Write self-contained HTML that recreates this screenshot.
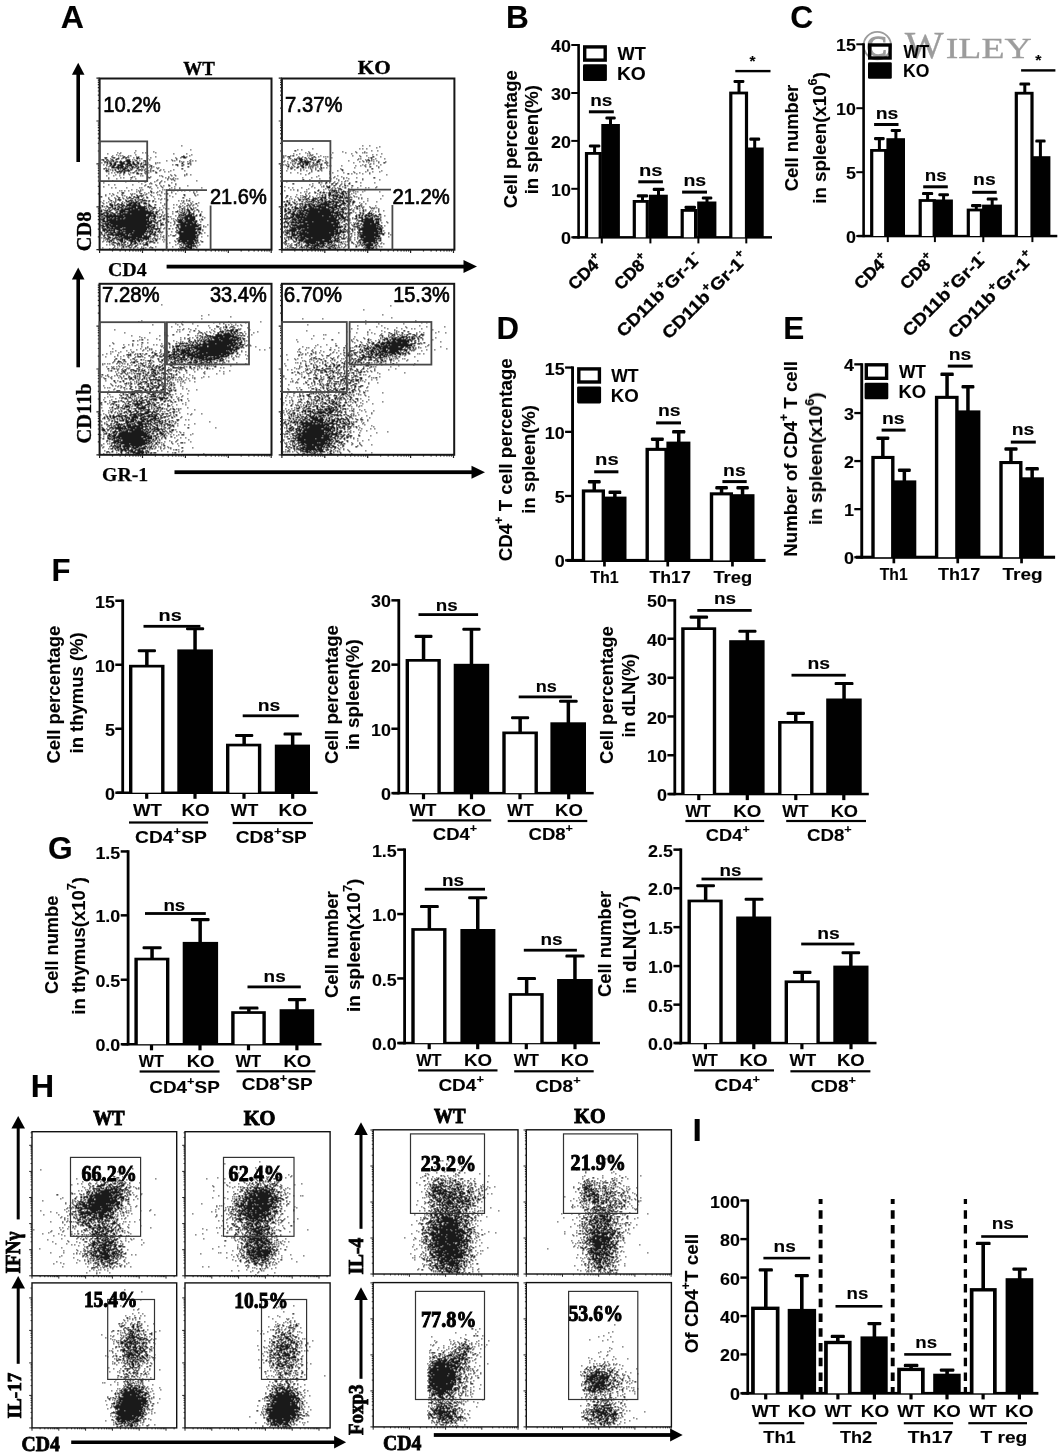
<!DOCTYPE html><html><head><meta charset="utf-8"><title>Figure</title><style>html,body{margin:0;padding:0;background:#fff}svg{display:block}text{font-family:"Liberation Sans",sans-serif}.sb{font-weight:bold;stroke:#000;stroke-width:.12px}.sn{font-weight:normal;stroke:#000;stroke-width:.7px}.rb{font-family:"Liberation Serif",serif;font-weight:bold;stroke:#000;stroke-width:.8px}.rn{font-family:"Liberation Serif",serif;font-weight:normal}.d{fill:none;stroke-width:1.1}</style></head><body><svg width="1064" height="1456" viewBox="0 0 1064 1456"><defs></defs><rect width="1064" height="1456" fill="#fff"/>
<g opacity="0.999">
<text class="sb" x="60.8" y="28" font-size="30.5" textLength="23.2" lengthAdjust="spacingAndGlyphs">A</text>
<text class="sb" x="506.1" y="27.6" font-size="30.5" textLength="22.8" lengthAdjust="spacingAndGlyphs">B</text>
<text class="sb" x="790.2" y="27.8" font-size="30.5" textLength="23" lengthAdjust="spacingAndGlyphs">C</text>
<text class="sb" x="496.6" y="338.9" font-size="30.5" textLength="22.5" lengthAdjust="spacingAndGlyphs">D</text>
<text class="sb" x="783.3" y="338.9" font-size="30.5" textLength="21" lengthAdjust="spacingAndGlyphs">E</text>
<text class="sb" x="51.5" y="580.8" font-size="30.5" textLength="19" lengthAdjust="spacingAndGlyphs">F</text>
<text class="sb" x="47.9" y="858.9" font-size="30.5" textLength="24.7" lengthAdjust="spacingAndGlyphs">G</text>
<text class="sb" x="30.8" y="1097" font-size="30.5" textLength="23.4" lengthAdjust="spacingAndGlyphs">H</text>
<text class="sb" x="692.4" y="1141.3" font-size="30.5" textLength="9.4" lengthAdjust="spacingAndGlyphs">I</text>
<rect x="577.3" y="44" width="2.6" height="194.6" fill="#000"/>
<rect x="572.6" y="236.1" width="199.4" height="2.5" fill="#000"/>
<rect x="571.3" y="44" width="7.3" height="2" fill="#000"/>
<text class="sb" x="551" y="52" font-size="17.4" textLength="19.9" lengthAdjust="spacingAndGlyphs">40</text>
<rect x="571.3" y="92" width="7.3" height="2" fill="#000"/>
<text class="sb" x="551" y="100" font-size="17.4" textLength="19.9" lengthAdjust="spacingAndGlyphs">30</text>
<rect x="571.3" y="139.9" width="7.3" height="2" fill="#000"/>
<text class="sb" x="551" y="147.9" font-size="17.4" textLength="19.9" lengthAdjust="spacingAndGlyphs">20</text>
<rect x="571.3" y="187.8" width="7.3" height="2" fill="#000"/>
<text class="sb" x="551" y="195.8" font-size="17.4" textLength="19.9" lengthAdjust="spacingAndGlyphs">10</text>
<rect x="571.3" y="236.3" width="7.3" height="2" fill="#000"/>
<text class="sb" x="560.9" y="244.3" font-size="17.4" textLength="10" lengthAdjust="spacingAndGlyphs">0</text>
<rect x="583" y="45.2" width="23.9" height="16.6" fill="#000"/>
<rect x="586.4" y="48.6" width="17.1" height="9.8" fill="#fff"/>
<rect x="583" y="64.3" width="23.9" height="16.8" rx="1.3"/>
<text class="sb" x="617.5" y="60.3" font-size="17.9" textLength="28.3" lengthAdjust="spacingAndGlyphs">WT</text>
<text class="sb" x="616.9" y="79.6" font-size="17.9" textLength="28.9" lengthAdjust="spacingAndGlyphs">KO</text>
<rect x="600.8" y="237.3" width="2" height="6.1" fill="#000"/>
<rect x="593.1" y="146" width="3" height="7" fill="#000"/>
<rect x="588.9" y="144.4" width="11.4" height="3.1" rx="1.2"/>
<rect x="584.9" y="152" width="16.9" height="85.3" fill="#000"/>
<rect x="588.1" y="154.8" width="10.5" height="82.5" fill="#fff"/>
<rect x="609" y="117.9" width="3" height="7.1" fill="#000"/>
<rect x="605.4" y="116.4" width="10.3" height="3.1" rx="1.2"/>
<rect x="601.3" y="124" width="18.6" height="113.3" fill="#000"/>
<text class="sb" x="590.3" y="105.8" font-size="17" textLength="22.1" lengthAdjust="spacingAndGlyphs">ns</text>
<rect x="588.9" y="110.3" width="24.9" height="3" fill="#000"/>
<rect x="649.4" y="237.3" width="2" height="6.1" fill="#000"/>
<rect x="641" y="195.9" width="3" height="5.1" fill="#000"/>
<rect x="636.8" y="194.3" width="11.3" height="3.1" rx="1.2"/>
<rect x="632.7" y="200" width="16.2" height="37.3" fill="#000"/>
<rect x="635.9" y="202.8" width="9.8" height="34.5" fill="#fff"/>
<rect x="657" y="189.4" width="3" height="6.3" fill="#000"/>
<rect x="652.7" y="187.8" width="11.7" height="3.1" rx="1.2"/>
<rect x="648.9" y="194.7" width="18.9" height="42.6" fill="#000"/>
<text class="sb" x="639" y="175.8" font-size="17" textLength="23.5" lengthAdjust="spacingAndGlyphs">ns</text>
<rect x="638.3" y="180.3" width="24.6" height="3" fill="#000"/>
<rect x="697.4" y="237.3" width="2" height="6.1" fill="#000"/>
<rect x="688.8" y="207.4" width="3" height="2.6" fill="#000"/>
<rect x="684.5" y="205.8" width="11.5" height="3.1" rx="1.2"/>
<rect x="680.6" y="209" width="16.6" height="28.3" fill="#000"/>
<rect x="683.8" y="211.8" width="10.2" height="25.5" fill="#fff"/>
<rect x="705.5" y="198" width="3" height="4.5" fill="#000"/>
<rect x="701.8" y="196.4" width="10.5" height="3.1" rx="1.2"/>
<rect x="697.2" y="201.5" width="19.2" height="35.8" fill="#000"/>
<text class="sb" x="683.4" y="185.6" font-size="17" textLength="22.8" lengthAdjust="spacingAndGlyphs">ns</text>
<rect x="682.1" y="190.6" width="24.9" height="3" fill="#000"/>
<rect x="745.3" y="237.3" width="2" height="6.1" fill="#000"/>
<rect x="737.5" y="81.4" width="3" height="11.2" fill="#000"/>
<rect x="733.5" y="79.9" width="10.9" height="3.1" rx="1.2"/>
<rect x="729.2" y="91.6" width="18.9" height="145.7" fill="#000"/>
<rect x="732.4" y="94.4" width="12.5" height="142.9" fill="#fff"/>
<rect x="753.2" y="139.2" width="3" height="9.3" fill="#000"/>
<rect x="749.3" y="137.6" width="10.9" height="3.1" rx="1.2"/>
<rect x="745.6" y="147.5" width="18.1" height="89.8" fill="#000"/>
<text class="sb" x="749.6" y="66" font-size="15" textLength="6" lengthAdjust="spacingAndGlyphs">*</text>
<rect x="735.3" y="69.9" width="35.2" height="2.4" fill="#000"/>
<g transform="translate(517,207.5) rotate(-90)"><text class="sb" x="-0.7" y="0" font-size="18.3" textLength="138" lengthAdjust="spacingAndGlyphs">Cell percentage</text></g>
<g transform="translate(538.3,193.1) rotate(-90)"><text class="sb" x="-1.2" y="0" font-size="18.3" textLength="109.3" lengthAdjust="spacingAndGlyphs">in spleen(%)</text></g>
<g transform="translate(575.5,290.5) rotate(-45)"><text class="sb" x="-0.7" y="0" font-size="17" textLength="34.8" lengthAdjust="spacingAndGlyphs" style="stroke-width:0.35px;">CD4</text><text class="sb" x="34.1" y="-7.8" font-size="11.6" textLength="6.9" lengthAdjust="spacingAndGlyphs" style="stroke-width:0.35px;">+</text></g>
<g transform="translate(621.5,290.5) rotate(-45)"><text class="sb" x="-0.7" y="0" font-size="17" textLength="34.8" lengthAdjust="spacingAndGlyphs" style="stroke-width:0.35px;">CD8</text><text class="sb" x="34.1" y="-7.8" font-size="11.6" textLength="6.9" lengthAdjust="spacingAndGlyphs" style="stroke-width:0.35px;">+</text></g>
<g transform="translate(624,337.5) rotate(-45)"><text class="sb" x="-0.8" y="0" font-size="17" textLength="59.8" lengthAdjust="spacingAndGlyphs" style="stroke-width:0.35px;">CD11b</text><text class="sb" x="59" y="-7.8" font-size="11.6" textLength="7.6" lengthAdjust="spacingAndGlyphs" style="stroke-width:0.35px;">+</text><text class="sb" x="66.6" y="0" font-size="17" textLength="39.5" lengthAdjust="spacingAndGlyphs" style="stroke-width:0.35px;">Gr-1</text><text class="sb" x="106.1" y="-7.8" font-size="11.6" textLength="4.4" lengthAdjust="spacingAndGlyphs" style="stroke-width:0.35px;">-</text></g>
<g transform="translate(669.5,339.5) rotate(-45)"><text class="sb" x="-0.8" y="0" font-size="17" textLength="59.6" lengthAdjust="spacingAndGlyphs" style="stroke-width:0.35px;">CD11b</text><text class="sb" x="58.9" y="-7.8" font-size="11.6" textLength="7.6" lengthAdjust="spacingAndGlyphs" style="stroke-width:0.35px;">+</text><text class="sb" x="66.5" y="0" font-size="17" textLength="39.4" lengthAdjust="spacingAndGlyphs" style="stroke-width:0.35px;">Gr-1</text><text class="sb" x="105.9" y="-7.8" font-size="11.6" textLength="7.6" lengthAdjust="spacingAndGlyphs" style="stroke-width:0.35px;">+</text></g>
<rect x="862.3" y="43.3" width="2.6" height="193.9" fill="#000"/>
<rect x="857.6" y="234.8" width="199.7" height="2.5" fill="#000"/>
<rect x="856.3" y="43.3" width="7.3" height="2" fill="#000"/>
<text class="sb" x="836" y="51.3" font-size="17.4" textLength="19.9" lengthAdjust="spacingAndGlyphs">15</text>
<rect x="856.3" y="107.2" width="7.3" height="2" fill="#000"/>
<text class="sb" x="836" y="115.2" font-size="17.4" textLength="19.9" lengthAdjust="spacingAndGlyphs">10</text>
<rect x="856.3" y="171.2" width="7.3" height="2" fill="#000"/>
<text class="sb" x="845.9" y="179.2" font-size="17.4" textLength="10" lengthAdjust="spacingAndGlyphs">5</text>
<rect x="856.3" y="235" width="7.3" height="2" fill="#000"/>
<text class="sb" x="845.9" y="243" font-size="17.4" textLength="10" lengthAdjust="spacingAndGlyphs">0</text>
<rect x="868" y="43.3" width="23.8" height="16.4" fill="#000"/>
<rect x="871.4" y="46.7" width="17" height="9.6" fill="#fff"/>
<rect x="868" y="62.3" width="23.8" height="16.5" rx="1.3"/>
<text class="sb" x="903.4" y="58.1" font-size="17.9" textLength="25.9" lengthAdjust="spacingAndGlyphs">WT</text>
<text class="sb" x="903" y="77.3" font-size="17.9" textLength="26.3" lengthAdjust="spacingAndGlyphs">KO</text>
<rect x="886.8" y="236" width="2" height="6.1" fill="#000"/>
<rect x="877.9" y="138.7" width="3" height="11.3" fill="#000"/>
<rect x="874" y="137.1" width="10.7" height="3.1" rx="1.2"/>
<rect x="870.1" y="149" width="17.2" height="87" fill="#000"/>
<rect x="873.3" y="151.8" width="10.8" height="84.2" fill="#fff"/>
<rect x="894.4" y="130.5" width="3" height="8.7" fill="#000"/>
<rect x="890.7" y="128.9" width="10.3" height="3.1" rx="1.2"/>
<rect x="886.4" y="138.2" width="18.6" height="97.8" fill="#000"/>
<text class="sb" x="875.7" y="118.5" font-size="17" textLength="22.6" lengthAdjust="spacingAndGlyphs">ns</text>
<rect x="874.1" y="123" width="24.4" height="3" fill="#000"/>
<rect x="933.9" y="236" width="2" height="6.1" fill="#000"/>
<rect x="926.1" y="193.6" width="3" height="6.5" fill="#000"/>
<rect x="922" y="192" width="11.2" height="3.1" rx="1.2"/>
<rect x="918.6" y="199.1" width="17.2" height="36.9" fill="#000"/>
<rect x="921.8" y="201.9" width="10.8" height="34.1" fill="#fff"/>
<rect x="942.1" y="194.8" width="3" height="5.7" fill="#000"/>
<rect x="938.3" y="193.2" width="10.7" height="3.1" rx="1.2"/>
<rect x="934.9" y="199.5" width="18" height="36.5" fill="#000"/>
<text class="sb" x="924.8" y="180.6" font-size="17" textLength="21.9" lengthAdjust="spacingAndGlyphs">ns</text>
<rect x="923.2" y="185.3" width="24.6" height="3" fill="#000"/>
<rect x="982.3" y="236" width="2" height="6.1" fill="#000"/>
<rect x="974.8" y="205.7" width="3" height="3.9" fill="#000"/>
<rect x="971" y="204.1" width="10.5" height="3.1" rx="1.2"/>
<rect x="966.7" y="208.6" width="16.3" height="27.4" fill="#000"/>
<rect x="969.9" y="211.4" width="9.9" height="24.6" fill="#fff"/>
<rect x="990.7" y="199.1" width="3" height="6.5" fill="#000"/>
<rect x="986.7" y="197.5" width="10.9" height="3.1" rx="1.2"/>
<rect x="982.1" y="204.6" width="19.8" height="31.4" fill="#000"/>
<text class="sb" x="973.1" y="185.4" font-size="17" textLength="22.6" lengthAdjust="spacingAndGlyphs">ns</text>
<rect x="972.2" y="190.8" width="24.5" height="3" fill="#000"/>
<rect x="1031.4" y="236" width="2" height="6.1" fill="#000"/>
<rect x="1023.3" y="84.1" width="3" height="8.7" fill="#000"/>
<rect x="1019.4" y="82.5" width="10.8" height="3.1" rx="1.2"/>
<rect x="1014.7" y="91.8" width="18.9" height="144.2" fill="#000"/>
<rect x="1017.9" y="94.6" width="12.5" height="141.4" fill="#fff"/>
<rect x="1038.9" y="141.1" width="3" height="16.1" fill="#000"/>
<rect x="1035.3" y="139.5" width="10.3" height="3.1" rx="1.2"/>
<rect x="1032.4" y="156.2" width="18" height="79.8" fill="#000"/>
<text class="sb" x="1035.3" y="65" font-size="15" textLength="6.2" lengthAdjust="spacingAndGlyphs">*</text>
<rect x="1021.1" y="69.2" width="34.3" height="2.4" fill="#000"/>
<g transform="translate(798.1,190.6) rotate(-90)"><text class="sb" x="-0.7" y="0" font-size="18.3" textLength="106.6" lengthAdjust="spacingAndGlyphs">Cell number</text></g>
<g transform="translate(825.5,202.6) rotate(-90)"><text class="sb" x="-1.2" y="0" font-size="18.3" textLength="118.4" lengthAdjust="spacingAndGlyphs">in spleen(x10</text><text class="sb" x="117.2" y="-8.4" font-size="12.4" textLength="7.1" lengthAdjust="spacingAndGlyphs">6</text><text class="sb" x="124.3" y="0" font-size="18.3" textLength="6.2" lengthAdjust="spacingAndGlyphs">)</text></g>
<g transform="translate(861.5,290) rotate(-45)"><text class="sb" x="-0.7" y="0" font-size="17" textLength="34.8" lengthAdjust="spacingAndGlyphs" style="stroke-width:0.35px;">CD4</text><text class="sb" x="34.1" y="-7.8" font-size="11.6" textLength="6.9" lengthAdjust="spacingAndGlyphs" style="stroke-width:0.35px;">+</text></g>
<g transform="translate(907.5,290) rotate(-45)"><text class="sb" x="-0.7" y="0" font-size="17" textLength="34.8" lengthAdjust="spacingAndGlyphs" style="stroke-width:0.35px;">CD8</text><text class="sb" x="34.1" y="-7.8" font-size="11.6" textLength="6.9" lengthAdjust="spacingAndGlyphs" style="stroke-width:0.35px;">+</text></g>
<g transform="translate(910,337) rotate(-45)"><text class="sb" x="-0.8" y="0" font-size="17" textLength="59.8" lengthAdjust="spacingAndGlyphs" style="stroke-width:0.35px;">CD11b</text><text class="sb" x="59" y="-7.8" font-size="11.6" textLength="7.6" lengthAdjust="spacingAndGlyphs" style="stroke-width:0.35px;">+</text><text class="sb" x="66.6" y="0" font-size="17" textLength="39.5" lengthAdjust="spacingAndGlyphs" style="stroke-width:0.35px;">Gr-1</text><text class="sb" x="106.1" y="-7.8" font-size="11.6" textLength="4.4" lengthAdjust="spacingAndGlyphs" style="stroke-width:0.35px;">-</text></g>
<g transform="translate(955.5,339) rotate(-45)"><text class="sb" x="-0.8" y="0" font-size="17" textLength="59.6" lengthAdjust="spacingAndGlyphs" style="stroke-width:0.35px;">CD11b</text><text class="sb" x="58.9" y="-7.8" font-size="11.6" textLength="7.6" lengthAdjust="spacingAndGlyphs" style="stroke-width:0.35px;">+</text><text class="sb" x="66.5" y="0" font-size="17" textLength="39.4" lengthAdjust="spacingAndGlyphs" style="stroke-width:0.35px;">Gr-1</text><text class="sb" x="105.9" y="-7.8" font-size="11.6" textLength="7.6" lengthAdjust="spacingAndGlyphs" style="stroke-width:0.35px;">+</text></g>
<rect x="571.1" y="366.4" width="2.9" height="195.6" fill="#000"/>
<rect x="566.6" y="558.9" width="199" height="3.1" fill="#000"/>
<rect x="565.1" y="366.4" width="7.5" height="2.3" fill="#000"/>
<text class="sb" x="544.8" y="374.5" font-size="17.4" textLength="19.9" lengthAdjust="spacingAndGlyphs">15</text>
<rect x="565.1" y="430.7" width="7.5" height="2.3" fill="#000"/>
<text class="sb" x="544.8" y="438.8" font-size="17.4" textLength="19.9" lengthAdjust="spacingAndGlyphs">10</text>
<rect x="565.1" y="494.8" width="7.5" height="2.3" fill="#000"/>
<text class="sb" x="554.8" y="502.9" font-size="17.4" textLength="10" lengthAdjust="spacingAndGlyphs">5</text>
<rect x="565.1" y="559.2" width="7.5" height="2.3" fill="#000"/>
<text class="sb" x="554.8" y="567.4" font-size="17.4" textLength="10" lengthAdjust="spacingAndGlyphs">0</text>
<rect x="577.1" y="367.2" width="24" height="16.5" fill="#000"/>
<rect x="580.5" y="370.6" width="17.2" height="9.7" fill="#fff"/>
<rect x="577.1" y="386.5" width="24" height="16.9" rx="1.3"/>
<text class="sb" x="611.2" y="382.3" font-size="17.9" textLength="27.4" lengthAdjust="spacingAndGlyphs">WT</text>
<text class="sb" x="610.7" y="401.5" font-size="17.9" textLength="28" lengthAdjust="spacingAndGlyphs">KO</text>
<rect x="603.1" y="560.4" width="2.7" height="6.1" fill="#000"/>
<rect x="592.5" y="481.6" width="3.5" height="8.8" fill="#000"/>
<rect x="587.9" y="479.9" width="12.8" height="3.5" rx="1.2"/>
<rect x="581.8" y="489.4" width="23.2" height="71" fill="#000"/>
<rect x="585.2" y="492.5" width="16.4" height="67.9" fill="#fff"/>
<rect x="613.1" y="492.4" width="3.5" height="5.2" fill="#000"/>
<rect x="608.5" y="490.6" width="12.8" height="3.5" rx="1.2"/>
<rect x="603.3" y="496.6" width="23.2" height="63.8" fill="#000"/>
<text class="sb" x="595.1" y="465.3" font-size="17" textLength="23.6" lengthAdjust="spacingAndGlyphs">ns</text>
<rect x="594.2" y="470.3" width="24.2" height="3" fill="#000"/>
<rect x="666.4" y="560.4" width="2.7" height="6.1" fill="#000"/>
<rect x="655.6" y="439.2" width="3.5" height="9.6" fill="#000"/>
<rect x="650.9" y="437.4" width="12.9" height="3.5" rx="1.2"/>
<rect x="645.5" y="447.8" width="22.3" height="112.6" fill="#000"/>
<rect x="648.9" y="450.9" width="15.5" height="109.5" fill="#fff"/>
<rect x="677" y="431.8" width="3.5" height="10.8" fill="#000"/>
<rect x="672.1" y="430.1" width="13.2" height="3.5" rx="1.2"/>
<rect x="666.4" y="441.6" width="24" height="118.8" fill="#000"/>
<text class="sb" x="657.9" y="416.4" font-size="17" textLength="22.6" lengthAdjust="spacingAndGlyphs">ns</text>
<rect x="656.1" y="421.4" width="24.9" height="3" fill="#000"/>
<rect x="731.1" y="560.4" width="2.7" height="6.1" fill="#000"/>
<rect x="719.8" y="487.6" width="3.5" height="5.7" fill="#000"/>
<rect x="715.3" y="485.9" width="12.6" height="3.5" rx="1.2"/>
<rect x="709.8" y="492.3" width="23.2" height="68.1" fill="#000"/>
<rect x="713.2" y="495.4" width="16.4" height="65" fill="#fff"/>
<rect x="740.8" y="487.6" width="3.5" height="7.6" fill="#000"/>
<rect x="736.4" y="485.9" width="12.4" height="3.5" rx="1.2"/>
<rect x="731.6" y="494.2" width="22.9" height="66.2" fill="#000"/>
<text class="sb" x="723.1" y="475.6" font-size="17" textLength="22.6" lengthAdjust="spacingAndGlyphs">ns</text>
<rect x="722.4" y="480.1" width="24.3" height="3" fill="#000"/>
<text class="sb" x="590.2" y="582.9" font-size="17" textLength="28.6" lengthAdjust="spacingAndGlyphs">Th1</text>
<text class="sb" x="649.5" y="582.9" font-size="17" textLength="41.3" lengthAdjust="spacingAndGlyphs">Th17</text>
<text class="sb" x="713.4" y="582.9" font-size="17" textLength="38.8" lengthAdjust="spacingAndGlyphs">Treg</text>
<g transform="translate(511.5,560.6) rotate(-90)"><text class="sb" x="-0.7" y="0" font-size="18.3" textLength="37.5" lengthAdjust="spacingAndGlyphs">CD4</text><text class="sb" x="36.7" y="-8.4" font-size="12.4" textLength="7.4" lengthAdjust="spacingAndGlyphs">+</text><text class="sb" x="44.1" y="0" font-size="18.3" textLength="158.2" lengthAdjust="spacingAndGlyphs"> T cell percentage</text></g>
<g transform="translate(535,512.5) rotate(-90)"><text class="sb" x="-1.2" y="0" font-size="18.3" textLength="108.5" lengthAdjust="spacingAndGlyphs">in spleen(%)</text></g>
<rect x="860.3" y="363.2" width="2.9" height="195.5" fill="#000"/>
<rect x="855.8" y="555.7" width="199.3" height="3.1" fill="#000"/>
<rect x="854.3" y="363.2" width="7.5" height="2.3" fill="#000"/>
<text class="sb" x="844" y="371.4" font-size="17.4" textLength="10" lengthAdjust="spacingAndGlyphs">4</text>
<rect x="854.3" y="411.9" width="7.5" height="2.3" fill="#000"/>
<text class="sb" x="844" y="420" font-size="17.4" textLength="10" lengthAdjust="spacingAndGlyphs">3</text>
<rect x="854.3" y="459.9" width="7.5" height="2.3" fill="#000"/>
<text class="sb" x="844" y="468" font-size="17.4" textLength="10" lengthAdjust="spacingAndGlyphs">2</text>
<rect x="854.3" y="508" width="7.5" height="2.3" fill="#000"/>
<text class="sb" x="844" y="516.1" font-size="17.4" textLength="10" lengthAdjust="spacingAndGlyphs">1</text>
<rect x="854.3" y="556.1" width="7.5" height="2.3" fill="#000"/>
<text class="sb" x="844" y="564.2" font-size="17.4" textLength="10" lengthAdjust="spacingAndGlyphs">0</text>
<rect x="864.6" y="363.1" width="23.7" height="16.9" fill="#000"/>
<rect x="868" y="366.5" width="16.9" height="10.1" fill="#fff"/>
<rect x="864.6" y="382.8" width="23.7" height="16.5" rx="1.3"/>
<text class="sb" x="898.9" y="377.8" font-size="17.9" textLength="27.1" lengthAdjust="spacingAndGlyphs">WT</text>
<text class="sb" x="898.4" y="397.9" font-size="17.9" textLength="27.6" lengthAdjust="spacingAndGlyphs">KO</text>
<rect x="892.5" y="557.2" width="2.7" height="6.1" fill="#000"/>
<rect x="881.1" y="438.2" width="3.5" height="18.7" fill="#000"/>
<rect x="876.4" y="436.4" width="12.9" height="3.5" rx="1.2"/>
<rect x="871.3" y="455.9" width="23.2" height="101.3" fill="#000"/>
<rect x="874.7" y="459" width="16.4" height="98.2" fill="#fff"/>
<rect x="902.6" y="470.1" width="3.5" height="11.3" fill="#000"/>
<rect x="897.9" y="468.4" width="12.9" height="3.5" rx="1.2"/>
<rect x="892.7" y="480.4" width="23.6" height="76.8" fill="#000"/>
<text class="sb" x="882" y="424.1" font-size="17" textLength="22.6" lengthAdjust="spacingAndGlyphs">ns</text>
<rect x="881.6" y="428.6" width="24" height="3" fill="#000"/>
<rect x="956.4" y="557.2" width="2.7" height="6.1" fill="#000"/>
<rect x="945.3" y="374.3" width="3.5" height="22.5" fill="#000"/>
<rect x="940.4" y="372.6" width="13.4" height="3.5" rx="1.2"/>
<rect x="934.9" y="395.8" width="23.7" height="161.4" fill="#000"/>
<rect x="938.3" y="398.9" width="16.9" height="158.3" fill="#fff"/>
<rect x="966.2" y="386.7" width="3.5" height="24.7" fill="#000"/>
<rect x="961.5" y="384.9" width="12.9" height="3.5" rx="1.2"/>
<rect x="956.4" y="410.4" width="24" height="146.8" fill="#000"/>
<text class="sb" x="948.7" y="359.7" font-size="17" textLength="22.6" lengthAdjust="spacingAndGlyphs">ns</text>
<rect x="947.8" y="364.6" width="24.9" height="3" fill="#000"/>
<rect x="1020.2" y="557.2" width="2.7" height="6.1" fill="#000"/>
<rect x="1009.2" y="449" width="3.5" height="13" fill="#000"/>
<rect x="1004.4" y="447.2" width="13.2" height="3.5" rx="1.2"/>
<rect x="999.3" y="461" width="23.2" height="96.2" fill="#000"/>
<rect x="1002.7" y="464.1" width="16.4" height="93.1" fill="#fff"/>
<rect x="1030.4" y="468.8" width="3.5" height="9.5" fill="#000"/>
<rect x="1025.5" y="467.1" width="13.3" height="3.5" rx="1.2"/>
<rect x="1020.7" y="477.3" width="23.2" height="79.9" fill="#000"/>
<text class="sb" x="1011.7" y="435.3" font-size="17" textLength="22.6" lengthAdjust="spacingAndGlyphs">ns</text>
<rect x="1010.8" y="440.6" width="25" height="3" fill="#000"/>
<text class="sb" x="879.7" y="580.3" font-size="17" textLength="28" lengthAdjust="spacingAndGlyphs">Th1</text>
<text class="sb" x="938.1" y="580.3" font-size="17" textLength="42.1" lengthAdjust="spacingAndGlyphs">Th17</text>
<text class="sb" x="1002.5" y="580.3" font-size="17" textLength="40.1" lengthAdjust="spacingAndGlyphs">Treg</text>
<g transform="translate(796.7,555.5) rotate(-90)"><text class="sb" x="-1.2" y="0" font-size="18.3" textLength="135.5" lengthAdjust="spacingAndGlyphs">Number of CD4</text><text class="sb" x="134.3" y="-8.4" font-size="12.4" textLength="7.4" lengthAdjust="spacingAndGlyphs">+</text><text class="sb" x="141.7" y="0" font-size="18.3" textLength="52.8" lengthAdjust="spacingAndGlyphs"> T cell</text></g>
<g transform="translate(822,523.7) rotate(-90)"><text class="sb" x="-1.2" y="0" font-size="18.3" textLength="119.2" lengthAdjust="spacingAndGlyphs">in spleen(x10</text><text class="sb" x="118" y="-8.4" font-size="12.4" textLength="7.1" lengthAdjust="spacingAndGlyphs">6</text><text class="sb" x="125.1" y="0" font-size="18.3" textLength="6.3" lengthAdjust="spacingAndGlyphs">)</text></g>
<rect x="121.3" y="599.5" width="2.8" height="194.4" fill="#000"/>
<rect x="116.7" y="791.5" width="201" height="2.5" fill="#000"/>
<rect x="115.3" y="599.5" width="7.4" height="2.5" fill="#000"/>
<text class="sb" x="95" y="607.8" font-size="17.4" textLength="19.9" lengthAdjust="spacingAndGlyphs">15</text>
<rect x="115.3" y="663.5" width="7.4" height="2.5" fill="#000"/>
<text class="sb" x="95" y="671.8" font-size="17.4" textLength="19.9" lengthAdjust="spacingAndGlyphs">10</text>
<rect x="115.3" y="727.5" width="7.4" height="2.5" fill="#000"/>
<text class="sb" x="104.9" y="735.8" font-size="17.4" textLength="10" lengthAdjust="spacingAndGlyphs">5</text>
<rect x="115.3" y="791.5" width="7.4" height="2.5" fill="#000"/>
<text class="sb" x="104.9" y="799.7" font-size="17.4" textLength="10" lengthAdjust="spacingAndGlyphs">0</text>
<rect x="145.1" y="792.7" width="3.2" height="6.1" fill="#000"/>
<rect x="193.4" y="792.7" width="3.2" height="6.1" fill="#000"/>
<rect x="242.4" y="792.7" width="3.2" height="6.1" fill="#000"/>
<rect x="291.1" y="792.7" width="3.2" height="6.1" fill="#000"/>
<rect x="145.1" y="650.8" width="3.5" height="15" fill="#000"/>
<rect x="137.7" y="649.2" width="18.3" height="3.1" rx="1.2"/>
<rect x="129" y="664.8" width="35.5" height="127.9" fill="#000"/>
<rect x="132.4" y="667.5" width="28.7" height="125.2" fill="#fff"/>
<rect x="193.3" y="628.8" width="3.5" height="21.6" fill="#000"/>
<rect x="186" y="627.2" width="18.2" height="3.1" rx="1.2"/>
<rect x="177.3" y="649.4" width="35.6" height="143.3" fill="#000"/>
<text class="sb" x="158.5" y="620.6" font-size="17" textLength="23.2" lengthAdjust="spacingAndGlyphs">ns</text>
<rect x="143.5" y="624.9" width="56.9" height="2.8" fill="#000"/>
<text class="sb" x="132.9" y="815.8" font-size="17" textLength="28.9" lengthAdjust="spacingAndGlyphs">WT</text>
<text class="sb" x="181.5" y="815.8" font-size="17" textLength="28.3" lengthAdjust="spacingAndGlyphs">KO</text>
<rect x="129" y="821.4" width="79.1" height="2.2" fill="#000"/>
<text class="sb" x="135" y="842.7" font-size="17" textLength="38.5" lengthAdjust="spacingAndGlyphs">CD4</text><text class="sb" x="173.5" y="834.9" font-size="11.6" textLength="7.6" lengthAdjust="spacingAndGlyphs">+</text><text class="sb" x="181.2" y="842.7" font-size="17" textLength="25.7" lengthAdjust="spacingAndGlyphs">SP</text>
<rect x="242.4" y="735.4" width="3.5" height="9.3" fill="#000"/>
<rect x="235" y="733.9" width="18.3" height="3.1" rx="1.2"/>
<rect x="226" y="743.7" width="35.3" height="49" fill="#000"/>
<rect x="229.4" y="746.4" width="28.5" height="46.3" fill="#fff"/>
<rect x="290.9" y="734" width="3.5" height="11.6" fill="#000"/>
<rect x="283.5" y="732.5" width="18.4" height="3.1" rx="1.2"/>
<rect x="274.8" y="744.6" width="35.2" height="48.1" fill="#000"/>
<text class="sb" x="257.7" y="711" font-size="17" textLength="22.6" lengthAdjust="spacingAndGlyphs">ns</text>
<rect x="242.7" y="714.4" width="56.1" height="2.8" fill="#000"/>
<text class="sb" x="230.8" y="815.8" font-size="17" textLength="27.4" lengthAdjust="spacingAndGlyphs">WT</text>
<text class="sb" x="278.4" y="815.8" font-size="17" textLength="28.6" lengthAdjust="spacingAndGlyphs">KO</text>
<rect x="232.7" y="821.9" width="80.2" height="2.2" fill="#000"/>
<text class="sb" x="235.7" y="842.7" font-size="17" textLength="38.1" lengthAdjust="spacingAndGlyphs">CD8</text><text class="sb" x="273.9" y="834.9" font-size="11.6" textLength="7.6" lengthAdjust="spacingAndGlyphs">+</text><text class="sb" x="281.4" y="842.7" font-size="17" textLength="25.4" lengthAdjust="spacingAndGlyphs">SP</text>
<g transform="translate(60.1,762.9) rotate(-90)"><text class="sb" x="-0.7" y="0" font-size="18.3" textLength="137.9" lengthAdjust="spacingAndGlyphs">Cell percentage</text></g>
<g transform="translate(82.9,752.3) rotate(-90)"><text class="sb" x="-1.2" y="0" font-size="18.3" textLength="121.2" lengthAdjust="spacingAndGlyphs">in thymus (%)</text></g>
<rect x="397.4" y="599.1" width="2.8" height="195.2" fill="#000"/>
<rect x="392.8" y="791.9" width="200.9" height="2.5" fill="#000"/>
<rect x="391.4" y="599.1" width="7.4" height="2.5" fill="#000"/>
<text class="sb" x="371.1" y="607.4" font-size="17.4" textLength="19.9" lengthAdjust="spacingAndGlyphs">30</text>
<rect x="391.4" y="663.4" width="7.4" height="2.5" fill="#000"/>
<text class="sb" x="371.1" y="671.6" font-size="17.4" textLength="19.9" lengthAdjust="spacingAndGlyphs">20</text>
<rect x="391.4" y="727.5" width="7.4" height="2.5" fill="#000"/>
<text class="sb" x="371.1" y="735.7" font-size="17.4" textLength="19.9" lengthAdjust="spacingAndGlyphs">10</text>
<rect x="391.4" y="791.9" width="7.4" height="2.5" fill="#000"/>
<text class="sb" x="381" y="800.1" font-size="17.4" textLength="10" lengthAdjust="spacingAndGlyphs">0</text>
<rect x="421.9" y="793.1" width="3.2" height="6.1" fill="#000"/>
<rect x="469.9" y="793.1" width="3.2" height="6.1" fill="#000"/>
<rect x="518.4" y="793.1" width="3.2" height="6.1" fill="#000"/>
<rect x="567.1" y="793.1" width="3.2" height="6.1" fill="#000"/>
<rect x="421.8" y="636.3" width="3.5" height="23.7" fill="#000"/>
<rect x="414.6" y="634.8" width="17.9" height="3.1" rx="1.2"/>
<rect x="405.6" y="659" width="35.2" height="134.1" fill="#000"/>
<rect x="409" y="661.7" width="28.4" height="131.4" fill="#fff"/>
<rect x="469.7" y="629.2" width="3.5" height="35.6" fill="#000"/>
<rect x="462.3" y="627.7" width="18.3" height="3.1" rx="1.2"/>
<rect x="453.7" y="663.8" width="35.5" height="129.3" fill="#000"/>
<text class="sb" x="435.7" y="611.3" font-size="17" textLength="21.9" lengthAdjust="spacingAndGlyphs">ns</text>
<rect x="418.5" y="613.2" width="59.6" height="2.8" fill="#000"/>
<text class="sb" x="409.4" y="815.8" font-size="17" textLength="27" lengthAdjust="spacingAndGlyphs">WT</text>
<text class="sb" x="457.6" y="815.8" font-size="17" textLength="28.2" lengthAdjust="spacingAndGlyphs">KO</text>
<rect x="412.3" y="819.3" width="78.9" height="2.2" fill="#000"/>
<text class="sb" x="432.8" y="840.2" font-size="17" textLength="37.1" lengthAdjust="spacingAndGlyphs">CD4</text><text class="sb" x="469.8" y="832.4" font-size="11.6" textLength="7.4" lengthAdjust="spacingAndGlyphs">+</text>
<rect x="518.4" y="717.7" width="3.5" height="14.8" fill="#000"/>
<rect x="511" y="716.2" width="18.2" height="3.1" rx="1.2"/>
<rect x="502.3" y="731.5" width="35.6" height="61.6" fill="#000"/>
<rect x="505.7" y="734.2" width="28.8" height="58.9" fill="#fff"/>
<rect x="566.6" y="701.2" width="3.5" height="22.1" fill="#000"/>
<rect x="559" y="699.7" width="18.7" height="3.1" rx="1.2"/>
<rect x="550.4" y="722.3" width="35.6" height="70.8" fill="#000"/>
<text class="sb" x="535.7" y="692.1" font-size="17" textLength="21.1" lengthAdjust="spacingAndGlyphs">ns</text>
<rect x="518.7" y="695.5" width="53.2" height="2.8" fill="#000"/>
<text class="sb" x="507.1" y="815.8" font-size="17" textLength="26.5" lengthAdjust="spacingAndGlyphs">WT</text>
<text class="sb" x="555" y="815.8" font-size="17" textLength="27.8" lengthAdjust="spacingAndGlyphs">KO</text>
<rect x="507.7" y="819.9" width="79.6" height="2.2" fill="#000"/>
<text class="sb" x="528.5" y="840.2" font-size="17" textLength="37.2" lengthAdjust="spacingAndGlyphs">CD8</text><text class="sb" x="565.6" y="832.4" font-size="11.6" textLength="7.4" lengthAdjust="spacingAndGlyphs">+</text>
<g transform="translate(337.6,763.3) rotate(-90)"><text class="sb" x="-0.7" y="0" font-size="18.3" textLength="138.9" lengthAdjust="spacingAndGlyphs">Cell percentage</text></g>
<g transform="translate(359.4,748.8) rotate(-90)"><text class="sb" x="-1.2" y="0" font-size="18.3" textLength="110.8" lengthAdjust="spacingAndGlyphs">in spleen(%)</text></g>
<rect x="673.4" y="599.1" width="2.8" height="196.1" fill="#000"/>
<rect x="668.8" y="792.8" width="200" height="2.5" fill="#000"/>
<rect x="667.4" y="599.1" width="7.4" height="2.5" fill="#000"/>
<text class="sb" x="647.1" y="607.4" font-size="17.4" textLength="19.9" lengthAdjust="spacingAndGlyphs">50</text>
<rect x="667.4" y="637.5" width="7.4" height="2.5" fill="#000"/>
<text class="sb" x="647.1" y="645.8" font-size="17.4" textLength="19.9" lengthAdjust="spacingAndGlyphs">40</text>
<rect x="667.4" y="676.5" width="7.4" height="2.5" fill="#000"/>
<text class="sb" x="647.1" y="684.7" font-size="17.4" textLength="19.9" lengthAdjust="spacingAndGlyphs">30</text>
<rect x="667.4" y="715.2" width="7.4" height="2.5" fill="#000"/>
<text class="sb" x="647.1" y="723.5" font-size="17.4" textLength="19.9" lengthAdjust="spacingAndGlyphs">20</text>
<rect x="667.4" y="754" width="7.4" height="2.5" fill="#000"/>
<text class="sb" x="647.1" y="762.2" font-size="17.4" textLength="19.9" lengthAdjust="spacingAndGlyphs">10</text>
<rect x="667.4" y="792.8" width="7.4" height="2.5" fill="#000"/>
<text class="sb" x="657" y="801" font-size="17.4" textLength="10" lengthAdjust="spacingAndGlyphs">0</text>
<rect x="697.2" y="794" width="3.2" height="6.1" fill="#000"/>
<rect x="745.7" y="794" width="3.2" height="6.1" fill="#000"/>
<rect x="794.2" y="794" width="3.2" height="6.1" fill="#000"/>
<rect x="842.2" y="794" width="3.2" height="6.1" fill="#000"/>
<rect x="697.1" y="617.1" width="3.5" height="11.2" fill="#000"/>
<rect x="689.6" y="615.6" width="18.5" height="3.1" rx="1.2"/>
<rect x="681.2" y="627.3" width="35" height="166.7" fill="#000"/>
<rect x="684.6" y="630" width="28.2" height="164" fill="#fff"/>
<rect x="745.6" y="631.2" width="3.5" height="10" fill="#000"/>
<rect x="738.3" y="629.7" width="18.2" height="3.1" rx="1.2"/>
<rect x="729.2" y="640.2" width="35.4" height="153.8" fill="#000"/>
<text class="sb" x="714" y="604.2" font-size="17" textLength="22.1" lengthAdjust="spacingAndGlyphs">ns</text>
<rect x="697.3" y="609" width="54.4" height="2.8" fill="#000"/>
<text class="sb" x="685.4" y="816.5" font-size="17" textLength="25.5" lengthAdjust="spacingAndGlyphs">WT</text>
<text class="sb" x="733.2" y="816.5" font-size="17" textLength="28" lengthAdjust="spacingAndGlyphs">KO</text>
<rect x="685.4" y="819.9" width="78.8" height="2.2" fill="#000"/>
<text class="sb" x="705.8" y="840.8" font-size="17" textLength="36.6" lengthAdjust="spacingAndGlyphs">CD4</text><text class="sb" x="742.4" y="833" font-size="11.6" textLength="7.3" lengthAdjust="spacingAndGlyphs">+</text>
<rect x="794" y="713.3" width="3.5" height="8.7" fill="#000"/>
<rect x="786.5" y="711.8" width="18.5" height="3.1" rx="1.2"/>
<rect x="778.1" y="721" width="35.4" height="73" fill="#000"/>
<rect x="781.5" y="723.7" width="28.6" height="70.3" fill="#fff"/>
<rect x="842.3" y="683.5" width="3.5" height="16" fill="#000"/>
<rect x="834.6" y="682" width="18.9" height="3.1" rx="1.2"/>
<rect x="826.2" y="698.5" width="35.5" height="95.5" fill="#000"/>
<text class="sb" x="807.5" y="669" font-size="17" textLength="22.6" lengthAdjust="spacingAndGlyphs">ns</text>
<rect x="791.5" y="673.8" width="54.3" height="2.8" fill="#000"/>
<text class="sb" x="782.3" y="816.5" font-size="17" textLength="26.1" lengthAdjust="spacingAndGlyphs">WT</text>
<text class="sb" x="830.7" y="816.5" font-size="17" textLength="27.3" lengthAdjust="spacingAndGlyphs">KO</text>
<rect x="786.2" y="819.9" width="79.8" height="2.2" fill="#000"/>
<text class="sb" x="807" y="840.8" font-size="17" textLength="37.3" lengthAdjust="spacingAndGlyphs">CD8</text><text class="sb" x="844.3" y="833" font-size="11.6" textLength="7.4" lengthAdjust="spacingAndGlyphs">+</text>
<g transform="translate(613.1,763.3) rotate(-90)"><text class="sb" x="-0.7" y="0" font-size="18.3" textLength="137.9" lengthAdjust="spacingAndGlyphs">Cell percentage</text></g>
<g transform="translate(635.4,736.3) rotate(-90)"><text class="sb" x="-1.2" y="0" font-size="18.3" textLength="83.7" lengthAdjust="spacingAndGlyphs">in dLN(%)</text></g>
<rect x="126.7" y="850.2" width="2.8" height="195.2" fill="#000"/>
<rect x="122.1" y="1043" width="199.4" height="2.5" fill="#000"/>
<rect x="120.7" y="850.2" width="7.4" height="2.5" fill="#000"/>
<text class="sb" x="95.4" y="858.5" font-size="17.4" textLength="24.9" lengthAdjust="spacingAndGlyphs">1.5</text>
<rect x="120.7" y="914.1" width="7.4" height="2.5" fill="#000"/>
<text class="sb" x="95.4" y="922.4" font-size="17.4" textLength="24.9" lengthAdjust="spacingAndGlyphs">1.0</text>
<rect x="120.7" y="978.5" width="7.4" height="2.5" fill="#000"/>
<text class="sb" x="95.4" y="986.8" font-size="17.4" textLength="24.9" lengthAdjust="spacingAndGlyphs">0.5</text>
<rect x="120.7" y="1043" width="7.4" height="2.5" fill="#000"/>
<text class="sb" x="95.4" y="1051.2" font-size="17.4" textLength="24.9" lengthAdjust="spacingAndGlyphs">0.0</text>
<rect x="149.9" y="1044.2" width="3.2" height="6.1" fill="#000"/>
<rect x="198.4" y="1044.2" width="3.2" height="6.1" fill="#000"/>
<rect x="246.9" y="1044.2" width="3.2" height="6.1" fill="#000"/>
<rect x="295.3" y="1044.2" width="3.2" height="6.1" fill="#000"/>
<rect x="150.3" y="947.7" width="3.5" height="11" fill="#000"/>
<rect x="142.5" y="946.2" width="19.2" height="3.1" rx="1.2"/>
<rect x="134.4" y="957.7" width="35" height="86.5" fill="#000"/>
<rect x="137.8" y="960.4" width="28.2" height="83.8" fill="#fff"/>
<rect x="198.4" y="919.6" width="3.5" height="23.3" fill="#000"/>
<rect x="190.8" y="918.1" width="18.8" height="3.1" rx="1.2"/>
<rect x="182.7" y="941.9" width="35.4" height="102.3" fill="#000"/>
<text class="sb" x="163.4" y="910.6" font-size="17" textLength="21.9" lengthAdjust="spacingAndGlyphs">ns</text>
<rect x="145" y="912.1" width="60.8" height="2.8" fill="#000"/>
<text class="sb" x="138.7" y="1066.9" font-size="17" textLength="25.1" lengthAdjust="spacingAndGlyphs">WT</text>
<text class="sb" x="186.7" y="1066.9" font-size="17" textLength="27.8" lengthAdjust="spacingAndGlyphs">KO</text>
<rect x="139.6" y="1070.4" width="80" height="2.2" fill="#000"/>
<text class="sb" x="149.3" y="1093" font-size="17" textLength="37.7" lengthAdjust="spacingAndGlyphs">CD4</text><text class="sb" x="187.1" y="1085.2" font-size="11.6" textLength="7.5" lengthAdjust="spacingAndGlyphs">+</text><text class="sb" x="194.6" y="1093" font-size="17" textLength="25.2" lengthAdjust="spacingAndGlyphs">SP</text>
<rect x="247.1" y="1008" width="3.5" height="4.2" fill="#000"/>
<rect x="239.2" y="1006.5" width="19.3" height="3.1" rx="1.2"/>
<rect x="231.2" y="1011.2" width="34.6" height="33" fill="#000"/>
<rect x="234.6" y="1013.9" width="27.8" height="30.3" fill="#fff"/>
<rect x="295.3" y="999.6" width="3.5" height="10.6" fill="#000"/>
<rect x="287.9" y="998.1" width="18.3" height="3.1" rx="1.2"/>
<rect x="279.6" y="1009.2" width="34.6" height="35" fill="#000"/>
<text class="sb" x="263.6" y="982.3" font-size="17" textLength="22.1" lengthAdjust="spacingAndGlyphs">ns</text>
<rect x="247.5" y="985.5" width="53.3" height="2.8" fill="#000"/>
<text class="sb" x="235.4" y="1066.9" font-size="17" textLength="25.7" lengthAdjust="spacingAndGlyphs">WT</text>
<text class="sb" x="283.4" y="1066.9" font-size="17" textLength="27.7" lengthAdjust="spacingAndGlyphs">KO</text>
<rect x="236.5" y="1070.2" width="78.9" height="2.2" fill="#000"/>
<text class="sb" x="241.8" y="1090.1" font-size="17" textLength="38" lengthAdjust="spacingAndGlyphs">CD8</text><text class="sb" x="279.8" y="1082.3" font-size="11.6" textLength="7.5" lengthAdjust="spacingAndGlyphs">+</text><text class="sb" x="287.3" y="1090.1" font-size="17" textLength="25.3" lengthAdjust="spacingAndGlyphs">SP</text>
<g transform="translate(58.1,993.3) rotate(-90)"><text class="sb" x="-0.7" y="0" font-size="18.3" textLength="98.4" lengthAdjust="spacingAndGlyphs">Cell numbe</text></g>
<g transform="translate(84.8,1013.5) rotate(-90)"><text class="sb" x="-1.2" y="0" font-size="18.3" textLength="124.5" lengthAdjust="spacingAndGlyphs">in thymus(x10</text><text class="sb" x="123.3" y="-8.4" font-size="12.4" textLength="7" lengthAdjust="spacingAndGlyphs">7</text><text class="sb" x="130.3" y="0" font-size="18.3" textLength="6.2" lengthAdjust="spacingAndGlyphs">)</text></g>
<rect x="403.2" y="848.4" width="2.8" height="196" fill="#000"/>
<rect x="398.6" y="1041.8" width="201.4" height="2.5" fill="#000"/>
<rect x="397.2" y="848.4" width="7.4" height="2.5" fill="#000"/>
<text class="sb" x="371.9" y="856.6" font-size="17.4" textLength="24.9" lengthAdjust="spacingAndGlyphs">1.5</text>
<rect x="397.2" y="912.8" width="7.4" height="2.5" fill="#000"/>
<text class="sb" x="371.9" y="921" font-size="17.4" textLength="24.9" lengthAdjust="spacingAndGlyphs">1.0</text>
<rect x="397.2" y="977.2" width="7.4" height="2.5" fill="#000"/>
<text class="sb" x="371.9" y="985.5" font-size="17.4" textLength="24.9" lengthAdjust="spacingAndGlyphs">0.5</text>
<rect x="397.2" y="1041.8" width="7.4" height="2.5" fill="#000"/>
<text class="sb" x="371.9" y="1050.1" font-size="17.4" textLength="24.9" lengthAdjust="spacingAndGlyphs">0.0</text>
<rect x="427.6" y="1043.1" width="3.2" height="6.1" fill="#000"/>
<rect x="476.1" y="1043.1" width="3.2" height="6.1" fill="#000"/>
<rect x="524.7" y="1043.1" width="3.2" height="6.1" fill="#000"/>
<rect x="573.4" y="1043.1" width="3.2" height="6.1" fill="#000"/>
<rect x="427.6" y="906.5" width="3.5" height="22.6" fill="#000"/>
<rect x="420" y="905" width="18.8" height="3.1" rx="1.2"/>
<rect x="411.3" y="928.1" width="35.2" height="115" fill="#000"/>
<rect x="414.7" y="930.8" width="28.4" height="112.3" fill="#fff"/>
<rect x="476" y="897.7" width="3.5" height="32.3" fill="#000"/>
<rect x="468.1" y="896.2" width="19.2" height="3.1" rx="1.2"/>
<rect x="460.4" y="929" width="35" height="114.1" fill="#000"/>
<text class="sb" x="441.9" y="886.3" font-size="17" textLength="22.1" lengthAdjust="spacingAndGlyphs">ns</text>
<rect x="424.8" y="887.8" width="60.2" height="2.8" fill="#000"/>
<text class="sb" x="416.2" y="1065.6" font-size="17" textLength="25.4" lengthAdjust="spacingAndGlyphs">WT</text>
<text class="sb" x="464" y="1065.6" font-size="17" textLength="28" lengthAdjust="spacingAndGlyphs">KO</text>
<rect x="418.1" y="1069.3" width="79.4" height="2.2" fill="#000"/>
<text class="sb" x="438.4" y="1090.6" font-size="17" textLength="38" lengthAdjust="spacingAndGlyphs">CD4</text><text class="sb" x="476.5" y="1082.8" font-size="11.6" textLength="7.5" lengthAdjust="spacingAndGlyphs">+</text>
<rect x="524.9" y="978.5" width="3.5" height="15.6" fill="#000"/>
<rect x="517.3" y="977" width="18.7" height="3.1" rx="1.2"/>
<rect x="508.7" y="993.1" width="35" height="50" fill="#000"/>
<rect x="512.1" y="995.8" width="28.2" height="47.3" fill="#fff"/>
<rect x="573.2" y="956" width="3.5" height="24" fill="#000"/>
<rect x="565.4" y="954.5" width="19.2" height="3.1" rx="1.2"/>
<rect x="557.1" y="979" width="35.6" height="64.1" fill="#000"/>
<text class="sb" x="540.5" y="945" font-size="17" textLength="22.1" lengthAdjust="spacingAndGlyphs">ns</text>
<rect x="523.8" y="948.8" width="53.1" height="2.8" fill="#000"/>
<text class="sb" x="513.8" y="1065.6" font-size="17" textLength="25.1" lengthAdjust="spacingAndGlyphs">WT</text>
<text class="sb" x="560.7" y="1065.6" font-size="17" textLength="28" lengthAdjust="spacingAndGlyphs">KO</text>
<rect x="514.2" y="1070.2" width="79.5" height="2.2" fill="#000"/>
<text class="sb" x="535.2" y="1091.5" font-size="17" textLength="37.9" lengthAdjust="spacingAndGlyphs">CD8</text><text class="sb" x="573.2" y="1083.7" font-size="11.6" textLength="7.5" lengthAdjust="spacingAndGlyphs">+</text>
<g transform="translate(337.6,997.3) rotate(-90)"><text class="sb" x="-0.7" y="0" font-size="18.3" textLength="106.8" lengthAdjust="spacingAndGlyphs">Cell number</text></g>
<g transform="translate(360.4,1010.8) rotate(-90)"><text class="sb" x="-1.2" y="0" font-size="18.3" textLength="119.9" lengthAdjust="spacingAndGlyphs">in spleen(x10</text><text class="sb" x="118.7" y="-8.4" font-size="12.4" textLength="7.2" lengthAdjust="spacingAndGlyphs">7</text><text class="sb" x="125.8" y="0" font-size="18.3" textLength="6.3" lengthAdjust="spacingAndGlyphs">)</text></g>
<rect x="679.4" y="848.4" width="2.8" height="196" fill="#000"/>
<rect x="674.8" y="1041.8" width="201.7" height="2.5" fill="#000"/>
<rect x="673.4" y="848.4" width="7.4" height="2.5" fill="#000"/>
<text class="sb" x="648.1" y="856.6" font-size="17.4" textLength="24.9" lengthAdjust="spacingAndGlyphs">2.5</text>
<rect x="673.4" y="887" width="7.4" height="2.5" fill="#000"/>
<text class="sb" x="648.1" y="895.3" font-size="17.4" textLength="24.9" lengthAdjust="spacingAndGlyphs">2.0</text>
<rect x="673.4" y="925.9" width="7.4" height="2.5" fill="#000"/>
<text class="sb" x="648.1" y="934.1" font-size="17.4" textLength="24.9" lengthAdjust="spacingAndGlyphs">1.5</text>
<rect x="673.4" y="964.8" width="7.4" height="2.5" fill="#000"/>
<text class="sb" x="648.1" y="973" font-size="17.4" textLength="24.9" lengthAdjust="spacingAndGlyphs">1.0</text>
<rect x="673.4" y="1003.4" width="7.4" height="2.5" fill="#000"/>
<text class="sb" x="648.1" y="1011.6" font-size="17.4" textLength="24.9" lengthAdjust="spacingAndGlyphs">0.5</text>
<rect x="673.4" y="1041.8" width="7.4" height="2.5" fill="#000"/>
<text class="sb" x="648.1" y="1050.1" font-size="17.4" textLength="24.9" lengthAdjust="spacingAndGlyphs">0.0</text>
<rect x="703.8" y="1043.1" width="3.2" height="6.1" fill="#000"/>
<rect x="752.2" y="1043.1" width="3.2" height="6.1" fill="#000"/>
<rect x="800.3" y="1043.1" width="3.2" height="6.1" fill="#000"/>
<rect x="849.4" y="1043.1" width="3.2" height="6.1" fill="#000"/>
<rect x="703.9" y="885.8" width="3.5" height="14.8" fill="#000"/>
<rect x="696.2" y="884.2" width="18.8" height="3.1" rx="1.2"/>
<rect x="687.5" y="899.6" width="35.2" height="143.5" fill="#000"/>
<rect x="690.9" y="902.3" width="28.4" height="140.8" fill="#fff"/>
<rect x="752.3" y="899.2" width="3.5" height="18.3" fill="#000"/>
<rect x="744.6" y="897.7" width="18.9" height="3.1" rx="1.2"/>
<rect x="736.2" y="916.5" width="35" height="126.6" fill="#000"/>
<text class="sb" x="719.6" y="876.2" font-size="17" textLength="21.9" lengthAdjust="spacingAndGlyphs">ns</text>
<rect x="701.5" y="877.6" width="61" height="2.8" fill="#000"/>
<text class="sb" x="692.3" y="1066.2" font-size="17" textLength="25.5" lengthAdjust="spacingAndGlyphs">WT</text>
<text class="sb" x="739.6" y="1066.2" font-size="17" textLength="28.1" lengthAdjust="spacingAndGlyphs">KO</text>
<rect x="694.2" y="1069.3" width="79.8" height="2.2" fill="#000"/>
<text class="sb" x="714.6" y="1091.2" font-size="17" textLength="37.9" lengthAdjust="spacingAndGlyphs">CD4</text><text class="sb" x="752.6" y="1083.4" font-size="11.6" textLength="7.5" lengthAdjust="spacingAndGlyphs">+</text>
<rect x="800.5" y="972.3" width="3.5" height="9.1" fill="#000"/>
<rect x="792.9" y="970.8" width="18.6" height="3.1" rx="1.2"/>
<rect x="784.6" y="980.4" width="35.2" height="62.7" fill="#000"/>
<rect x="788" y="983.1" width="28.4" height="60" fill="#fff"/>
<rect x="849.1" y="952.7" width="3.5" height="13.9" fill="#000"/>
<rect x="841.5" y="951.2" width="18.7" height="3.1" rx="1.2"/>
<rect x="833.3" y="965.6" width="35.2" height="77.5" fill="#000"/>
<text class="sb" x="817.2" y="938.7" font-size="17" textLength="22.5" lengthAdjust="spacingAndGlyphs">ns</text>
<rect x="801.2" y="942.6" width="53.2" height="2.8" fill="#000"/>
<text class="sb" x="789.6" y="1066.2" font-size="17" textLength="26.5" lengthAdjust="spacingAndGlyphs">WT</text>
<text class="sb" x="836.9" y="1066.2" font-size="17" textLength="27.8" lengthAdjust="spacingAndGlyphs">KO</text>
<rect x="790.4" y="1070.2" width="80" height="2.2" fill="#000"/>
<text class="sb" x="810.7" y="1091.5" font-size="17" textLength="37.7" lengthAdjust="spacingAndGlyphs">CD8</text><text class="sb" x="848.4" y="1083.7" font-size="11.6" textLength="7.5" lengthAdjust="spacingAndGlyphs">+</text>
<g transform="translate(611.2,996.3) rotate(-90)"><text class="sb" x="-0.7" y="0" font-size="18.3" textLength="106.1" lengthAdjust="spacingAndGlyphs">Cell number</text></g>
<g transform="translate(636,992.5) rotate(-90)"><text class="sb" x="-1.2" y="0" font-size="18.3" textLength="85" lengthAdjust="spacingAndGlyphs">in dLN(10</text><text class="sb" x="83.8" y="-8.4" font-size="12.4" textLength="7.1" lengthAdjust="spacingAndGlyphs">7</text><text class="sb" x="90.9" y="0" font-size="18.3" textLength="6.2" lengthAdjust="spacingAndGlyphs">)</text></g>
<rect x="746.4" y="1199.3" width="2.7" height="195.4" fill="#000"/>
<rect x="741.7" y="1391.9" width="296.7" height="2.8" fill="#000"/>
<rect x="740.4" y="1199.3" width="7.4" height="2.4" fill="#000"/>
<text class="sb" x="710" y="1207.5" font-size="17.4" textLength="29.9" lengthAdjust="spacingAndGlyphs">100</text>
<rect x="740.4" y="1237.9" width="7.4" height="2.4" fill="#000"/>
<text class="sb" x="720" y="1246.1" font-size="17.4" textLength="19.9" lengthAdjust="spacingAndGlyphs">80</text>
<rect x="740.4" y="1276.4" width="7.4" height="2.4" fill="#000"/>
<text class="sb" x="720" y="1284.6" font-size="17.4" textLength="19.9" lengthAdjust="spacingAndGlyphs">60</text>
<rect x="740.4" y="1314.9" width="7.4" height="2.4" fill="#000"/>
<text class="sb" x="720" y="1323.1" font-size="17.4" textLength="19.9" lengthAdjust="spacingAndGlyphs">40</text>
<rect x="740.4" y="1353.2" width="7.4" height="2.4" fill="#000"/>
<text class="sb" x="720" y="1361.4" font-size="17.4" textLength="19.9" lengthAdjust="spacingAndGlyphs">20</text>
<rect x="740.4" y="1392.1" width="7.4" height="2.4" fill="#000"/>
<text class="sb" x="730" y="1400.3" font-size="17.4" textLength="10" lengthAdjust="spacingAndGlyphs">0</text>
<rect x="764.1" y="1393.3" width="3.2" height="6.1" fill="#000"/>
<rect x="800.3" y="1393.3" width="3.2" height="6.1" fill="#000"/>
<rect x="836.3" y="1393.3" width="3.2" height="6.1" fill="#000"/>
<rect x="872.8" y="1393.3" width="3.2" height="6.1" fill="#000"/>
<rect x="909.4" y="1393.3" width="3.2" height="6.1" fill="#000"/>
<rect x="945.4" y="1393.3" width="3.2" height="6.1" fill="#000"/>
<rect x="981.5" y="1393.3" width="3.2" height="6.1" fill="#000"/>
<rect x="1017.8" y="1393.3" width="3.2" height="6.1" fill="#000"/>
<rect x="764" y="1270" width="3.6" height="37.6" fill="#000"/>
<rect x="758.7" y="1268.3" width="14.2" height="3.3" rx="1.2"/>
<rect x="751.1" y="1306.6" width="28.4" height="86.7" fill="#000"/>
<rect x="754.8" y="1310" width="21" height="83.3" fill="#fff"/>
<rect x="800" y="1275.7" width="3.6" height="34.2" fill="#000"/>
<rect x="794.7" y="1274" width="14.2" height="3.3" rx="1.2"/>
<rect x="787.7" y="1308.9" width="28.4" height="84.4" fill="#000"/>
<text class="sb" x="773.6" y="1251.7" font-size="17" textLength="22.2" lengthAdjust="spacingAndGlyphs">ns</text>
<rect x="763.4" y="1256.8" width="46.8" height="2.6" fill="#000"/>
<text class="sb" x="751.7" y="1416.6" font-size="17" textLength="28.3" lengthAdjust="spacingAndGlyphs">WT</text>
<text class="sb" x="787.8" y="1416.6" font-size="17" textLength="28.5" lengthAdjust="spacingAndGlyphs">KO</text>
<rect x="758.7" y="1422.1" width="45.5" height="2.2" fill="#000"/>
<text class="sb" x="763.2" y="1443.1" font-size="17" textLength="32.6" lengthAdjust="spacingAndGlyphs">Th1</text>
<rect x="836" y="1336.4" width="3.6" height="5.4" fill="#000"/>
<rect x="830.7" y="1334.8" width="14.2" height="3.3" rx="1.2"/>
<rect x="824.1" y="1340.8" width="27.5" height="52.5" fill="#000"/>
<rect x="827.8" y="1344.2" width="20.1" height="49.1" fill="#fff"/>
<rect x="872.6" y="1323.7" width="3.6" height="13.7" fill="#000"/>
<rect x="867.4" y="1322" width="14" height="3.3" rx="1.2"/>
<rect x="860.5" y="1336.4" width="27.2" height="56.9" fill="#000"/>
<text class="sb" x="846.6" y="1299.4" font-size="17" textLength="21.8" lengthAdjust="spacingAndGlyphs">ns</text>
<rect x="835.5" y="1305" width="46.9" height="2.6" fill="#000"/>
<text class="sb" x="824.5" y="1416.6" font-size="17" textLength="27.2" lengthAdjust="spacingAndGlyphs">WT</text>
<text class="sb" x="860.8" y="1416.6" font-size="17" textLength="28.3" lengthAdjust="spacingAndGlyphs">KO</text>
<rect x="832.6" y="1422.1" width="44.3" height="2.2" fill="#000"/>
<text class="sb" x="840" y="1443.1" font-size="17" textLength="32.2" lengthAdjust="spacingAndGlyphs">Th2</text>
<rect x="909.3" y="1365.4" width="3.6" height="3.3" fill="#000"/>
<rect x="903.8" y="1363.8" width="14.6" height="3.3" rx="1.2"/>
<rect x="897.2" y="1367.7" width="27.5" height="25.6" fill="#000"/>
<rect x="900.9" y="1371.1" width="20.1" height="22.2" fill="#fff"/>
<rect x="945.3" y="1370.1" width="3.6" height="4.6" fill="#000"/>
<rect x="939.8" y="1368.4" width="14.6" height="3.3" rx="1.2"/>
<rect x="933.2" y="1373.7" width="27.5" height="19.6" fill="#000"/>
<text class="sb" x="915.3" y="1347.8" font-size="17" textLength="21.8" lengthAdjust="spacingAndGlyphs">ns</text>
<rect x="904.2" y="1353.1" width="47" height="2.6" fill="#000"/>
<text class="sb" x="897.2" y="1416.6" font-size="17" textLength="27.6" lengthAdjust="spacingAndGlyphs">WT</text>
<text class="sb" x="932.9" y="1416.6" font-size="17" textLength="28" lengthAdjust="spacingAndGlyphs">KO</text>
<rect x="903.8" y="1422.1" width="49.3" height="2.2" fill="#000"/>
<text class="sb" x="907.8" y="1443.1" font-size="17" textLength="45.1" lengthAdjust="spacingAndGlyphs">Th17</text>
<rect x="981.4" y="1243.5" width="3.6" height="45.6" fill="#000"/>
<rect x="975.8" y="1241.8" width="14.8" height="3.3" rx="1.2"/>
<rect x="969.8" y="1288.1" width="26.9" height="105.2" fill="#000"/>
<rect x="973.5" y="1291.5" width="19.5" height="101.8" fill="#fff"/>
<rect x="1017.9" y="1269.1" width="3.6" height="10.1" fill="#000"/>
<rect x="1012.4" y="1267.4" width="14.6" height="3.3" rx="1.2"/>
<rect x="1005.6" y="1278.2" width="27.7" height="115.1" fill="#000"/>
<text class="sb" x="991.7" y="1229.3" font-size="17" textLength="22.2" lengthAdjust="spacingAndGlyphs">ns</text>
<rect x="981.2" y="1235.2" width="46.8" height="2.6" fill="#000"/>
<text class="sb" x="969.2" y="1416.6" font-size="17" textLength="27.6" lengthAdjust="spacingAndGlyphs">WT</text>
<text class="sb" x="1005" y="1416.6" font-size="17" textLength="28.5" lengthAdjust="spacingAndGlyphs">KO</text>
<rect x="968.3" y="1422.1" width="58.7" height="2.2" fill="#000"/>
<text class="sb" x="980.4" y="1443.1" font-size="17" textLength="46.9" lengthAdjust="spacingAndGlyphs">T reg</text>
<line x1="820.6" y1="1199" x2="820.6" y2="1392" stroke="#000" stroke-width="3.9" stroke-dasharray="8.6 6.14" stroke-dashoffset="3.5"/>
<line x1="892.7" y1="1199" x2="892.7" y2="1392" stroke="#000" stroke-width="3.9" stroke-dasharray="8.6 6.14" stroke-dashoffset="3.5"/>
<line x1="965.4" y1="1199" x2="965.4" y2="1392" stroke="#000" stroke-width="3.3" stroke-dasharray="8.6 6.14" stroke-dashoffset="3.5"/>
<g transform="translate(698,1352.5) rotate(-90)"><text class="sb" x="-0.8" y="0" font-size="18.3" textLength="63.9" lengthAdjust="spacingAndGlyphs">Of CD4</text><text class="sb" x="63.1" y="-8.4" font-size="12.4" textLength="7.5" lengthAdjust="spacingAndGlyphs">+</text><text class="sb" x="70.6" y="0" font-size="18.3" textLength="48.2" lengthAdjust="spacingAndGlyphs">T cell</text></g>
<path class="d" transform="translate(.35,.85)" stroke="#1a1a1a" d="M181 145h1M190 149h1M135 150h1M153 151h1M117 152h1m2 0h1m13 0h1m7 0h1m2 0h1m9 0h1M107 153h1m11 0h1m53 0h1m12 0h1M116 154h1m18 0h1m55 0h1M112 155h1m5 0h1m1 0h1m1 0h1m5 0h1m1 0h1m16 0h1m35 0h1m5 0h1M111 156h1m11 0h2m2 0h1m8 0h1m1 0h1m16 0h1m25 0h4m1 0h1M104 157h3m5 0h3m3 0h1m3 0h2m1 0h2m1 0h1m4 0h1m2 0h3m11 0h1m24 0h1m4 0h1m2 0h3M105 158h1m4 0h1m5 0h3m2 0h1m3 0h1m10 0h2m1 0h1m1 0h1m5 0h1m28 0h1M101 159h3m2 0h2m3 0h2m2 0h2m9 0h4m2 0h1m1 0h1m14 0h1m21 0h1m4 0h1m13 0h1M103 160h1m2 0h1m1 0h1m1 0h1m1 0h2m6 0h1m4 0h5m5 0h2m2 0h1m3 0h3m20 0h1m5 0h1m1 0h1m4 0h1m9 0h1m2 0h1m2 0h1M104 161h2m1 0h1m1 0h1m1 0h1m1 0h1m1 0h3m1 0h3m1 0h2m1 0h5m1 0h2m3 0h1m7 0h1m33 0h1m1 0h1m1 0h1m3 0h1m2 0h1M101 162h1m2 0h1m1 0h2m1 0h2m3 0h2m3 0h5m3 0h3m2 0h2m2 0h3m2 0h1m1 0h1m1 0h1m1 0h1m7 0h1m1 0h1m1 0h1m22 0h1m6 0h1M107 163h1m1 0h3m1 0h3m4 0h5m1 0h5m1 0h3m2 0h2m1 0h2m3 0h1m1 0h1m7 0h1m25 0h2m4 0h2m1 0h1M103 164h1m2 0h1m3 0h2m1 0h3m1 0h6m2 0h3m1 0h3m1 0h4m3 0h1m2 0h5m1 0h1m22 0h1m2 0h3m5 0h1m6 0h1M106 165h1m2 0h2m1 0h3m2 0h6m2 0h1m1 0h5m3 0h1m1 0h1m2 0h1m1 0h1m7 0h2m25 0h1m3 0h2M108 166h1m2 0h3m2 0h3m1 0h4m1 0h3m3 0h3m1 0h2m1 0h1m1 0h4m5 0h1m1 0h1m1 0h1m33 0h2M105 167h1m5 0h12m1 0h2m1 0h1m1 0h1m1 0h2m1 0h1m2 0h2m4 0h1m3 0h1m3 0h1m4 0h1m1 0h1M103 168h2m1 0h1m1 0h1m8 0h2m1 0h1m1 0h5m3 0h1m1 0h1m3 0h2m3 0h1m3 0h1m4 0h1m6 0h1m23 0h2M106 169h1m1 0h1m1 0h1m1 0h1m1 0h2m2 0h1m1 0h1m1 0h3m2 0h2m1 0h2m6 0h3m1 0h1m1 0h1m5 0h1m9 0h1m2 0h1m9 0h1M105 170h3m4 0h1m2 0h1m3 0h1m1 0h2m1 0h6m5 0h2m1 0h1m2 0h1m2 0h1m3 0h1m1 0h1m1 0h2m5 0h1m10 0h1m13 0h1M106 171h1m1 0h1m7 0h6m1 0h2m3 0h1m5 0h1m10 0h2m3 0h1m4 0h1m8 0h1m3 0h1M111 172h1m2 0h1m2 0h1m2 0h1m2 0h2m5 0h1m1 0h2m2 0h2m6 0h1m3 0h1m6 0h2M108 173h1m10 0h1m3 0h1m4 0h1m7 0h3m1 0h2m3 0h1m40 0h1M115 174h1m7 0h1m5 0h1m40 0h1m3 0h1m9 0h1m1 0h1m3 0h1M106 175h1m6 0h1m5 0h1m20 0h1m1 0h1m16 0h1m1 0h1m9 0h1m3 0h1m8 0h1M132 176h1m1 0h1m12 0h1m2 0h1m11 0h1m5 0h1M108 177h1m11 0h1m2 0h1m6 0h2m16 0h2m15 0h1m2 0h1m4 0h1M108 178h1m7 0h1m18 0h1m31 0h1m2 0h1m1 0h1m2 0h1m1 0h1M130 179h1m26 0h1m9 0h1m3 0h1m1 0h1M112 180h1m19 0h1m13 0h1m9 0h1m4 0h1m12 0h1m21 0h1M125 181h1m12 0h1m5 0h2m8 0h1m5 0h1m3 0h1M103 182h1m46 0h1m8 0h1m11 0h1M141 183h1m7 0h1m1 0h1m7 0h1m15 0h1M108 184h1m5 0h1m17 0h1m12 0h1m9 0h1m12 0h1m6 0h1M144 185h1m11 0h1m3 0h1m2 0h1m4 0h2m17 0h1M103 186h1m43 0h2m1 0h1m10 0h1m12 0h1M111 187h1m3 0h1m10 0h1m12 0h1m1 0h1m7 0h1m7 0h1m4 0h1m8 0h1m7 0h1m21 0h1M151 188h1m17 0h1m4 0h1m4 0h1M131 189h1m4 0h1m3 0h1m1 0h1m19 0h1m1 0h1m1 0h1m1 0h1M119 190h1m1 0h1m2 0h1m3 0h1m9 0h1m1 0h1m9 0h1m8 0h1m13 0h1m3 0h1m3 0h1m2 0h1m4 0h1M136 191h1m2 0h1m10 0h2m5 0h1m3 0h1m9 0h1m21 0h1m2 0h1M117 192h1m3 0h3m15 0h1m4 0h1m3 0h1m2 0h1m1 0h1m2 0h1m4 0h1m9 0h1m21 0h1M109 193h1m2 0h1m9 0h1m7 0h1m1 0h1m1 0h1m5 0h2m4 0h1m17 0h1m1 0h2m7 0h1m18 0h1M105 194h1m7 0h1m7 0h1m9 0h1m4 0h1m6 0h1m1 0h1m4 0h1m6 0h1m1 0h1m23 0h2m9 0h1m2 0h1M105 195h1m5 0h1m4 0h1m5 0h1m1 0h1m6 0h1m4 0h2m1 0h4m8 0h1m8 0h1m8 0h1m14 0h1m10 0h1M100 196h2m15 0h1m8 0h1m2 0h1m3 0h2m2 0h2m2 0h1m4 0h1m6 0h1m18 0h1M108 197h1m5 0h1m3 0h2m2 0h1m3 0h1m1 0h3m2 0h1m1 0h4m4 0h1m2 0h2m34 0h2M108 198h1m6 0h1m2 0h1m4 0h1m3 0h1m3 0h2m5 0h1m3 0h1m11 0h1m3 0h1m2 0h1m2 0h1m24 0h1M109 199h1m5 0h1m1 0h4m4 0h1m4 0h1m3 0h2m1 0h1m1 0h4m1 0h1m15 0h1m5 0h2m18 0h1M103 200h1m6 0h2m3 0h1m3 0h1m5 0h2m1 0h5m2 0h1m2 0h1m3 0h5m1 0h2m2 0h2m12 0h1m11 0h1m2 0h1m1 0h1m2 0h1m1 0h2M100 201h1m7 0h1m4 0h1m1 0h1m6 0h1m3 0h3m2 0h1m1 0h1m1 0h3m2 0h2m6 0h1m3 0h1m2 0h1m27 0h1m8 0h1M102 202h1m3 0h1m4 0h1m2 0h1m6 0h1m2 0h1m4 0h8m1 0h2m1 0h1m1 0h3m14 0h1m21 0h1m7 0h1m7 0h1M103 203h1m5 0h2m3 0h1m2 0h2m2 0h2m3 0h1m1 0h4m1 0h3m1 0h3m3 0h4m1 0h1m15 0h1m15 0h1m3 0h1m2 0h1m3 0h1m3 0h2M109 204h4m1 0h1m1 0h2m1 0h3m1 0h1m2 0h5m1 0h5m1 0h2m8 0h2m4 0h2m8 0h1m8 0h1m2 0h1m11 0h1m1 0h1m2 0h1M101 205h2m3 0h1m3 0h3m1 0h2m2 0h1m2 0h4m1 0h15m3 0h1m1 0h1m1 0h3m11 0h1m16 0h1m2 0h1m3 0h2m1 0h1m2 0h1m4 0h1M102 206h1m1 0h1m1 0h2m3 0h2m4 0h3m1 0h2m2 0h2m2 0h1m1 0h5m1 0h9m2 0h1m1 0h2m2 0h1m23 0h1m1 0h1m3 0h1m4 0h1M100 207h1m7 0h3m1 0h1m1 0h2m1 0h1m1 0h3m1 0h1m1 0h1m1 0h9m1 0h8m1 0h1m1 0h1m3 0h4m3 0h1m3 0h1m9 0h1m5 0h1m3 0h1m3 0h1m2 0h1m2 0h1m1 0h1M105 208h1m2 0h1m3 0h4m1 0h2m2 0h2m1 0h9m1 0h13m2 0h1m1 0h1m1 0h1m11 0h2m1 0h1m12 0h2m1 0h1m2 0h1m2 0h2m1 0h1M101 209h1m1 0h1m3 0h1m1 0h1m1 0h1m2 0h1m1 0h3m1 0h10m1 0h7m1 0h6m2 0h1m1 0h1m2 0h1m3 0h1m2 0h1m1 0h1m17 0h1m2 0h1m1 0h1m1 0h3m2 0h2m3 0h2M100 210h2m2 0h4m1 0h2m4 0h1m3 0h6m3 0h20m2 0h2m6 0h1m18 0h1m3 0h1m2 0h1m2 0h3m4 0h1m3 0h1M100 211h2m4 0h1m1 0h2m6 0h2m1 0h32m1 0h2m1 0h3m4 0h1m9 0h1m2 0h3m1 0h1m2 0h1m1 0h1m1 0h1m1 0h2m3 0h1m4 0h1m2 0h1M103 212h5m2 0h3m2 0h2m2 0h4m1 0h1m2 0h26m2 0h2m5 0h1m17 0h2m1 0h2m1 0h1m1 0h3m2 0h1M100 213h4m2 0h3m1 0h1m1 0h3m2 0h4m1 0h8m1 0h23m1 0h2m2 0h1m7 0h1m4 0h1m5 0h1m3 0h2m1 0h1m2 0h2m1 0h3m6 0h1M100 214h3m1 0h1m1 0h2m1 0h3m1 0h3m1 0h1m1 0h27m2 0h3m2 0h2m2 0h1m3 0h1m2 0h1m14 0h3m1 0h3m1 0h5m1 0h1m2 0h1m2 0h2M100 215h1m2 0h20m1 0h22m1 0h9m5 0h1m1 0h1m2 0h1m8 0h1m2 0h2m1 0h3m1 0h7m1 0h1m1 0h2m2 0h2M101 216h2m2 0h45m1 0h1m1 0h3m1 0h1m1 0h2m2 0h1m3 0h2m1 0h1m7 0h1m1 0h1m3 0h11m7 0h1M101 217h1m1 0h2m1 0h4m1 0h2m1 0h2m1 0h7m1 0h24m2 0h1m1 0h2m2 0h1m1 0h1m17 0h1m1 0h1m1 0h7m1 0h6m9 0h1M100 218h1m1 0h3m1 0h2m1 0h3m1 0h7m1 0h2m1 0h25m1 0h1m1 0h3m7 0h3m6 0h1m1 0h1m3 0h1m2 0h1m1 0h1m1 0h4m1 0h6m6 0h1M100 219h4m2 0h10m1 0h29m1 0h2m1 0h1m3 0h2m4 0h1m2 0h1m3 0h1m7 0h1m1 0h6m1 0h11m4 0h1m1 0h2M102 220h3m1 0h43m1 0h4m1 0h1m2 0h3m5 0h1m6 0h1m2 0h1m1 0h4m1 0h1m1 0h9m1 0h2M100 221h1m1 0h6m1 0h43m1 0h2m2 0h1m9 0h2m5 0h1m2 0h6m1 0h8m1 0h4m3 0h1M101 222h1m3 0h1m1 0h40m1 0h4m2 0h4m2 0h1m1 0h1m2 0h1m4 0h1m3 0h1m3 0h8m1 0h6m1 0h2M102 223h7m1 0h41m5 0h1m3 0h2m12 0h1m5 0h16m1 0h1M100 224h1m1 0h1m2 0h6m1 0h37m2 0h4m2 0h1m2 0h4m2 0h1m6 0h1m2 0h14m1 0h6m1 0h3m6 0h1M100 225h4m1 0h3m1 0h7m1 0h29m1 0h5m1 0h2m1 0h1m3 0h1m5 0h1m3 0h1m5 0h2m2 0h5m1 0h13m4 0h1M102 226h3m1 0h3m1 0h41m1 0h3m2 0h1m19 0h2m1 0h18m2 0h1m2 0h1m1 0h1M101 227h2m3 0h4m1 0h2m1 0h8m1 0h1m1 0h24m1 0h4m3 0h1m2 0h1m3 0h1m10 0h2m1 0h1m1 0h15m3 0h3M102 228h4m1 0h1m1 0h11m2 0h25m1 0h2m1 0h1m1 0h7m3 0h1m4 0h2m2 0h1m5 0h23M102 229h5m1 0h2m1 0h1m1 0h2m1 0h31m1 0h1m1 0h3m2 0h2m2 0h1m16 0h1m2 0h17m1 0h4m1 0h1M102 230h3m1 0h9m3 0h4m1 0h1m1 0h8m1 0h12m1 0h1m1 0h2m1 0h1m5 0h2m16 0h2m1 0h16m2 0h1m4 0h1M100 231h1m3 0h1m1 0h2m2 0h1m2 0h2m1 0h4m1 0h32m1 0h2m1 0h2m1 0h1m1 0h1m3 0h1m4 0h1m3 0h1m2 0h3m2 0h14m1 0h2M100 232h2m3 0h2m1 0h8m1 0h6m2 0h7m1 0h12m2 0h1m1 0h1m1 0h2m1 0h2m3 0h1m1 0h1m14 0h21m1 0h3m3 0h1M101 233h1m2 0h1m3 0h1m1 0h3m2 0h14m1 0h14m1 0h2m2 0h3m1 0h2m11 0h1m11 0h19m2 0h1m1 0h1M100 234h1m1 0h1m1 0h1m1 0h19m1 0h2m1 0h15m2 0h1m2 0h2m1 0h4m1 0h1m2 0h1m9 0h1m4 0h1m3 0h16m2 0h2M103 235h2m2 0h1m4 0h2m1 0h4m1 0h8m1 0h1m1 0h11m1 0h4m1 0h2m4 0h1m1 0h1m6 0h1m4 0h1m3 0h3m4 0h19m9 0h1M103 236h1m3 0h3m5 0h1m2 0h4m1 0h19m1 0h8m3 0h1m2 0h1m2 0h1m1 0h1m16 0h17m1 0h1m3 0h1M101 237h1m2 0h2m2 0h3m1 0h1m1 0h4m1 0h1m1 0h15m1 0h12m4 0h1m9 0h1m14 0h20M103 238h1m2 0h3m3 0h3m1 0h1m1 0h1m1 0h3m1 0h6m1 0h8m1 0h1m1 0h7m1 0h1m1 0h1m1 0h2m1 0h1m1 0h1m16 0h2m1 0h16m1 0h1M105 239h1m1 0h1m1 0h1m1 0h2m3 0h7m1 0h1m1 0h2m1 0h6m1 0h6m1 0h1m1 0h2m1 0h1m3 0h1m2 0h2m5 0h1m1 0h1m13 0h18m1 0h1M103 240h1m3 0h1m1 0h3m1 0h1m5 0h4m1 0h1m3 0h5m1 0h2m1 0h3m1 0h2m5 0h1m1 0h1m2 0h1m1 0h2m17 0h1m2 0h3m1 0h6m1 0h5m1 0h4m2 0h1M102 241h1m3 0h1m1 0h2m1 0h1m1 0h1m3 0h1m2 0h3m1 0h2m4 0h6m2 0h2m1 0h1m4 0h2m1 0h4m10 0h1m11 0h1m2 0h16m1 0h1m1 0h1m3 0h2M109 242h1m2 0h4m2 0h1m2 0h1m1 0h2m2 0h1m2 0h2m2 0h3m6 0h1m1 0h2m2 0h1m3 0h2m2 0h1m11 0h1m8 0h1m3 0h3m1 0h8m1 0h2m1 0h1M111 243h1m4 0h4m1 0h1m1 0h1m3 0h1m2 0h2m1 0h3m1 0h1m1 0h2m1 0h1m2 0h3m18 0h1m10 0h1m3 0h1m1 0h12m1 0h1M106 244h1m2 0h1m2 0h2m3 0h1m1 0h1m1 0h2m1 0h2m3 0h2m1 0h1m4 0h1m5 0h5m27 0h1m3 0h2m2 0h1m1 0h1m1 0h5m1 0h1m5 0h1M114 245h1m2 0h1m1 0h1m1 0h1m1 0h1m3 0h3m1 0h1m3 0h2m6 0h1m3 0h1m33 0h1m1 0h1m1 0h4m1 0h6m1 0h1M114 246h1m7 0h2m1 0h2m1 0h1m2 0h1m2 0h2m5 0h1m8 0h1m4 0h1m10 0h1m5 0h1m6 0h1m2 0h1m2 0h7m1 0h1m1 0h1M102 247h1m10 0h1m3 0h1m3 0h1m1 0h1m5 0h2m2 0h1m3 0h1m3 0h1m1 0h1m1 0h1m3 0h1m1 0h2m27 0h6m1 0h5m4 0h1M109 248h1m2 0h1m2 0h1m5 0h1m11 0h1m6 0h1m1 0h2m34 0h1m1 0h1m3 0h3m2 0h3m1 0h1"/>
<path class="d" transform="translate(.35,.85)" stroke="#1a1a1a" d="M362 145h1m6 0h1M379 146h1M376 147h1M312 148h1m46 0h1m2 0h1m3 0h1M297 149h1m3 0h1M294 150h2m75 0h1m5 0h1M308 151h1m33 0h1m12 0h1m8 0h1M305 152h1m3 0h1m22 0h1m12 0h1m10 0h1m5 0h1m1 0h1m1 0h1M293 153h1m5 0h1m7 0h1m1 0h1m6 0h1m34 0h1m29 0h1M296 154h1m13 0h1m1 0h1m17 0h1m41 0h1m3 0h1M283 155h1m1 0h1m4 0h1m1 0h2m13 0h1m1 0h1m1 0h1m8 0h1m31 0h1m6 0h1m6 0h1M283 156h1m3 0h3m8 0h1m3 0h1m10 0h2m3 0h1m4 0h1m1 0h1m1 0h1m32 0h1m11 0h2m6 0h1M283 157h1m5 0h1m7 0h1m1 0h1m1 0h1m2 0h2m2 0h1m2 0h2m2 0h1m15 0h1m36 0h1m1 0h2M288 158h1m1 0h1m3 0h1m1 0h1m1 0h4m4 0h1m2 0h2m1 0h1m12 0h1m32 0h1m1 0h1m10 0h1m3 0h1m8 0h1M292 159h1m1 0h3m2 0h4m1 0h1m1 0h1m3 0h3m1 0h2m2 0h3m36 0h1m7 0h1m1 0h2m2 0h1m1 0h1M284 160h1m6 0h1m1 0h1m2 0h1m2 0h3m2 0h2m1 0h1m5 0h1m3 0h2m3 0h1m2 0h1m22 0h1m13 0h1m3 0h1m1 0h2m1 0h1m4 0h1M283 161h1m3 0h1m4 0h1m1 0h1m3 0h1m1 0h11m5 0h4m6 0h1m32 0h1m3 0h1m2 0h1m6 0h1m4 0h1m6 0h1M290 162h1m4 0h1m3 0h2m1 0h1m1 0h5m3 0h2m2 0h2m6 0h2m1 0h1m25 0h1m14 0h1m9 0h1m4 0h2M287 163h1m4 0h1m1 0h1m2 0h3m2 0h2m1 0h3m1 0h1m3 0h1m1 0h1m3 0h1m1 0h1m4 0h1m43 0h1m2 0h1M283 164h1m1 0h1m2 0h1m3 0h1m4 0h1m2 0h1m1 0h2m1 0h3m1 0h1m2 0h1m1 0h1m1 0h2m2 0h2m4 0h1m35 0h1m2 0h1m3 0h1m10 0h1M286 165h1m1 0h1m4 0h1m6 0h3m2 0h1m3 0h1m1 0h1m1 0h1m1 0h1m4 0h1m6 0h1m1 0h2m10 0h1m13 0h1m4 0h1m3 0h1m11 0h1M287 166h2m2 0h1m2 0h1m2 0h2m2 0h3m4 0h1m1 0h1m1 0h1m4 0h1m2 0h1m44 0h1m3 0h2m7 0h1M290 167h1m1 0h1m3 0h2m4 0h2m1 0h1m2 0h1m1 0h1m1 0h1m2 0h1m4 0h2m1 0h1m2 0h1m27 0h1m23 0h1M287 168h1m2 0h2m8 0h1m9 0h1m4 0h1m3 0h1m1 0h1m18 0h1m30 0h2M294 169h1m5 0h1m2 0h1m7 0h1m3 0h1m4 0h1m20 0h2m24 0h1M286 170h1m13 0h1m5 0h1m4 0h1m5 0h2m2 0h1m15 0h1m4 0h1m24 0h1m13 0h1M311 171h1m17 0h1m23 0h1m11 0h1m6 0h1m6 0h1M290 172h1m6 0h1m11 0h1m22 0h1m10 0h1m10 0h1m4 0h1m9 0h1M300 173h1m7 0h1m20 0h1m17 0h2m2 0h1m4 0h1m5 0h1m6 0h1M305 174h1m80 0h1M318 175h1m18 0h1M316 176h1m17 0h1m6 0h1M302 177h1m8 0h1m17 0h1m3 0h1m9 0h1m2 0h1m9 0h1m16 0h2M319 178h1m10 0h1m5 0h1m6 0h1m4 0h1m13 0h1M302 179h2m5 0h1m28 0h1m23 0h1m16 0h1M321 180h1m16 0h1m6 0h1m1 0h1M286 181h1m39 0h1m2 0h1m4 0h1m6 0h1m2 0h1m10 0h2M318 182h2m1 0h1m3 0h2m2 0h1m3 0h1m3 0h1m11 0h1m10 0h1m13 0h1M292 183h2m18 0h1m12 0h1m5 0h2m2 0h2m4 0h1m2 0h1m3 0h2M309 184h1m10 0h1m10 0h1m3 0h1m4 0h1m3 0h1M312 185h1m10 0h1m2 0h1m2 0h1m3 0h2m4 0h1m4 0h2m1 0h1m3 0h2m7 0h1M284 186h1m26 0h1m9 0h1m1 0h1m2 0h4m9 0h1m2 0h1m33 0h1M288 187h1m3 0h1m8 0h1m12 0h1m12 0h3m2 0h1m1 0h1m2 0h1m6 0h2m5 0h1m5 0h1m7 0h1m2 0h1m6 0h1M308 188h1m16 0h1m5 0h1m3 0h1m2 0h3m7 0h1M290 189h1m2 0h1m3 0h1m8 0h1m11 0h1m4 0h1m4 0h1m1 0h1m1 0h1m1 0h1m3 0h1m1 0h2m6 0h1m5 0h1M284 190h1m12 0h1m19 0h2m10 0h1m1 0h6m1 0h1m4 0h1m6 0h1m1 0h2m10 0h1M304 191h1m1 0h1m7 0h1m5 0h1m2 0h1m5 0h1m1 0h1m1 0h2m1 0h1m1 0h1m2 0h5m1 0h1m1 0h1m5 0h1m1 0h1m4 0h1m16 0h1M300 192h1m8 0h1m4 0h2m3 0h2m1 0h3m1 0h1m1 0h3m1 0h1m2 0h3m1 0h1m1 0h2m2 0h1m2 0h1m4 0h1M305 193h1m2 0h1m8 0h1m10 0h3m3 0h1m1 0h1m3 0h4m1 0h2m4 0h1m3 0h1M296 194h1m8 0h1m13 0h1m2 0h1m1 0h2m2 0h3m1 0h2m1 0h1m1 0h2m3 0h2m5 0h1m10 0h1M286 195h2m12 0h1m1 0h1m3 0h1m2 0h1m6 0h1m4 0h2m2 0h1m2 0h2m1 0h7m1 0h2m1 0h1m1 0h1m1 0h1m6 0h1m28 0h1M286 196h1m3 0h1m4 0h1m7 0h3m3 0h1m2 0h1m6 0h1m2 0h1m1 0h2m3 0h1m3 0h1m1 0h3m1 0h4m1 0h1m1 0h1m3 0h1m3 0h1m1 0h1M285 197h1m11 0h1m2 0h1m1 0h1m2 0h1m2 0h1m4 0h1m1 0h1m1 0h2m1 0h6m2 0h1m3 0h2m2 0h1m1 0h5m1 0h6m1 0h1m6 0h1m2 0h1M289 198h1m1 0h1m6 0h1m5 0h1m1 0h3m3 0h5m3 0h2m2 0h2m3 0h2m2 0h4m2 0h1m3 0h1m1 0h1m1 0h1m10 0h1m2 0h1m5 0h1m12 0h1M294 199h1m3 0h3m1 0h2m1 0h2m2 0h1m1 0h3m1 0h1m1 0h1m1 0h4m1 0h1m1 0h1m4 0h2m1 0h2m1 0h2m1 0h1m2 0h1m5 0h3M286 200h2m1 0h1m4 0h1m4 0h1m7 0h1m3 0h4m2 0h2m2 0h2m1 0h2m2 0h2m2 0h2m4 0h6m1 0h3m1 0h1m3 0h1m13 0h1M283 201h2m1 0h2m4 0h1m3 0h1m4 0h2m2 0h2m1 0h4m1 0h1m1 0h2m1 0h1m1 0h1m1 0h1m1 0h14m1 0h1m2 0h2m2 0h2m1 0h2m1 0h3m8 0h1m12 0h1M288 202h2m3 0h2m9 0h1m2 0h1m4 0h2m3 0h3m1 0h1m1 0h4m1 0h3m2 0h1m1 0h4m1 0h1m1 0h3m3 0h1m3 0h2m5 0h1M285 203h1m2 0h2m4 0h2m1 0h1m1 0h4m2 0h1m2 0h4m3 0h1m1 0h1m2 0h9m2 0h3m1 0h2m4 0h5m2 0h2m2 0h1m8 0h1m3 0h1M284 204h3m1 0h1m1 0h2m4 0h1m2 0h1m2 0h1m1 0h6m1 0h4m1 0h1m1 0h13m1 0h1m1 0h3m2 0h3m1 0h1m3 0h2m3 0h1m7 0h1M285 205h2m3 0h1m4 0h1m4 0h1m1 0h1m1 0h2m2 0h3m1 0h3m1 0h5m1 0h1m1 0h5m3 0h9m3 0h1m1 0h1m3 0h1m4 0h1m2 0h2m1 0h1m13 0h1M283 206h1m1 0h1m6 0h1m1 0h2m3 0h1m1 0h1m1 0h4m1 0h4m1 0h13m1 0h6m1 0h3m1 0h2m7 0h1m8 0h2m1 0h1m1 0h1m1 0h1m5 0h1M288 207h1m2 0h2m1 0h4m1 0h2m1 0h4m3 0h5m1 0h1m2 0h8m2 0h9m2 0h2m1 0h4m8 0h1m1 0h1m5 0h1m7 0h1m1 0h1m1 0h1m1 0h1M284 208h2m1 0h2m5 0h5m1 0h2m1 0h2m2 0h13m1 0h8m2 0h3m2 0h3m2 0h2m1 0h1m1 0h1m4 0h1m4 0h2m1 0h1m2 0h1m8 0h1m1 0h1m4 0h1M284 209h2m2 0h3m1 0h2m1 0h1m3 0h1m1 0h1m1 0h5m1 0h22m1 0h4m2 0h1m1 0h4m1 0h1m2 0h3m2 0h1m9 0h1m1 0h1m12 0h1M284 210h3m3 0h1m3 0h2m1 0h33m1 0h3m3 0h2m3 0h1m9 0h1m6 0h1m2 0h2m1 0h1m4 0h1m1 0h1m5 0h1m4 0h1M284 211h2m2 0h3m1 0h3m2 0h1m1 0h2m1 0h2m2 0h12m1 0h15m1 0h3m1 0h5m9 0h1m9 0h1m5 0h1m5 0h1m2 0h1M287 212h3m2 0h2m2 0h1m1 0h5m1 0h3m1 0h32m2 0h2m1 0h1m1 0h1m1 0h3m3 0h1m3 0h2m1 0h1m5 0h2m1 0h1M285 213h2m1 0h1m1 0h5m1 0h2m1 0h5m1 0h26m1 0h1m1 0h4m1 0h2m1 0h1m1 0h3m1 0h2m10 0h1m1 0h2m3 0h5m1 0h1m5 0h1M284 214h2m5 0h15m1 0h26m1 0h1m1 0h7m6 0h1m6 0h1m1 0h2m2 0h1m2 0h2m1 0h1m2 0h2m2 0h1m2 0h3M284 215h1m1 0h1m3 0h1m1 0h2m1 0h5m1 0h2m1 0h18m1 0h16m1 0h3m3 0h1m8 0h2m1 0h2m1 0h2m1 0h8m1 0h4m7 0h1M284 216h1m1 0h2m2 0h4m1 0h10m1 0h23m1 0h4m1 0h2m1 0h1m1 0h4m1 0h1m1 0h1m7 0h2m2 0h1m1 0h1m2 0h2m2 0h2m2 0h1m1 0h1m1 0h3m1 0h1M284 217h1m1 0h1m1 0h5m1 0h1m1 0h41m1 0h2m1 0h5m1 0h1m4 0h1m3 0h1m1 0h5m2 0h3m2 0h3m1 0h1m5 0h1M283 218h7m2 0h4m1 0h2m1 0h2m1 0h33m2 0h3m1 0h3m4 0h1m2 0h1m1 0h3m4 0h2m1 0h9m2 0h5M285 219h1m5 0h6m1 0h41m2 0h1m2 0h4m1 0h1m7 0h1m3 0h12m1 0h5m1 0h1M285 220h1m1 0h1m2 0h1m1 0h1m1 0h2m1 0h4m1 0h25m1 0h10m2 0h1m2 0h2m2 0h1m1 0h1m6 0h1m1 0h5m1 0h10m2 0h1m1 0h1m1 0h1M284 221h3m2 0h1m1 0h3m1 0h2m1 0h7m2 0h5m1 0h23m1 0h2m3 0h1m1 0h1m13 0h1m2 0h13m1 0h4m7 0h1M283 222h2m1 0h3m1 0h41m2 0h7m1 0h1m6 0h1m1 0h1m2 0h1m1 0h1m1 0h1m5 0h11m1 0h4m2 0h1m5 0h1M287 223h2m2 0h1m3 0h1m1 0h2m1 0h1m2 0h36m6 0h2m1 0h1m5 0h1m1 0h3m1 0h2m1 0h7m1 0h8M284 224h1m3 0h1m1 0h7m2 0h8m1 0h30m1 0h1m3 0h2m2 0h1m3 0h1m1 0h2m1 0h1m3 0h1m1 0h14m1 0h3M284 225h1m2 0h1m1 0h1m2 0h41m1 0h4m1 0h1m1 0h1m3 0h1m6 0h1m4 0h3m2 0h16m2 0h2m2 0h1M283 226h5m1 0h2m1 0h1m1 0h1m1 0h47m1 0h2m2 0h1m4 0h5m3 0h1m1 0h13m1 0h3m1 0h1M284 227h1m1 0h1m3 0h17m1 0h33m3 0h1m4 0h1m7 0h3m1 0h17m1 0h2m1 0h1M289 228h1m1 0h5m1 0h4m1 0h1m1 0h32m1 0h1m5 0h2m3 0h1m1 0h1m1 0h1m1 0h1m2 0h1m1 0h23M285 229h1m1 0h1m1 0h8m1 0h2m1 0h37m1 0h2m1 0h1m1 0h2m1 0h1m3 0h2m1 0h1m3 0h19m1 0h4M284 230h1m1 0h10m2 0h1m1 0h34m1 0h3m1 0h3m1 0h1m2 0h1m1 0h1m3 0h1m5 0h2m2 0h16m2 0h2m1 0h1M283 231h1m1 0h1m1 0h1m1 0h1m1 0h4m1 0h5m1 0h3m1 0h32m1 0h7m1 0h1m1 0h1m2 0h1m4 0h1m1 0h1m2 0h20M283 232h1m1 0h4m2 0h2m1 0h1m1 0h2m1 0h8m1 0h21m1 0h4m1 0h6m1 0h2m3 0h1m6 0h1m2 0h17m1 0h3m1 0h1m1 0h1m2 0h1m3 0h1M286 233h2m1 0h1m1 0h4m1 0h44m10 0h2m6 0h1m1 0h1m1 0h22m4 0h1M284 234h2m3 0h1m1 0h6m2 0h35m1 0h2m1 0h1m2 0h1m1 0h2m3 0h1m5 0h1m2 0h1m1 0h19m4 0h2m6 0h1M286 235h1m4 0h5m1 0h5m1 0h31m1 0h1m1 0h2m4 0h1m4 0h1m2 0h1m6 0h1m1 0h20M287 236h5m1 0h1m3 0h2m1 0h31m1 0h1m1 0h2m1 0h1m1 0h2m2 0h1m2 0h1m3 0h1m6 0h1m1 0h5m1 0h9m1 0h5m8 0h1M284 237h1m1 0h1m1 0h1m1 0h2m1 0h5m1 0h6m1 0h5m1 0h20m1 0h2m2 0h2m2 0h1m1 0h1m1 0h1m2 0h1m1 0h1m3 0h1m2 0h1m2 0h16m2 0h1m1 0h1M284 238h1m3 0h1m1 0h2m3 0h2m1 0h1m1 0h6m2 0h23m3 0h5m2 0h4m2 0h1m1 0h1m7 0h1m3 0h1m1 0h18M285 239h1m2 0h1m3 0h1m2 0h2m1 0h6m1 0h17m2 0h7m1 0h1m1 0h2m1 0h1m1 0h1m8 0h1m1 0h1m3 0h1m4 0h16m1 0h1m3 0h1M285 240h2m6 0h1m2 0h1m1 0h5m1 0h25m1 0h2m1 0h6m8 0h1m1 0h1m8 0h2m2 0h15m1 0h3M284 241h2m7 0h3m3 0h1m1 0h1m1 0h13m1 0h1m1 0h14m1 0h1m1 0h2m1 0h1m1 0h1m1 0h1m1 0h1m1 0h1m3 0h1m4 0h1m1 0h1m1 0h1m2 0h12m1 0h1M283 242h1m1 0h1m11 0h3m3 0h1m1 0h13m1 0h5m3 0h5m2 0h1m3 0h1m1 0h2m9 0h2m4 0h1m1 0h2m1 0h4m2 0h3m2 0h5m3 0h1M284 243h1m1 0h1m1 0h1m2 0h1m4 0h1m1 0h1m2 0h1m4 0h3m1 0h5m1 0h10m1 0h2m2 0h1m1 0h1m8 0h1m1 0h1m8 0h1m3 0h1m2 0h1m1 0h1m1 0h1m1 0h7m1 0h1m2 0h1m2 0h1m2 0h1M285 244h1m4 0h1m3 0h3m2 0h1m1 0h1m3 0h1m1 0h3m2 0h1m1 0h5m1 0h1m1 0h2m3 0h1m1 0h2m1 0h1m1 0h2m2 0h1m1 0h1m4 0h1m1 0h1m7 0h1m3 0h1m1 0h1m1 0h10m2 0h2M287 245h1m1 0h1m1 0h1m4 0h1m1 0h1m2 0h1m2 0h5m1 0h10m1 0h4m1 0h1m1 0h1m2 0h4m1 0h1m1 0h1m6 0h1m10 0h1m1 0h1m2 0h2m2 0h8m1 0h2m2 0h1M287 246h1m2 0h1m5 0h1m3 0h2m1 0h1m2 0h2m3 0h1m1 0h3m1 0h1m1 0h4m2 0h2m2 0h3m2 0h1m3 0h1m2 0h1m2 0h1m3 0h1m6 0h2m7 0h1m1 0h4m3 0h1m2 0h1m2 0h1m1 0h1M285 247h1m3 0h1m1 0h3m1 0h1m3 0h1m1 0h2m1 0h1m1 0h1m1 0h7m1 0h2m1 0h1m1 0h1m1 0h1m3 0h3m2 0h2m1 0h1m1 0h1m1 0h1m3 0h1m19 0h1m1 0h9m1 0h1M287 248h1m6 0h1m11 0h1m3 0h2m1 0h3m1 0h2m9 0h3m3 0h2m29 0h1m1 0h3m1 0h2m3 0h1"/>
<path class="d" transform="translate(.35,.85)" stroke="#1a1a1a" d="M161 304h1M208 314h1M201 315h1M230 316h1M201 318h1M141 320h1M138 321h1m43 0h1m45 0h1m31 0h1M213 322h1m9 0h1m6 0h1m4 0h1m9 0h1M175 323h1m5 0h1m10 0h1m26 0h1m3 0h1M152 324h1m24 0h1m4 0h1m42 0h1m2 0h1m2 0h1m3 0h1m4 0h1M197 325h1m10 0h1m7 0h1m8 0h1m7 0h1m3 0h1m3 0h1M171 326h1m7 0h1m36 0h3m4 0h1m1 0h2m3 0h3M209 327h1m10 0h1m2 0h1m1 0h2m2 0h1m3 0h2m12 0h1M183 328h1m4 0h1m6 0h1m18 0h1m4 0h1m12 0h1m5 0h1m1 0h1M114 329h1m62 0h1m1 0h1m2 0h1m7 0h1m20 0h1m8 0h1m3 0h2m1 0h1m2 0h4m1 0h3m1 0h1m9 0h1M193 330h2m3 0h1m14 0h1m6 0h1m1 0h1m3 0h7m2 0h3M176 331h1m2 0h1m9 0h1m9 0h1m6 0h1m2 0h1m4 0h1m4 0h5m1 0h1m4 0h2m1 0h4m7 0h1m12 0h1M124 332h1m24 0h1m14 0h1m33 0h1m1 0h2m2 0h1m5 0h1m6 0h2m2 0h2m2 0h1m1 0h2m1 0h2m1 0h2m2 0h1m1 0h3m11 0h1M197 333h1m4 0h1m2 0h1m7 0h1m3 0h2m1 0h1m2 0h7m1 0h2m1 0h2m1 0h1m4 0h1m2 0h1M164 334h1m1 0h1m5 0h2m13 0h2m13 0h1m2 0h2m8 0h7m1 0h8m1 0h2m2 0h1m2 0h1m2 0h1m8 0h1M131 335h1m27 0h1m7 0h1m27 0h1m1 0h1m1 0h2m5 0h5m1 0h1m2 0h19m1 0h1m1 0h2m1 0h2m1 0h2M139 336h1m61 0h2m1 0h2m1 0h1m1 0h14m1 0h13m10 0h1M141 337h1m2 0h1m35 0h1m3 0h1m4 0h1m2 0h1m3 0h2m2 0h1m1 0h1m1 0h1m1 0h1m1 0h1m1 0h1m1 0h6m1 0h11m2 0h9m1 0h1M156 338h1m27 0h1m2 0h2m10 0h1m2 0h1m1 0h1m2 0h2m1 0h2m1 0h16m1 0h3m1 0h1m1 0h3m1 0h1m1 0h3M139 339h1m1 0h2m4 0h1m11 0h1m20 0h1m8 0h1m4 0h1m2 0h1m1 0h1m1 0h1m1 0h1m1 0h2m1 0h2m1 0h1m2 0h5m1 0h18m1 0h2m2 0h1M132 340h2m3 0h1m35 0h1m14 0h2m4 0h2m1 0h2m1 0h2m1 0h3m1 0h14m1 0h14m1 0h2m2 0h1m2 0h1m1 0h1m1 0h1M166 341h1m9 0h1m3 0h1m1 0h1m5 0h1m1 0h2m1 0h1m1 0h1m1 0h1m2 0h1m1 0h3m1 0h26m1 0h2m2 0h1m2 0h2m2 0h1M112 342h1m28 0h2m4 0h1m20 0h1m9 0h1m1 0h1m1 0h1m1 0h1m1 0h1m2 0h1m2 0h2m1 0h2m2 0h1m3 0h3m2 0h29m1 0h4M113 343h1m18 0h1m28 0h1m6 0h2m5 0h2m2 0h5m1 0h3m2 0h1m1 0h1m3 0h2m1 0h2m1 0h13m1 0h17m1 0h4m1 0h2m3 0h1M123 344h1m4 0h1m3 0h1m4 0h1m3 0h1m11 0h1m2 0h1m7 0h1m4 0h1m9 0h1m8 0h2m1 0h2m1 0h2m1 0h32m1 0h6m1 0h1m1 0h5m3 0h1m1 0h1M109 345h1m22 0h1m27 0h1m1 0h1m9 0h1m2 0h5m1 0h8m1 0h4m1 0h5m2 0h5m1 0h19m1 0h7m1 0h1m1 0h2m2 0h1m2 0h2m3 0h1M124 346h1m16 0h1m5 0h1m13 0h1m2 0h1m4 0h1m2 0h2m1 0h4m1 0h1m3 0h2m2 0h1m2 0h1m1 0h5m1 0h8m1 0h23m1 0h2m1 0h3m2 0h3m12 0h1M122 347h2m21 0h1m1 0h1m15 0h1m5 0h1m2 0h1m3 0h1m3 0h1m1 0h1m3 0h45m1 0h8m1 0h1m1 0h1m25 0h1M112 348h1m27 0h1m4 0h1m3 0h1m1 0h1m13 0h1m7 0h2m1 0h3m1 0h1m1 0h1m1 0h3m1 0h2m1 0h1m2 0h39m2 0h4M130 349h1m5 0h1m6 0h1m5 0h1m1 0h1m8 0h1m3 0h2m6 0h3m1 0h4m1 0h4m1 0h4m1 0h3m2 0h41m22 0h1m4 0h1M115 350h1m10 0h1m15 0h1m4 0h1m7 0h1m4 0h1m6 0h1m4 0h1m1 0h1m1 0h3m1 0h11m2 0h1m1 0h3m1 0h27m1 0h1m1 0h3m1 0h2m1 0h1m4 0h1M110 351h1m1 0h1m7 0h1m10 0h1m1 0h1m18 0h1m7 0h1m3 0h1m2 0h3m2 0h5m1 0h2m1 0h5m1 0h2m1 0h1m1 0h5m1 0h31m1 0h2m1 0h1m1 0h2m4 0h1m3 0h1M118 352h1m9 0h1m3 0h1m18 0h2m1 0h1m4 0h1m7 0h2m2 0h1m1 0h2m1 0h1m3 0h10m1 0h4m1 0h10m1 0h23m1 0h3m3 0h1M106 353h1m3 0h1m19 0h1m4 0h1m1 0h1m1 0h2m1 0h1m2 0h2m7 0h3m4 0h1m1 0h2m1 0h1m5 0h3m1 0h3m1 0h4m1 0h8m1 0h8m1 0h18m1 0h11m3 0h2M102 354h1m14 0h1m8 0h5m3 0h1m2 0h1m2 0h1m3 0h1m9 0h2m4 0h1m2 0h2m1 0h1m1 0h9m1 0h4m1 0h3m1 0h11m1 0h27m1 0h2m10 0h1m5 0h1M117 355h1m5 0h1m4 0h1m1 0h1m6 0h1m3 0h1m6 0h2m2 0h2m2 0h2m1 0h1m2 0h2m2 0h1m1 0h3m2 0h1m1 0h1m1 0h2m3 0h3m1 0h9m1 0h23m1 0h4m1 0h4m2 0h1m3 0h1m11 0h1M105 356h1m8 0h1m5 0h1m6 0h1m7 0h1m1 0h4m1 0h1m8 0h1m1 0h1m5 0h3m2 0h6m1 0h4m1 0h4m2 0h3m2 0h2m2 0h13m1 0h3m2 0h1m2 0h2m1 0h11m4 0h1m4 0h1m1 0h1M128 357h1m5 0h1m9 0h1m5 0h1m1 0h1m11 0h1m4 0h3m1 0h4m2 0h6m2 0h1m1 0h4m1 0h13m1 0h12m1 0h1m6 0h1m4 0h1M115 358h2m3 0h1m11 0h2m23 0h2m4 0h2m3 0h2m1 0h1m1 0h3m1 0h2m1 0h2m1 0h1m1 0h2m3 0h3m1 0h1m1 0h1m1 0h6m1 0h7m1 0h6m1 0h3m2 0h1m6 0h1m13 0h1M114 359h1m7 0h3m5 0h1m3 0h1m1 0h1m3 0h2m1 0h1m6 0h1m7 0h1m2 0h2m4 0h1m2 0h1m1 0h1m1 0h1m2 0h1m1 0h8m1 0h1m1 0h2m2 0h2m1 0h1m1 0h1m1 0h14m4 0h2m1 0h2m9 0h1M114 360h1m3 0h1m5 0h1m10 0h1m9 0h1m1 0h4m1 0h1m5 0h1m2 0h2m1 0h1m3 0h1m5 0h5m2 0h1m2 0h1m2 0h1m3 0h1m1 0h4m2 0h3m1 0h1m2 0h2m1 0h2m5 0h2m1 0h4m3 0h1m1 0h1M113 361h1m3 0h4m2 0h1m1 0h1m5 0h1m1 0h2m1 0h2m11 0h1m3 0h1m5 0h2m3 0h3m3 0h2m1 0h2m3 0h1m1 0h3m2 0h1m3 0h2m2 0h1m1 0h3m1 0h1m1 0h1m2 0h3m2 0h3m1 0h1m5 0h1m3 0h1m4 0h1M112 362h1m4 0h1m3 0h1m8 0h1m1 0h3m5 0h1m2 0h1m1 0h1m3 0h1m1 0h1m9 0h1m3 0h2m3 0h3m1 0h2m1 0h1m1 0h1m1 0h1m5 0h5m1 0h4m3 0h4m2 0h4m1 0h1m2 0h3m5 0h1m1 0h1m11 0h1M102 363h1m1 0h1m2 0h1m1 0h1m6 0h1m2 0h1m2 0h1m1 0h1m2 0h1m10 0h1m1 0h3m5 0h1m1 0h1m12 0h1m2 0h1m2 0h1m2 0h4m3 0h1m3 0h2m2 0h1m2 0h1m4 0h1m2 0h4m1 0h1m1 0h1m3 0h1m1 0h1m2 0h1m4 0h1m2 0h1m22 0h1M102 364h1m24 0h1m3 0h1m4 0h1m5 0h1m2 0h1m4 0h1m2 0h1m5 0h1m2 0h1m1 0h1m4 0h4m1 0h1m6 0h1m10 0h1m1 0h1m2 0h1m1 0h1m1 0h1m5 0h1m13 0h1M118 365h1m2 0h1m7 0h1m4 0h2m2 0h1m1 0h1m1 0h3m3 0h2m2 0h2m2 0h2m3 0h2m7 0h2m11 0h1m5 0h1m5 0h1m2 0h1m2 0h1m2 0h2m1 0h1m1 0h1m1 0h1m1 0h1m1 0h1m14 0h1M106 366h1m4 0h1m1 0h1m2 0h1m2 0h1m3 0h1m1 0h1m12 0h1m5 0h1m1 0h1m1 0h1m1 0h1m1 0h1m2 0h2m1 0h3m11 0h2m4 0h1m1 0h1m3 0h1m1 0h1m2 0h2m6 0h1m1 0h1m14 0h2M112 367h1m14 0h1m1 0h1m8 0h2m7 0h1m1 0h1m1 0h1m2 0h1m1 0h1m1 0h2m2 0h2m4 0h1m3 0h6m1 0h5m5 0h2m2 0h2m4 0h1m4 0h1m1 0h2m12 0h1m2 0h1M107 368h2m2 0h1m1 0h2m1 0h1m1 0h1m3 0h1m3 0h1m1 0h1m7 0h2m4 0h1m8 0h2m2 0h1m2 0h1m2 0h3m6 0h1m7 0h1m1 0h1m3 0h1m6 0h1m5 0h1m3 0h1m4 0h2m1 0h1m2 0h1M117 369h1m3 0h1m2 0h2m4 0h4m4 0h2m1 0h1m2 0h1m3 0h1m1 0h5m4 0h2m1 0h1m4 0h3m1 0h1m4 0h1m2 0h1m1 0h1m3 0h1m7 0h1m3 0h1M108 370h1m1 0h2m5 0h1m4 0h2m1 0h1m4 0h1m2 0h4m1 0h1m2 0h4m8 0h3m1 0h1m1 0h1m1 0h1m4 0h2m2 0h1m2 0h1m1 0h2m8 0h2m32 0h1m9 0h1M115 371h1m5 0h1m1 0h2m6 0h1m3 0h1m2 0h1m1 0h1m4 0h1m2 0h1m2 0h3m3 0h1m10 0h1m6 0h1m2 0h1m15 0h1m9 0h1m18 0h1M118 372h1m3 0h1m1 0h1m2 0h1m1 0h1m3 0h1m8 0h2m3 0h2m2 0h1m1 0h3m1 0h2m2 0h4m3 0h1m10 0h1m6 0h1m16 0h1M116 373h1m3 0h2m3 0h1m1 0h1m3 0h1m2 0h1m1 0h5m2 0h1m1 0h1m1 0h1m3 0h2m1 0h2m1 0h1m1 0h1m1 0h1m1 0h4m2 0h3m4 0h1m27 0h1m11 0h1m6 0h1M101 374h2m4 0h1m8 0h1m9 0h1m12 0h1m5 0h2m3 0h1m2 0h1m1 0h2m6 0h1m3 0h1m3 0h1m1 0h1m1 0h2m6 0h1m5 0h1M105 375h1m1 0h1m6 0h1m2 0h1m1 0h1m3 0h1m4 0h1m5 0h2m1 0h1m1 0h1m2 0h2m1 0h1m1 0h1m1 0h1m1 0h4m6 0h1m9 0h1m1 0h1m18 0h1M101 376h1m6 0h1m2 0h1m8 0h1m2 0h1m4 0h2m3 0h1m1 0h1m1 0h1m1 0h1m4 0h1m5 0h1m2 0h2m3 0h2m3 0h1m3 0h3m1 0h1m1 0h1m5 0h1m3 0h1m19 0h1m4 0h1M103 377h1m6 0h1m7 0h1m2 0h1m6 0h1m1 0h2m2 0h2m3 0h1m3 0h2m1 0h1m1 0h2m5 0h2m1 0h1m1 0h2m1 0h3m1 0h1m1 0h1m1 0h3m1 0h1m2 0h1m1 0h1m5 0h1m5 0h1m1 0h1m6 0h1M104 378h2m5 0h1m9 0h1m2 0h3m2 0h3m3 0h1m1 0h1m1 0h1m2 0h1m1 0h1m1 0h1m2 0h1m3 0h1m1 0h1m4 0h1m1 0h4m1 0h1m2 0h1m10 0h1m6 0h1m5 0h1M129 379h1m2 0h2m4 0h1m2 0h2m3 0h1m2 0h11m1 0h1m4 0h1m2 0h1m2 0h1m2 0h1m1 0h1m1 0h1m1 0h1m3 0h1M105 380h1m7 0h2m2 0h1m4 0h2m12 0h1m1 0h1m8 0h1m2 0h1m6 0h4m3 0h1m2 0h2m14 0h1m5 0h1M114 381h1m4 0h2m2 0h1m6 0h1m3 0h1m1 0h1m3 0h1m1 0h5m3 0h1m1 0h1m2 0h1m1 0h1m3 0h1m5 0h1m2 0h1m6 0h1m2 0h1m1 0h1m11 0h1M115 382h1m10 0h1m1 0h1m1 0h1m5 0h1m1 0h1m1 0h2m3 0h2m3 0h2m2 0h2m2 0h1m2 0h2m6 0h1m1 0h1m1 0h1m10 0h1M110 383h1m13 0h3m1 0h1m1 0h2m2 0h1m3 0h3m3 0h1m2 0h2m1 0h3m4 0h2m2 0h1m1 0h2m1 0h2m1 0h1m1 0h1m1 0h1m6 0h1M111 384h1m18 0h1m6 0h2m2 0h1m4 0h1m1 0h1m3 0h1m5 0h3m1 0h1m1 0h1m5 0h2m2 0h1M103 385h1m8 0h1m2 0h1m2 0h1m1 0h1m4 0h1m3 0h1m17 0h2m1 0h1m2 0h4m1 0h2m1 0h1m1 0h1m2 0h1m2 0h1m1 0h1m1 0h1m6 0h1M117 386h1m3 0h1m8 0h2m3 0h1m2 0h3m1 0h2m2 0h3m2 0h2m1 0h1m2 0h2m3 0h2m4 0h1m13 0h1M104 387h1m2 0h1m1 0h1m10 0h1m2 0h2m5 0h1m4 0h1m4 0h3m6 0h1m2 0h2m1 0h4m3 0h1m1 0h1m3 0h1m1 0h1m2 0h2M114 388h1m11 0h1m2 0h2m7 0h2m2 0h2m1 0h1m3 0h4m3 0h1m5 0h2m2 0h1m2 0h2m11 0h1m3 0h1M113 389h1m10 0h1m6 0h2m11 0h2m1 0h1m1 0h2m5 0h1m3 0h4m3 0h1m3 0h1m1 0h1m1 0h1m20 0h1M108 390h1m7 0h4m14 0h8m2 0h3m2 0h2m2 0h1m1 0h3m1 0h1m1 0h1m6 0h4m2 0h2m12 0h1M116 391h2m10 0h1m2 0h4m1 0h1m3 0h1m6 0h1m1 0h4m1 0h1m9 0h1m4 0h1M107 392h1m12 0h1m4 0h1m2 0h2m2 0h1m1 0h1m1 0h2m2 0h3m3 0h1m1 0h1m3 0h1m4 0h1m1 0h1m3 0h1m1 0h3m1 0h1M107 393h1m14 0h2m6 0h5m2 0h1m9 0h3m2 0h4m3 0h3m1 0h2m1 0h3m6 0h1m4 0h1m6 0h1M109 394h1m9 0h1m3 0h1m1 0h3m2 0h4m4 0h1m2 0h1m8 0h4m4 0h1m4 0h3m3 0h2m1 0h1M120 395h2m5 0h1m2 0h1m3 0h2m4 0h1m4 0h1m1 0h1m3 0h1m1 0h3m1 0h1m3 0h1m1 0h1m1 0h1m2 0h1m13 0h1M107 396h1m2 0h1m1 0h1m13 0h1m1 0h1m1 0h1m1 0h1m1 0h1m3 0h1m1 0h1m3 0h2m3 0h7m1 0h1m1 0h1m3 0h1m6 0h2m4 0h1m4 0h1M104 397h1m14 0h1m1 0h3m1 0h1m2 0h3m5 0h1m1 0h1m1 0h3m3 0h2m8 0h1m1 0h7m1 0h2m3 0h1m6 0h1M115 398h1m5 0h1m2 0h3m4 0h1m2 0h1m1 0h1m3 0h2m7 0h1m1 0h5m3 0h4m1 0h3m10 0h1m9 0h1M103 399h1m7 0h1m15 0h1m4 0h1m1 0h1m1 0h1m2 0h1m2 0h1m1 0h3m2 0h3m1 0h4m3 0h3m6 0h1m3 0h1m4 0h1m1 0h2M109 400h1m8 0h1m1 0h2m5 0h1m3 0h1m1 0h1m1 0h2m1 0h2m1 0h3m2 0h1m1 0h1m4 0h1m1 0h1m4 0h1m3 0h2m1 0h2m1 0h1m7 0h1m2 0h1m6 0h1M104 401h2m6 0h5m1 0h1m3 0h2m2 0h1m1 0h3m2 0h2m1 0h2m1 0h3m4 0h4m1 0h1m11 0h2m5 0h2m2 0h2M100 402h2m7 0h1m4 0h1m9 0h1m3 0h1m3 0h1m3 0h2m2 0h5m2 0h1m1 0h1m2 0h2m2 0h3m13 0h1m12 0h1M100 403h1m6 0h1m3 0h3m11 0h1m1 0h2m3 0h10m5 0h4m1 0h1m1 0h1m6 0h2m4 0h1m14 0h1M101 404h1m8 0h1m2 0h1m1 0h2m1 0h1m4 0h1m1 0h1m3 0h2m3 0h6m1 0h1m3 0h4m2 0h1m1 0h3m3 0h1m1 0h1m2 0h1m2 0h1m3 0h1m4 0h1m8 0h1M116 405h1m1 0h1m3 0h1m2 0h4m3 0h1m1 0h2m1 0h2m1 0h1m1 0h1m1 0h2m3 0h1m1 0h1m1 0h2m3 0h1m8 0h3M112 406h1m4 0h2m3 0h1m1 0h6m1 0h1m4 0h2m3 0h4m2 0h2m2 0h1m3 0h2m2 0h1m7 0h1m4 0h1M101 407h1m7 0h1m1 0h2m3 0h1m1 0h1m1 0h2m2 0h1m1 0h1m2 0h1m6 0h10m2 0h1m2 0h1m1 0h1m3 0h4m1 0h1m24 0h1M114 408h2m1 0h1m4 0h3m3 0h1m2 0h1m1 0h3m2 0h7m3 0h1m2 0h1m2 0h1m1 0h2m3 0h2m1 0h1m1 0h1m3 0h1m1 0h2m2 0h1m1 0h1m1 0h1M110 409h1m1 0h1m7 0h1m5 0h3m6 0h1m2 0h1m1 0h1m2 0h1m1 0h5m3 0h1m4 0h1m1 0h1m5 0h1m2 0h1m3 0h2m3 0h1m15 0h1M102 410h1m5 0h1m3 0h1m5 0h1m2 0h1m6 0h3m3 0h3m3 0h3m1 0h1m2 0h2m4 0h1m1 0h3m2 0h1m6 0h2m9 0h1M110 411h2m3 0h1m3 0h1m1 0h1m2 0h3m1 0h3m1 0h2m2 0h3m1 0h1m4 0h6m1 0h3m1 0h1m2 0h1m2 0h1m1 0h1m7 0h3m1 0h1M108 412h1m2 0h1m2 0h1m2 0h1m5 0h2m1 0h1m3 0h2m4 0h2m2 0h1m3 0h5m2 0h2m1 0h2m13 0h2m2 0h1m5 0h1M103 413h1m13 0h1m1 0h3m5 0h1m2 0h1m2 0h4m1 0h10m3 0h2m3 0h3m2 0h3m1 0h3m5 0h1m13 0h1m3 0h1m9 0h1M100 414h1m4 0h1m3 0h1m3 0h1m4 0h1m1 0h1m4 0h1m3 0h7m1 0h2m1 0h4m4 0h4m1 0h4m2 0h1m2 0h1m7 0h1m4 0h2m13 0h1M106 415h1m2 0h2m1 0h2m2 0h4m1 0h6m2 0h2m2 0h4m1 0h4m2 0h1m1 0h4m1 0h2m1 0h3m3 0h2m4 0h1m1 0h2m3 0h1m2 0h1M104 416h1m1 0h2m1 0h2m1 0h5m1 0h4m2 0h2m1 0h1m3 0h7m2 0h1m1 0h4m1 0h9m1 0h1m2 0h1m2 0h3m1 0h1m3 0h1m2 0h1m6 0h1M103 417h2m2 0h1m2 0h1m1 0h3m6 0h2m2 0h5m1 0h7m2 0h4m4 0h1m4 0h3m2 0h1m1 0h3m1 0h1m6 0h2m7 0h1M102 418h1m1 0h1m2 0h2m2 0h1m1 0h1m2 0h2m1 0h1m1 0h2m1 0h1m1 0h1m1 0h2m1 0h3m1 0h1m1 0h1m1 0h3m1 0h5m2 0h9m1 0h1m7 0h1M109 419h1m4 0h1m2 0h1m1 0h1m2 0h2m1 0h2m1 0h1m1 0h6m4 0h6m1 0h1m1 0h4m1 0h2m3 0h1m5 0h1m1 0h1m8 0h3m6 0h1m2 0h1M100 420h1m7 0h1m2 0h2m1 0h1m4 0h5m1 0h3m2 0h4m1 0h2m1 0h1m2 0h3m2 0h5m2 0h2m1 0h4m1 0h2m1 0h2m3 0h1m1 0h2m4 0h1M101 421h1m4 0h1m4 0h1m2 0h4m7 0h9m1 0h1m1 0h8m1 0h3m1 0h2m2 0h1m3 0h3m1 0h1m2 0h1m2 0h2m3 0h1m1 0h1m33 0h1M104 422h1m9 0h1m1 0h2m7 0h4m1 0h1m3 0h1m1 0h6m3 0h1m1 0h1m2 0h1m1 0h1m1 0h4m1 0h1m1 0h2m1 0h1m4 0h1m1 0h1m3 0h1M104 423h1m1 0h1m3 0h2m1 0h1m2 0h1m1 0h2m1 0h1m1 0h2m1 0h2m1 0h1m1 0h4m2 0h14m2 0h2m4 0h3m3 0h3m6 0h1m2 0h1m16 0h1M101 424h1m4 0h2m2 0h1m4 0h8m3 0h5m1 0h1m1 0h2m2 0h5m1 0h2m2 0h1m1 0h2m3 0h3m3 0h1m1 0h2m2 0h4m1 0h1m11 0h1m3 0h1M101 425h1m6 0h2m1 0h1m1 0h2m2 0h2m1 0h1m2 0h2m1 0h5m1 0h11m2 0h2m1 0h1m1 0h1m1 0h1m3 0h2m1 0h1m1 0h1m2 0h1m2 0h1m1 0h1m1 0h3m3 0h1M107 426h1m3 0h1m1 0h1m1 0h1m1 0h4m1 0h4m1 0h13m1 0h7m1 0h1m2 0h3m2 0h1m3 0h1m1 0h1m6 0h1m2 0h1M101 427h2m6 0h4m1 0h9m1 0h2m1 0h8m1 0h7m2 0h1m3 0h2m3 0h4m6 0h2m2 0h2m17 0h2m26 0h1M102 428h2m2 0h1m2 0h1m2 0h2m1 0h12m1 0h1m1 0h13m2 0h3m1 0h2m1 0h3m1 0h3m1 0h2m1 0h1m3 0h1m1 0h1M101 429h4m2 0h2m2 0h1m3 0h1m2 0h3m1 0h1m1 0h1m1 0h7m1 0h7m1 0h4m1 0h2m2 0h2m1 0h6m1 0h2m1 0h1m6 0h3m1 0h1M102 430h3m2 0h1m2 0h1m3 0h2m2 0h4m1 0h1m1 0h3m1 0h14m1 0h1m1 0h1m1 0h1m1 0h1m2 0h2m2 0h2m3 0h1m2 0h1m3 0h1m1 0h2M105 431h1m4 0h1m1 0h6m1 0h1m1 0h7m1 0h1m1 0h13m1 0h3m1 0h2m1 0h2m1 0h2m2 0h2m1 0h3m1 0h1m2 0h2m5 0h1m2 0h1M103 432h1m2 0h1m5 0h3m1 0h1m2 0h27m1 0h3m2 0h1m6 0h3m5 0h1m3 0h1m8 0h1m2 0h1M104 433h3m1 0h2m1 0h1m1 0h1m1 0h2m1 0h30m3 0h3m2 0h2m1 0h5m1 0h1m2 0h1m23 0h1M100 434h1m2 0h1m4 0h3m2 0h3m2 0h29m1 0h2m6 0h2m3 0h2m1 0h1m5 0h1m2 0h1m4 0h1m2 0h3m6 0h1M107 435h3m1 0h5m1 0h32m1 0h2m1 0h3m4 0h1m2 0h2m1 0h1m9 0h1M103 436h1m3 0h1m1 0h2m1 0h3m1 0h25m2 0h9m1 0h1m1 0h1m1 0h2m3 0h1m1 0h1m5 0h2M100 437h1m6 0h2m2 0h1m1 0h7m1 0h25m1 0h5m3 0h2m4 0h1m2 0h2m8 0h1m5 0h1m4 0h1M102 438h2m3 0h4m1 0h3m1 0h1m1 0h25m2 0h7m1 0h1m1 0h2m1 0h1m2 0h1m3 0h1M109 439h1m1 0h2m1 0h1m1 0h3m1 0h1m1 0h25m1 0h1m3 0h2m1 0h1m3 0h1m17 0h1m10 0h1M106 440h2m5 0h8m1 0h29m1 0h1m1 0h1m2 0h1m1 0h1m9 0h1m6 0h1M106 441h1m2 0h1m3 0h6m1 0h25m1 0h1m1 0h2m1 0h1m1 0h1m3 0h1m6 0h1m6 0h1m3 0h1m14 0h1M111 442h5m1 0h32m1 0h2m3 0h2m1 0h2m1 0h1m9 0h1m8 0h3m1 0h1M103 443h1m3 0h1m1 0h1m1 0h1m2 0h1m1 0h2m2 0h9m1 0h17m1 0h2m2 0h1m2 0h2m6 0h1m8 0h1m4 0h1M101 444h1m9 0h1m2 0h1m1 0h1m1 0h3m3 0h21m2 0h1m3 0h1m2 0h1m2 0h1m3 0h1m1 0h1M101 445h1m8 0h2m1 0h3m1 0h1m1 0h2m1 0h8m1 0h11m3 0h1m3 0h1m1 0h1m1 0h1m9 0h2m13 0h1M103 446h1m5 0h1m2 0h2m1 0h6m1 0h9m1 0h2m1 0h4m1 0h1m2 0h4m1 0h1m1 0h2m1 0h1m1 0h1m2 0h1m1 0h1m6 0h1M102 447h1m9 0h1m1 0h1m1 0h3m1 0h1m2 0h2m1 0h3m2 0h7m1 0h1m1 0h4m2 0h1m1 0h2m4 0h1m4 0h1m3 0h1m3 0h1m1 0h1m10 0h2m9 0h1M108 448h1m1 0h3m1 0h2m1 0h1m1 0h3m1 0h6m2 0h1m1 0h3m2 0h8m1 0h1m1 0h1m1 0h2m1 0h1m5 0h1m2 0h1m6 0h1M115 449h1m1 0h2m1 0h6m1 0h2m1 0h3m2 0h5m2 0h1m6 0h1m23 0h1m1 0h2m1 0h1M104 450h1m7 0h1m3 0h1m1 0h1m1 0h3m1 0h3m1 0h5m1 0h2m1 0h6m2 0h3m9 0h1m3 0h1m20 0h1M106 451h3m2 0h2m7 0h2m3 0h1m2 0h1m1 0h5m2 0h7m1 0h1m1 0h2m18 0h1m10 0h1m2 0h1M106 452h1m2 0h1m6 0h1m3 0h2m4 0h3m1 0h1m1 0h12m1 0h2m1 0h1m1 0h2m1 0h3m16 0h1m1 0h2M103 453h1m14 0h1m2 0h1m3 0h1m2 0h1m4 0h1m1 0h5m1 0h2m3 0h1m3 0h1m52 0h1"/>
<path class="d" transform="translate(.35,.85)" stroke="#1a1a1a" d="M390 305h1M363 309h1M382 314h1M391 317h1M302 318h1m19 0h1M365 320h1m49 0h1M376 321h1m38 0h1M421 322h1m4 0h1M365 323h1m12 0h1m24 0h1M307 324h1M357 325h1m23 0h1m37 0h1M376 326h1m28 0h1m20 0h1m17 0h1M384 327h1m11 0h1m9 0h1M351 328h1m5 0h1m29 0h1m13 0h1m9 0h1m2 0h1m6 0h1M369 329h1m24 0h1m37 0h1M306 330h1m74 0h1m12 0h1m1 0h1m6 0h2M346 331h1m2 0h1m17 0h1m16 0h1m11 0h1m1 0h1m8 0h2m10 0h1m18 0h1M338 332h1m17 0h1m10 0h1m3 0h1m16 0h2m4 0h1m1 0h1m4 0h2m13 0h1m6 0h1m11 0h1m9 0h1M374 333h1m6 0h1m8 0h2m2 0h1m1 0h1m5 0h1m5 0h3m5 0h1m4 0h1M323 334h1m1 0h1m41 0h1m12 0h1m7 0h1m3 0h3m2 0h1m1 0h1m1 0h1m2 0h1m1 0h2m4 0h3m1 0h1m3 0h4M313 335h1m65 0h1m1 0h2m5 0h1m2 0h2m1 0h1m5 0h1m1 0h1m3 0h1m7 0h2m3 0h1m2 0h1M354 336h1m27 0h1m5 0h1m1 0h1m2 0h1m3 0h2m2 0h6m1 0h2m1 0h3m2 0h1m1 0h2M363 337h1m16 0h1m1 0h1m1 0h1m1 0h1m2 0h1m1 0h2m1 0h3m2 0h5m2 0h2m1 0h1m1 0h2m1 0h1m2 0h1m2 0h2m13 0h1M311 338h1m11 0h1m29 0h1m10 0h1m3 0h1m11 0h1m3 0h4m3 0h5m1 0h4m2 0h1m1 0h2m2 0h1m1 0h4m2 0h2m3 0h1M296 339h1m34 0h2m18 0h1m4 0h1m10 0h2m1 0h1m7 0h1m3 0h3m1 0h2m1 0h2m1 0h14m1 0h4m1 0h1m5 0h1m3 0h1m9 0h1M351 340h1m5 0h1m10 0h1m6 0h1m3 0h1m4 0h1m2 0h2m1 0h1m1 0h3m1 0h13m1 0h2m2 0h2m2 0h1M297 341h1m54 0h1m7 0h1m6 0h1m3 0h1m6 0h2m2 0h1m3 0h4m1 0h5m1 0h12m2 0h1m2 0h1m3 0h1m21 0h1M354 342h1m6 0h1m6 0h2m2 0h2m3 0h3m1 0h20m1 0h5m1 0h1m5 0h2m4 0h1m2 0h2M335 343h1m10 0h1m19 0h1m4 0h3m2 0h1m3 0h5m1 0h22m2 0h5m2 0h3m1 0h1M317 344h1m8 0h1m32 0h2m1 0h1m4 0h1m4 0h1m1 0h5m1 0h4m1 0h2m1 0h2m1 0h21m16 0h1M315 345h1m19 0h2m8 0h1m9 0h2m2 0h1m3 0h3m1 0h1m2 0h1m3 0h6m1 0h1m1 0h29m1 0h2m12 0h1M302 346h1m17 0h1m33 0h1m1 0h1m1 0h2m1 0h1m5 0h2m2 0h1m1 0h1m1 0h13m1 0h9m2 0h4m1 0h3m1 0h1m2 0h1m5 0h1m6 0h1m14 0h1M306 347h1m1 0h1m5 0h1m15 0h1m7 0h1m4 0h2m5 0h1m1 0h1m10 0h2m1 0h2m1 0h2m1 0h3m1 0h1m1 0h3m1 0h21m2 0h1m1 0h4m1 0h2m1 0h1m2 0h1m1 0h1M299 348h1m49 0h1m10 0h1m3 0h5m1 0h1m1 0h4m1 0h1m1 0h7m1 0h15m2 0h1m2 0h1m1 0h1m3 0h1m1 0h1m30 0h1M298 349h1m6 0h1m6 0h1m16 0h2m3 0h1m8 0h1m2 0h1m7 0h1m4 0h2m1 0h1m1 0h1m1 0h1m1 0h1m2 0h2m1 0h1m1 0h3m1 0h1m1 0h4m1 0h1m1 0h18m2 0h2m1 0h1m1 0h1m11 0h1m7 0h1M311 350h1m8 0h1m17 0h1m4 0h1m2 0h1m2 0h5m7 0h2m1 0h2m3 0h5m1 0h1m2 0h2m1 0h7m1 0h9m2 0h1m3 0h3m4 0h1m1 0h1m7 0h1M297 351h1m1 0h1m12 0h1m2 0h1m7 0h1m9 0h1m16 0h1m6 0h1m1 0h1m1 0h2m3 0h3m1 0h4m1 0h2m1 0h9m1 0h11m1 0h1m2 0h1m2 0h1m1 0h1M300 352h1m6 0h1m5 0h1m1 0h1m3 0h1m12 0h1m3 0h1m6 0h2m1 0h1m1 0h1m4 0h4m2 0h2m2 0h1m2 0h1m1 0h1m1 0h2m1 0h2m1 0h1m1 0h3m1 0h1m1 0h11m1 0h4m1 0h2m2 0h1m1 0h2M302 353h1m2 0h1m4 0h2m3 0h1m14 0h1m9 0h1m6 0h1m3 0h1m2 0h1m10 0h1m1 0h2m1 0h3m2 0h4m1 0h4m1 0h1m1 0h1m1 0h1m1 0h5m1 0h4m1 0h4m2 0h2m7 0h1m1 0h1m3 0h1M286 354h1m11 0h2m1 0h1m3 0h1m5 0h1m9 0h1m7 0h1m13 0h1m3 0h2m1 0h1m1 0h1m1 0h2m5 0h3m2 0h1m1 0h2m1 0h2m1 0h4m1 0h4m1 0h4m1 0h3m2 0h2m3 0h2m1 0h1m2 0h1M298 355h1m10 0h1m12 0h1m3 0h3m9 0h1m5 0h1m1 0h3m1 0h2m4 0h1m2 0h1m2 0h3m3 0h1m1 0h2m3 0h2m1 0h3m1 0h3m1 0h1m1 0h1m1 0h1m1 0h1m3 0h1m7 0h1M315 356h1m21 0h1m11 0h1m7 0h1m1 0h1m2 0h9m1 0h2m1 0h1m3 0h2m2 0h4m1 0h1m3 0h1m1 0h2m2 0h2m14 0h1M301 357h1m9 0h1m1 0h2m11 0h1m3 0h1m2 0h1m3 0h1m7 0h1m5 0h1m7 0h5m1 0h1m2 0h4m1 0h2m2 0h6m6 0h1m6 0h1M294 358h1m2 0h1m12 0h1m2 0h1m1 0h2m1 0h2m3 0h1m7 0h2m8 0h1m1 0h1m7 0h2m1 0h2m2 0h1m2 0h2m1 0h1m5 0h1m4 0h2m3 0h1m3 0h1m1 0h1m2 0h1m1 0h1m1 0h1m1 0h1m1 0h1m4 0h1m1 0h1M287 359h1m7 0h1m13 0h1m1 0h1m8 0h2m10 0h1m1 0h1m15 0h1m2 0h1m3 0h5m2 0h2m2 0h4m3 0h1m1 0h1m2 0h3m6 0h3m15 0h1M302 360h1m1 0h1m8 0h1m3 0h1m6 0h2m4 0h1m3 0h1m5 0h1m4 0h2m3 0h1m2 0h1m1 0h2m1 0h1m1 0h1m7 0h1m4 0h2m1 0h2m3 0h2m1 0h2m4 0h1m2 0h1m4 0h1m7 0h1m10 0h1M305 361h1m3 0h1m6 0h1m5 0h1m2 0h1m11 0h1m6 0h1m7 0h1m2 0h1m1 0h3m3 0h1m13 0h2m1 0h1m2 0h1m1 0h1m4 0h1M295 362h1m1 0h1m2 0h1m13 0h1m4 0h1m2 0h1m4 0h1m3 0h1m4 0h1m4 0h2m1 0h1m2 0h2m2 0h2m1 0h2m1 0h1m2 0h2m1 0h1m2 0h4m1 0h1m2 0h1m1 0h1m3 0h2m8 0h1m5 0h1M284 363h1m15 0h1m4 0h1m4 0h2m10 0h1m2 0h1m6 0h2m9 0h2m5 0h2m2 0h1m6 0h1m3 0h1m2 0h1m10 0h1m5 0h1m6 0h2m20 0h1M305 364h1m7 0h1m1 0h1m8 0h2m4 0h1m2 0h2m1 0h1m1 0h2m4 0h1m1 0h1m4 0h1m5 0h1m2 0h1m5 0h2m2 0h1m5 0h1m4 0h1m31 0h1M285 365h1m13 0h1m5 0h2m1 0h1m4 0h1m2 0h1m2 0h1m5 0h2m2 0h1m3 0h2m2 0h3m3 0h1m9 0h2m10 0h4m29 0h1M299 366h1m1 0h1m4 0h1m6 0h1m2 0h2m8 0h1m1 0h3m2 0h1m2 0h2m3 0h1m1 0h2m3 0h1m1 0h2m1 0h2m8 0h1m6 0h2m1 0h1m1 0h1m14 0h1M294 367h1m4 0h1m13 0h2m1 0h1m5 0h1m12 0h2m3 0h1m2 0h1m2 0h1m16 0h1m5 0h1M296 368h1m1 0h1m6 0h1m1 0h1m1 0h1m6 0h1m4 0h2m2 0h6m1 0h1m3 0h1m6 0h1m5 0h3m4 0h1m5 0h2m3 0h1m6 0h1m20 0h1M287 369h1m3 0h1m14 0h2m4 0h1m2 0h5m3 0h2m11 0h1m1 0h2m3 0h1m6 0h1m1 0h1m3 0h2m3 0h1m12 0h1m13 0h1M305 370h1m4 0h1m3 0h1m3 0h1m1 0h3m1 0h2m3 0h4m1 0h1m3 0h1m5 0h1m2 0h2m1 0h1m3 0h2m1 0h1m2 0h1m5 0h1m3 0h1m3 0h1M294 371h1m2 0h1m5 0h1m7 0h1m3 0h1m4 0h1m3 0h3m1 0h1m3 0h2m3 0h1m6 0h1m1 0h1m9 0h1m1 0h1m1 0h2m1 0h2m2 0h1m3 0h1M291 372h2m4 0h2m2 0h1m4 0h1m2 0h2m3 0h1m5 0h3m3 0h1m3 0h1m1 0h2m1 0h2m1 0h1m1 0h2m2 0h1m4 0h1m1 0h3m4 0h3m16 0h1m26 0h1M299 373h1m7 0h2m5 0h1m2 0h1m11 0h1m7 0h1m1 0h1m3 0h2m2 0h2m4 0h1m2 0h1m22 0h1M295 374h1m5 0h1m11 0h1m1 0h1m9 0h3m4 0h1m4 0h1m2 0h1m12 0h1m5 0h2m2 0h1m1 0h1M283 375h1m24 0h1m6 0h2m3 0h1m6 0h1m2 0h1m2 0h1m6 0h1m2 0h1m1 0h1m1 0h2m2 0h1m2 0h3m12 0h1M283 376h1m17 0h1m2 0h1m15 0h1m2 0h1m4 0h2m2 0h3m4 0h1m1 0h2m1 0h2m7 0h1m1 0h1m1 0h1m10 0h1m10 0h1M303 377h2m8 0h4m4 0h1m5 0h3m1 0h1m5 0h2m6 0h2m4 0h2m6 0h3m9 0h1m1 0h1m1 0h2M285 378h1m5 0h1m6 0h1m9 0h3m4 0h3m2 0h1m2 0h1m5 0h4m1 0h1m2 0h1m4 0h4m1 0h1m7 0h1m4 0h2M297 379h1m15 0h1m5 0h1m1 0h2m5 0h1m11 0h3m5 0h2m1 0h3m1 0h4m1 0h1m4 0h1m5 0h1m4 0h1M292 380h1m14 0h1m5 0h1m4 0h2m7 0h1m1 0h2m2 0h1m6 0h2m1 0h2m5 0h2m3 0h3m2 0h1m1 0h1M290 381h1m1 0h1m3 0h1m8 0h1m7 0h2m4 0h1m1 0h1m5 0h1m1 0h1m4 0h5m1 0h1m3 0h1m2 0h1m2 0h1m1 0h2m4 0h1m5 0h1M295 382h1m1 0h1m7 0h2m4 0h1m2 0h1m4 0h1m9 0h1m1 0h1m8 0h1m2 0h1m1 0h1m2 0h3m7 0h1m9 0h1m8 0h1M303 383h1m7 0h1m2 0h1m2 0h1m2 0h1m1 0h1m3 0h3m2 0h1m1 0h4m1 0h1m1 0h1m1 0h1m2 0h1m1 0h1m1 0h1m4 0h3m11 0h1M288 384h1m18 0h2m5 0h1m4 0h2m2 0h1m1 0h1m1 0h1m6 0h1m4 0h1m4 0h1m1 0h2m4 0h2M312 385h1m8 0h1m1 0h1m2 0h3m1 0h1m2 0h2m4 0h1m2 0h1m3 0h2m2 0h2m2 0h2m4 0h3M310 386h1m11 0h1m7 0h1m3 0h1m3 0h1m7 0h1m7 0h2m2 0h3m6 0h1M296 387h1m2 0h1m8 0h1m6 0h1m4 0h1m1 0h2m2 0h1m1 0h1m2 0h1m3 0h1m7 0h2m1 0h2m3 0h1m2 0h1m11 0h1M287 388h1m23 0h3m2 0h1m6 0h1m2 0h2m5 0h3m1 0h1m2 0h5m3 0h2m4 0h1m3 0h1M288 389h1m8 0h1m2 0h2m13 0h2m1 0h2m7 0h1m1 0h2m2 0h1m1 0h2m2 0h1m1 0h3m2 0h1m1 0h1m3 0h3m3 0h1M310 390h1m5 0h1m3 0h1m3 0h1m2 0h2m2 0h2m2 0h3m1 0h1m6 0h1m4 0h2m2 0h1m3 0h1m5 0h1m1 0h1M289 391h2m2 0h1m11 0h1m1 0h1m7 0h1m4 0h1m2 0h1m2 0h2m1 0h1m1 0h1m6 0h1m1 0h1m2 0h1m2 0h1m2 0h1m2 0h2m5 0h1m3 0h1M294 392h1m15 0h1m1 0h2m2 0h1m1 0h1m2 0h1m2 0h1m2 0h2m6 0h1m3 0h1m2 0h1m2 0h1m2 0h3m1 0h1m10 0h2m17 0h1M287 393h1m5 0h1m5 0h1m2 0h1m6 0h1m1 0h1m1 0h1m1 0h1m2 0h1m1 0h1m1 0h1m15 0h1m2 0h6m9 0h1m1 0h1M299 394h1m6 0h4m9 0h1m3 0h1m2 0h1m1 0h1m1 0h1m3 0h1m3 0h1m2 0h3m3 0h1m1 0h1m1 0h1m1 0h1m4 0h1m1 0h1m3 0h1M286 395h1m6 0h1m5 0h2m1 0h2m3 0h2m7 0h2m3 0h1m1 0h2m1 0h3m4 0h4m3 0h1m4 0h1m2 0h1m4 0h1m11 0h1M289 396h1m7 0h1m1 0h1m3 0h1m4 0h3m3 0h2m1 0h2m2 0h1m3 0h1m1 0h1m8 0h1m2 0h1m2 0h1m3 0h1m2 0h2m17 0h1M285 397h1m5 0h1m22 0h1m3 0h2m2 0h1m1 0h1m3 0h2m4 0h3m1 0h1m1 0h2m1 0h1m6 0h2M300 398h1m2 0h1m4 0h1m1 0h1m4 0h1m3 0h1m1 0h2m5 0h2m4 0h2m1 0h1m1 0h2m2 0h2m2 0h1m2 0h1m4 0h3m2 0h1M291 399h1m6 0h1m1 0h2m9 0h1m1 0h2m2 0h2m2 0h2m2 0h1m1 0h1m3 0h2m2 0h1m1 0h1m1 0h1m1 0h1m3 0h1m3 0h2m1 0h1m4 0h1m10 0h1M285 400h1m3 0h1m2 0h1m14 0h1m3 0h1m3 0h3m1 0h1m6 0h1m1 0h2m1 0h1m1 0h1m5 0h1m5 0h1m7 0h1m3 0h1m4 0h1M292 401h1m5 0h3m5 0h3m4 0h1m2 0h1m4 0h2m6 0h1m1 0h4m1 0h1m1 0h1m6 0h1m2 0h1m1 0h1m3 0h2m10 0h1m15 0h1M283 402h1m5 0h1m7 0h1m3 0h1m2 0h1m2 0h1m1 0h1m1 0h1m1 0h1m2 0h1m3 0h1m2 0h3m2 0h2m2 0h2m1 0h2m2 0h2m3 0h3m5 0h1m2 0h1m4 0h1M292 403h1m14 0h1m1 0h1m1 0h1m1 0h1m1 0h1m2 0h1m1 0h1m1 0h1m1 0h3m3 0h3m1 0h3m1 0h1m23 0h1m9 0h1M282 404h1m3 0h1m4 0h1m3 0h1m1 0h1m2 0h1m2 0h1m2 0h1m1 0h1m1 0h1m2 0h1m8 0h1m4 0h1m4 0h2m2 0h2m1 0h1m3 0h2m2 0h1m2 0h1m5 0h1M290 405h2m4 0h1m1 0h1m4 0h1m1 0h2m3 0h1m3 0h4m2 0h2m6 0h2m4 0h1m3 0h3m1 0h3m3 0h2m6 0h1m2 0h1m1 0h1M299 406h1m1 0h1m3 0h2m1 0h2m2 0h2m2 0h2m3 0h4m1 0h3m1 0h2m2 0h3m1 0h2m2 0h1m8 0h1m6 0h1M294 407h1m1 0h1m1 0h2m3 0h2m3 0h1m7 0h2m1 0h1m2 0h1m5 0h2m1 0h3m1 0h2m3 0h1M285 408h1m5 0h1m4 0h3m3 0h1m3 0h5m5 0h2m2 0h1m3 0h8m1 0h1m1 0h1m1 0h1m2 0h1m1 0h4m1 0h1m3 0h1m1 0h1M288 409h1m5 0h1m8 0h1m1 0h1m6 0h3m2 0h6m1 0h3m1 0h3m1 0h3m1 0h2m4 0h1m2 0h1m7 0h1m5 0h1m4 0h1M283 410h1m2 0h1m3 0h1m1 0h2m2 0h3m3 0h4m1 0h4m1 0h1m1 0h1m3 0h1m1 0h1m2 0h1m1 0h3m1 0h5m1 0h2m2 0h2m8 0h1m1 0h2m8 0h1m11 0h1M286 411h1m2 0h1m11 0h2m1 0h2m1 0h6m1 0h1m1 0h9m3 0h5m2 0h1m1 0h3m1 0h1m2 0h2m7 0h1m11 0h1M283 412h1m4 0h1m3 0h3m4 0h1m2 0h1m2 0h1m4 0h1m1 0h2m1 0h1m1 0h9m1 0h5m2 0h1m2 0h1m2 0h2m3 0h1m11 0h1m13 0h1M287 413h1m1 0h1m1 0h1m1 0h2m2 0h1m6 0h2m3 0h2m2 0h5m1 0h3m3 0h3m1 0h2m6 0h1m7 0h1m5 0h1m1 0h1m17 0h1M284 414h1m5 0h2m1 0h1m3 0h1m1 0h2m1 0h1m3 0h3m1 0h1m3 0h1m3 0h1m3 0h2m3 0h2m2 0h7m1 0h2m2 0h2m1 0h1m3 0h1m2 0h1m4 0h1M288 415h1m2 0h1m1 0h1m1 0h1m1 0h1m2 0h1m5 0h1m1 0h3m1 0h3m1 0h1m1 0h8m1 0h2m1 0h1m3 0h1m1 0h3m1 0h2m5 0h2m2 0h1m1 0h1m1 0h1m10 0h1M289 416h1m1 0h1m1 0h1m3 0h2m2 0h3m1 0h2m2 0h5m1 0h2m1 0h3m2 0h1m6 0h3m12 0h1m3 0h2M288 417h2m5 0h3m1 0h1m1 0h1m2 0h2m1 0h1m2 0h8m2 0h3m1 0h1m1 0h1m1 0h2m5 0h1m1 0h1m3 0h1m3 0h2m2 0h1m1 0h1m9 0h1m7 0h1M289 418h2m1 0h2m6 0h1m1 0h1m1 0h3m2 0h1m1 0h7m1 0h4m3 0h1m1 0h2m1 0h1m2 0h1m1 0h3m1 0h4m2 0h2m4 0h1m2 0h1m4 0h1M283 419h1m1 0h1m1 0h1m5 0h1m1 0h2m1 0h2m2 0h3m2 0h3m2 0h12m1 0h2m2 0h1m1 0h4m2 0h4m2 0h3m1 0h2m7 0h2m2 0h3m4 0h1M288 420h2m1 0h1m2 0h1m3 0h1m1 0h2m1 0h1m1 0h2m2 0h4m1 0h9m2 0h1m1 0h3m1 0h4m1 0h2m1 0h1m2 0h1m4 0h2m18 0h1M284 421h2m4 0h2m1 0h5m2 0h3m2 0h3m2 0h3m1 0h2m1 0h6m1 0h2m1 0h2m2 0h3m1 0h3m1 0h2m1 0h2m1 0h1m2 0h2m1 0h1m1 0h1m1 0h2m4 0h1M283 422h2m3 0h1m1 0h1m1 0h3m1 0h2m1 0h19m1 0h6m1 0h1m2 0h4m3 0h1m2 0h2m2 0h2m1 0h1m2 0h1m1 0h1m1 0h1m9 0h1M283 423h1m1 0h1m1 0h2m6 0h1m1 0h1m1 0h1m1 0h11m1 0h2m2 0h3m1 0h2m1 0h13m4 0h5m1 0h3m1 0h2m9 0h1M285 424h2m3 0h1m3 0h2m1 0h1m2 0h4m1 0h24m3 0h2m2 0h4m5 0h2m1 0h1m3 0h2m10 0h1M282 425h1m3 0h1m2 0h2m6 0h1m1 0h1m2 0h23m1 0h3m2 0h2m3 0h1m1 0h1m3 0h3m2 0h1m3 0h1m6 0h1m12 0h1M286 426h1m4 0h2m4 0h4m1 0h6m1 0h15m1 0h2m1 0h6m2 0h1m1 0h3m1 0h3m2 0h4m2 0h1m1 0h2m16 0h1M284 427h1m1 0h1m2 0h3m1 0h1m3 0h1m1 0h1m1 0h3m1 0h2m1 0h21m1 0h5m1 0h2m1 0h1m1 0h2m1 0h1m2 0h1m2 0h1m5 0h1m2 0h1M286 428h1m1 0h3m1 0h2m1 0h5m1 0h1m1 0h18m2 0h9m1 0h2m1 0h2m2 0h1m2 0h2m3 0h2m11 0h1m8 0h1m3 0h1M289 429h1m1 0h2m2 0h2m1 0h4m1 0h28m1 0h1m1 0h1m1 0h2m6 0h1m2 0h1m10 0h1M286 430h2m1 0h3m1 0h1m2 0h5m1 0h22m1 0h6m1 0h3m1 0h1m2 0h3m8 0h1m9 0h1m5 0h1M285 431h1m1 0h2m6 0h2m2 0h2m1 0h3m1 0h18m1 0h1m1 0h2m1 0h3m3 0h2m1 0h3m2 0h2m1 0h1m1 0h1m3 0h1m33 0h1M289 432h1m4 0h1m1 0h2m1 0h1m1 0h27m1 0h1m1 0h2m2 0h2m1 0h3m2 0h1m6 0h1m8 0h1m16 0h1M283 433h1m1 0h3m3 0h3m1 0h1m1 0h27m1 0h2m1 0h10m1 0h1m8 0h1M284 434h1m4 0h1m2 0h1m3 0h5m1 0h28m1 0h6m1 0h1m1 0h2m1 0h2m2 0h2m9 0h1M292 435h5m1 0h24m1 0h6m1 0h2m3 0h3m4 0h2m2 0h1m2 0h3m6 0h2m10 0h1M284 436h1m1 0h2m2 0h1m4 0h1m1 0h3m1 0h31m2 0h2m1 0h2m1 0h3m3 0h3m1 0h1M292 437h2m1 0h26m2 0h6m1 0h1m1 0h3m2 0h1m3 0h1m2 0h1m1 0h2m2 0h1m2 0h1M287 438h3m1 0h1m1 0h3m1 0h18m1 0h14m1 0h1m2 0h2m1 0h1m1 0h2m2 0h2m8 0h1m3 0h1M283 439h1m11 0h1m1 0h7m1 0h28m2 0h1m8 0h1m23 0h1M283 440h1m6 0h5m1 0h31m1 0h3m2 0h1m1 0h4m7 0h2m9 0h1m4 0h1M288 441h1m1 0h1m1 0h2m4 0h1m1 0h25m1 0h2m1 0h1m1 0h2m2 0h3m1 0h1m1 0h2m4 0h1M284 442h1m1 0h1m5 0h1m1 0h1m2 0h20m1 0h1m1 0h7m1 0h2m1 0h1m2 0h1m3 0h4m9 0h1m7 0h1M285 443h1m3 0h1m2 0h1m1 0h1m1 0h1m1 0h1m2 0h3m1 0h27m1 0h2m6 0h1m1 0h2m7 0h1m6 0h1M286 444h1m3 0h1m1 0h1m2 0h1m2 0h1m1 0h5m1 0h6m1 0h11m1 0h1m1 0h2m1 0h1m6 0h1m2 0h1m1 0h1m8 0h1m8 0h1m10 0h1M286 445h1m5 0h3m3 0h3m1 0h1m1 0h19m1 0h1m1 0h4m1 0h3m4 0h1m3 0h2m13 0h1m3 0h1M285 446h2m1 0h2m3 0h2m1 0h2m4 0h3m1 0h9m1 0h3m1 0h5m1 0h1m1 0h2m2 0h4m6 0h1m12 0h2M287 447h1m2 0h2m1 0h1m2 0h1m2 0h16m1 0h6m1 0h1m1 0h3m2 0h2m2 0h2m1 0h1m2 0h1M288 448h1m4 0h2m1 0h3m1 0h4m1 0h11m1 0h5m1 0h1m3 0h1m6 0h1m3 0h1m4 0h1M285 449h1m3 0h1m4 0h1m1 0h1m1 0h3m1 0h21m2 0h4m1 0h1m2 0h1m5 0h1m3 0h1m3 0h1M287 450h2m5 0h1m5 0h3m2 0h3m1 0h2m2 0h1m1 0h2m1 0h5m3 0h1m3 0h2m3 0h1m1 0h1m10 0h1m16 0h1M283 451h1m1 0h1m1 0h1m1 0h1m2 0h1m3 0h1m3 0h1m1 0h8m1 0h1m1 0h2m1 0h2m1 0h6m4 0h2m2 0h1m3 0h1m1 0h1m9 0h1M297 452h1m8 0h2m1 0h2m1 0h1m1 0h2m4 0h1m6 0h1m2 0h1m2 0h1m6 0h1m30 0h1M298 453h1m3 0h3m6 0h1m1 0h2m2 0h1m1 0h1m1 0h1m7 0h3m8 0h1m10 0h1"/>
<rect x="99.6" y="78.5" width="171.9" height="171.2" fill="none" stroke="#161616" stroke-width="2.0"/>
<path d="M96.4 249.7h3.2M97.8 236.8h1.8M97.8 229.2h1.8M97.8 223.9h1.8M97.8 219.7h1.8M97.8 216.3h1.8M97.8 213.4h1.8M97.8 211h1.8M97.8 208.8h1.8M96.4 206.8h3.2M97.8 193.9h1.8M97.8 186.3h1.8M97.8 181h1.8M97.8 176.8h1.8M97.8 173.4h1.8M97.8 170.5h1.8M97.8 168.1h1.8M97.8 165.9h1.8M96.4 163.9h3.2M97.8 151h1.8M97.8 143.4h1.8M97.8 138.1h1.8M97.8 133.9h1.8M97.8 130.5h1.8M97.8 127.6h1.8M97.8 125.2h1.8M97.8 123h1.8M96.4 121h3.2M97.8 108.1h1.8M97.8 100.5h1.8M97.8 95.2h1.8M97.8 91h1.8M97.8 87.6h1.8M97.8 84.7h1.8M97.8 82.3h1.8M97.8 80.1h1.8M96.4 78.1h3.2M99.6 249.7v3.2M112.5 249.7v1.8M120.1 249.7v1.8M125.4 249.7v1.8M129.6 249.7v1.8M133 249.7v1.8M135.9 249.7v1.8M138.3 249.7v1.8M140.5 249.7v1.8M142.5 249.7v3.2M155.4 249.7v1.8M163 249.7v1.8M168.3 249.7v1.8M172.5 249.7v1.8M175.9 249.7v1.8M178.8 249.7v1.8M181.2 249.7v1.8M183.4 249.7v1.8M185.4 249.7v3.2M198.3 249.7v1.8M205.9 249.7v1.8M211.2 249.7v1.8M215.4 249.7v1.8M218.8 249.7v1.8M221.7 249.7v1.8M224.1 249.7v1.8M226.3 249.7v1.8M228.3 249.7v3.2M241.2 249.7v1.8M248.8 249.7v1.8M254.1 249.7v1.8M258.3 249.7v1.8M261.7 249.7v1.8M264.6 249.7v1.8M267 249.7v1.8M269.2 249.7v1.8M271.2 249.7v3.2" stroke="#222" stroke-width="1.2" fill="none"/>
<rect x="281.9" y="78.5" width="172.5" height="171.2" fill="none" stroke="#161616" stroke-width="2.0"/>
<path d="M278.7 249.7h3.2M280.1 236.8h1.8M280.1 229.2h1.8M280.1 223.9h1.8M280.1 219.7h1.8M280.1 216.3h1.8M280.1 213.4h1.8M280.1 211h1.8M280.1 208.8h1.8M278.7 206.8h3.2M280.1 193.9h1.8M280.1 186.3h1.8M280.1 181h1.8M280.1 176.8h1.8M280.1 173.4h1.8M280.1 170.5h1.8M280.1 168.1h1.8M280.1 165.9h1.8M278.7 163.9h3.2M280.1 151h1.8M280.1 143.4h1.8M280.1 138.1h1.8M280.1 133.9h1.8M280.1 130.5h1.8M280.1 127.6h1.8M280.1 125.2h1.8M280.1 123h1.8M278.7 121h3.2M280.1 108.1h1.8M280.1 100.5h1.8M280.1 95.2h1.8M280.1 91h1.8M280.1 87.6h1.8M280.1 84.7h1.8M280.1 82.3h1.8M280.1 80.1h1.8M278.7 78.1h3.2M281.9 249.7v3.2M294.8 249.7v1.8M302.4 249.7v1.8M307.7 249.7v1.8M311.9 249.7v1.8M315.3 249.7v1.8M318.2 249.7v1.8M320.6 249.7v1.8M322.8 249.7v1.8M324.8 249.7v3.2M337.7 249.7v1.8M345.3 249.7v1.8M350.6 249.7v1.8M354.8 249.7v1.8M358.2 249.7v1.8M361.1 249.7v1.8M363.5 249.7v1.8M365.7 249.7v1.8M367.7 249.7v3.2M380.6 249.7v1.8M388.2 249.7v1.8M393.5 249.7v1.8M397.7 249.7v1.8M401.1 249.7v1.8M404 249.7v1.8M406.4 249.7v1.8M408.6 249.7v1.8M410.6 249.7v3.2M423.5 249.7v1.8M431.1 249.7v1.8M436.4 249.7v1.8M440.6 249.7v1.8M444 249.7v1.8M446.9 249.7v1.8M449.3 249.7v1.8M451.5 249.7v1.8M453.5 249.7v3.2" stroke="#222" stroke-width="1.2" fill="none"/>
<rect x="99.6" y="283.8" width="171.9" height="171" fill="none" stroke="#161616" stroke-width="2.0"/>
<path d="M96.4 454.8h3.2M97.8 441.9h1.8M97.8 434.3h1.8M97.8 429h1.8M97.8 424.8h1.8M97.8 421.4h1.8M97.8 418.5h1.8M97.8 416.1h1.8M97.8 413.9h1.8M96.4 411.9h3.2M97.8 399h1.8M97.8 391.4h1.8M97.8 386.1h1.8M97.8 381.9h1.8M97.8 378.5h1.8M97.8 375.6h1.8M97.8 373.2h1.8M97.8 371h1.8M96.4 369h3.2M97.8 356.1h1.8M97.8 348.5h1.8M97.8 343.2h1.8M97.8 339h1.8M97.8 335.6h1.8M97.8 332.7h1.8M97.8 330.3h1.8M97.8 328.1h1.8M96.4 326.1h3.2M97.8 313.2h1.8M97.8 305.6h1.8M97.8 300.3h1.8M97.8 296.1h1.8M97.8 292.7h1.8M97.8 289.8h1.8M97.8 287.4h1.8M97.8 285.2h1.8M99.6 454.8v3.2M112.5 454.8v1.8M120.1 454.8v1.8M125.4 454.8v1.8M129.6 454.8v1.8M133 454.8v1.8M135.9 454.8v1.8M138.3 454.8v1.8M140.5 454.8v1.8M142.5 454.8v3.2M155.4 454.8v1.8M163 454.8v1.8M168.3 454.8v1.8M172.5 454.8v1.8M175.9 454.8v1.8M178.8 454.8v1.8M181.2 454.8v1.8M183.4 454.8v1.8M185.4 454.8v3.2M198.3 454.8v1.8M205.9 454.8v1.8M211.2 454.8v1.8M215.4 454.8v1.8M218.8 454.8v1.8M221.7 454.8v1.8M224.1 454.8v1.8M226.3 454.8v1.8M228.3 454.8v3.2M241.2 454.8v1.8M248.8 454.8v1.8M254.1 454.8v1.8M258.3 454.8v1.8M261.7 454.8v1.8M264.6 454.8v1.8M267 454.8v1.8M269.2 454.8v1.8M271.2 454.8v3.2" stroke="#222" stroke-width="1.2" fill="none"/>
<rect x="281.9" y="283.8" width="172.3" height="171" fill="none" stroke="#161616" stroke-width="2.0"/>
<path d="M278.7 454.8h3.2M280.1 441.9h1.8M280.1 434.3h1.8M280.1 429h1.8M280.1 424.8h1.8M280.1 421.4h1.8M280.1 418.5h1.8M280.1 416.1h1.8M280.1 413.9h1.8M278.7 411.9h3.2M280.1 399h1.8M280.1 391.4h1.8M280.1 386.1h1.8M280.1 381.9h1.8M280.1 378.5h1.8M280.1 375.6h1.8M280.1 373.2h1.8M280.1 371h1.8M278.7 369h3.2M280.1 356.1h1.8M280.1 348.5h1.8M280.1 343.2h1.8M280.1 339h1.8M280.1 335.6h1.8M280.1 332.7h1.8M280.1 330.3h1.8M280.1 328.1h1.8M278.7 326.1h3.2M280.1 313.2h1.8M280.1 305.6h1.8M280.1 300.3h1.8M280.1 296.1h1.8M280.1 292.7h1.8M280.1 289.8h1.8M280.1 287.4h1.8M280.1 285.2h1.8M281.9 454.8v3.2M294.8 454.8v1.8M302.4 454.8v1.8M307.7 454.8v1.8M311.9 454.8v1.8M315.3 454.8v1.8M318.2 454.8v1.8M320.6 454.8v1.8M322.8 454.8v1.8M324.8 454.8v3.2M337.7 454.8v1.8M345.3 454.8v1.8M350.6 454.8v1.8M354.8 454.8v1.8M358.2 454.8v1.8M361.1 454.8v1.8M363.5 454.8v1.8M365.7 454.8v1.8M367.7 454.8v3.2M380.6 454.8v1.8M388.2 454.8v1.8M393.5 454.8v1.8M397.7 454.8v1.8M401.1 454.8v1.8M404 454.8v1.8M406.4 454.8v1.8M408.6 454.8v1.8M410.6 454.8v3.2M423.5 454.8v1.8M431.1 454.8v1.8M436.4 454.8v1.8M440.6 454.8v1.8M444 454.8v1.8M446.9 454.8v1.8M449.3 454.8v1.8M451.5 454.8v1.8M453.5 454.8v3.2" stroke="#222" stroke-width="1.2" fill="none"/>
<rect x="99.6" y="141.4" width="47.6" height="39.7" fill="none" stroke="#484848" stroke-width="1.8"/>
<polyline points="207,190.2 166.6,190.2 166.6,249.7" fill="none" stroke="#484848" stroke-width="1.8"/>
<polyline points="210.6,205.5 210.6,249.7" fill="none" stroke="#484848" stroke-width="1.8"/>
<rect x="282" y="141" width="48.4" height="40" fill="none" stroke="#484848" stroke-width="1.8"/>
<polyline points="391,189.6 348.7,189.6 348.7,249.7" fill="none" stroke="#484848" stroke-width="1.8"/>
<polyline points="392.4,205 392.4,249.7" fill="none" stroke="#484848" stroke-width="1.8"/>
<rect x="99.6" y="322.2" width="65.4" height="69.9" fill="none" stroke="#484848" stroke-width="1.8"/>
<rect x="166.9" y="322.2" width="82.1" height="42.2" fill="none" stroke="#484848" stroke-width="1.8"/>
<rect x="282" y="322" width="64.8" height="70" fill="none" stroke="#484848" stroke-width="1.8"/>
<rect x="349.6" y="322" width="81.8" height="42.6" fill="none" stroke="#484848" stroke-width="1.8"/>
<text class="rb" x="183.3" y="74.5" font-size="18.9" textLength="31.5" lengthAdjust="spacingAndGlyphs" style="stroke-width:0.4px;">WT</text>
<text class="rb" x="357.7" y="74.4" font-size="18.9" textLength="32.9" lengthAdjust="spacingAndGlyphs" style="stroke-width:0.4px;">KO</text>
<text class="sn" x="103.3" y="112" font-size="21.3" textLength="57.3" lengthAdjust="spacingAndGlyphs">10.2%</text>
<text class="sn" x="209.9" y="204.2" font-size="21.3" textLength="56.8" lengthAdjust="spacingAndGlyphs">21.6%</text>
<text class="sn" x="285" y="112.2" font-size="21.3" textLength="57.4" lengthAdjust="spacingAndGlyphs">7.37%</text>
<text class="sn" x="392.4" y="203.5" font-size="21.3" textLength="57.3" lengthAdjust="spacingAndGlyphs">21.2%</text>
<text class="sn" x="102" y="302.3" font-size="21.3" textLength="57.7" lengthAdjust="spacingAndGlyphs">7.28%</text>
<text class="sn" x="209.9" y="302.3" font-size="21.3" textLength="56.8" lengthAdjust="spacingAndGlyphs">33.4%</text>
<text class="sn" x="283.8" y="302" font-size="21.3" textLength="58.2" lengthAdjust="spacingAndGlyphs">6.70%</text>
<text class="sn" x="393.2" y="302" font-size="21.3" textLength="56.5" lengthAdjust="spacingAndGlyphs">15.3%</text>
<rect x="76.4" y="73.7" width="3.6" height="88.3" fill="#000"/>
<polygon points="78.2,62.7 71.9,74.7 84.5,74.7"/>
<rect x="76.4" y="278.4" width="3.6" height="88.9" fill="#000"/>
<polygon points="78.2,267.4 71.9,279.4 84.5,279.4"/>
<rect x="166.6" y="264.7" width="297.9" height="3.8" fill="#000"/>
<polygon points="477,266.6 463.5,260.1 463.5,273.1"/>
<rect x="174.5" y="470.3" width="298" height="3.8" fill="#000"/>
<polygon points="485,472.2 471.5,465.7 471.5,478.7"/>
<g transform="translate(91.4,250.3) rotate(-90) scale(1,1.08)"><text class="rb" x="-0.9" y="0" font-size="19.5" textLength="39.5" lengthAdjust="spacingAndGlyphs" style="stroke-width:0.3px">CD8</text></g>
<g transform="translate(91.4,442.5) rotate(-90) scale(1,1.08)"><text class="rb" x="-0.9" y="0" font-size="19.5" textLength="60.1" lengthAdjust="spacingAndGlyphs" style="stroke-width:0.3px">CD11b</text></g>
<text class="rb" x="108" y="275.8" font-size="19.2" textLength="38.6" lengthAdjust="spacingAndGlyphs" style="stroke-width:0.25px;">CD4</text>
<text class="rb" x="102.1" y="481.4" font-size="19.2" textLength="46.1" lengthAdjust="spacingAndGlyphs" style="stroke-width:0.25px;">GR-1</text>
<path class="d" transform="translate(.35,.85)" stroke="#1a1a1a" d="M131 1167h1M94 1168h1m37 0h1M40 1169h1M86 1171h1m26 0h1m3 0h1M87 1172h1M122 1173h1M92 1174h1m19 0h1m6 0h1m7 0h1M95 1175h1m16 0h1m11 0h1M98 1176h1m14 0h2m7 0h1M116 1177h3m10 0h1M76 1178h1m25 0h1m7 0h1m44 0h1M91 1179h2m7 0h2m2 0h1m6 0h1m3 0h1m1 0h1m1 0h1m6 0h1M102 1180h2m3 0h2m1 0h3m5 0h3M82 1181h1m17 0h1m2 0h2m1 0h1m8 0h1m1 0h1m6 0h1M89 1182h1m6 0h1m7 0h2m1 0h1m4 0h1m1 0h1m2 0h1m1 0h4m2 0h1m3 0h1m9 0h1M77 1183h1m3 0h1m6 0h1m1 0h1m4 0h1m5 0h1m1 0h2m5 0h1m2 0h3m2 0h2m1 0h1m1 0h2m4 0h1M71 1184h1m16 0h1m8 0h1m2 0h5m1 0h1m1 0h4m5 0h1m3 0h3m3 0h1M89 1185h1m2 0h2m3 0h7m4 0h2m2 0h1m3 0h1m2 0h5m5 0h1M82 1186h1m7 0h1m1 0h1m3 0h5m5 0h2m1 0h2m1 0h8m1 0h1m4 0h1m3 0h1m2 0h1M84 1187h1m4 0h1m3 0h1m6 0h2m1 0h1m1 0h2m1 0h1m1 0h2m1 0h2m1 0h2m2 0h1m4 0h2m1 0h2m5 0h1m2 0h1M89 1188h1m2 0h8m1 0h3m1 0h2m1 0h1m1 0h7m1 0h3m3 0h2m10 0h1m1 0h1M85 1189h1m1 0h1m5 0h1m2 0h1m1 0h2m4 0h9m1 0h4m1 0h5m1 0h3M78 1190h1m2 0h1m6 0h1m1 0h1m2 0h2m1 0h15m1 0h1m1 0h3m1 0h2m1 0h2m1 0h1m3 0h1m1 0h1M86 1191h4m2 0h1m1 0h1m1 0h1m1 0h1m1 0h9m1 0h9m1 0h1m1 0h1m1 0h1m2 0h1m1 0h1M71 1192h1m14 0h2m1 0h1m1 0h2m1 0h3m1 0h22m4 0h1m1 0h1m1 0h1m3 0h1M71 1193h2m1 0h1m4 0h1m3 0h1m2 0h1m1 0h1m2 0h2m2 0h5m1 0h10m1 0h3m1 0h1m2 0h4m3 0h1m2 0h1m11 0h1M56 1194h2m22 0h2m1 0h1m3 0h2m1 0h2m1 0h19m1 0h1m1 0h7m5 0h1m1 0h2m2 0h1m6 0h1M86 1195h1m2 0h24m1 0h5m1 0h1m3 0h2m1 0h1m8 0h1M76 1196h1m3 0h2m1 0h5m1 0h4m1 0h15m1 0h2m1 0h4m2 0h5m2 0h1m8 0h1M62 1197h1m12 0h1m4 0h2m1 0h2m1 0h2m1 0h3m1 0h24m1 0h6m4 0h1M60 1198h1m13 0h2m7 0h1m4 0h6m1 0h18m1 0h2m1 0h2m2 0h3m1 0h1m2 0h1m8 0h1M72 1199h1m7 0h2m2 0h2m1 0h7m1 0h15m1 0h6m3 0h2m1 0h1m1 0h4m4 0h1M42 1200h1m29 0h1m1 0h1m2 0h1m2 0h1m2 0h1m3 0h30m4 0h2m2 0h1M72 1201h1m2 0h1m2 0h5m2 0h1m1 0h33m1 0h1m5 0h2M65 1202h1m4 0h1m1 0h1m4 0h1m1 0h1m1 0h4m1 0h5m1 0h1m1 0h21m1 0h4m1 0h1M65 1203h1m6 0h1m3 0h1m1 0h3m1 0h3m1 0h1m1 0h18m1 0h1m1 0h5m1 0h5m1 0h1m5 0h2M73 1204h1m2 0h2m1 0h8m1 0h23m1 0h1m1 0h5m1 0h2m7 0h1M69 1205h1m4 0h3m1 0h1m3 0h8m1 0h24m1 0h2m2 0h3m13 0h1M72 1206h1m2 0h2m1 0h1m1 0h1m1 0h5m1 0h12m1 0h7m1 0h1m1 0h1m1 0h1m2 0h3m6 0h1m4 0h1m4 0h1M67 1207h1m1 0h1m1 0h1m1 0h1m1 0h7m2 0h29m1 0h1m2 0h3m1 0h1m1 0h1M66 1208h1m4 0h1m3 0h1m1 0h2m1 0h21m1 0h11m1 0h2m1 0h2m1 0h2m3 0h1m4 0h1M64 1209h1m14 0h3m5 0h1m1 0h23m3 0h2m4 0h1m28 0h1M40 1210h1m27 0h1m6 0h1m1 0h4m3 0h1m1 0h2m2 0h8m1 0h1m1 0h10m1 0h1m1 0h2m3 0h1m6 0h1m1 0h1m1 0h1m9 0h1m8 0h1M50 1211h1m15 0h1m5 0h4m2 0h1m1 0h4m1 0h5m1 0h5m1 0h10m1 0h3m1 0h2m1 0h1m4 0h1m1 0h1m2 0h1M56 1212h1m13 0h1m7 0h28m1 0h1m2 0h4m3 0h1m4 0h2m2 0h1m1 0h1M69 1213h1m1 0h2m2 0h1m4 0h12m2 0h3m1 0h6m3 0h2m1 0h1m1 0h2m6 0h1m10 0h1M43 1214h1m14 0h1m10 0h2m1 0h1m1 0h1m1 0h1m1 0h5m1 0h1m2 0h4m1 0h3m1 0h1m1 0h11m1 0h3m2 0h1m1 0h1m5 0h1m30 0h1M67 1215h1m7 0h1m3 0h1m2 0h1m1 0h4m1 0h2m2 0h4m1 0h5m1 0h7m6 0h1m3 0h1m1 0h1m3 0h1M61 1216h1m11 0h1m2 0h1m3 0h6m5 0h4m1 0h1m1 0h9m2 0h4m1 0h1m1 0h1M60 1217h1m3 0h1m8 0h2m1 0h1m2 0h2m1 0h4m1 0h2m2 0h7m1 0h4m2 0h3m1 0h5m11 0h1M64 1218h1m2 0h1m7 0h1m1 0h1m1 0h1m2 0h1m1 0h1m2 0h1m1 0h3m1 0h1m1 0h8m3 0h1m1 0h2m1 0h1m1 0h1m1 0h1m1 0h1m3 0h1m2 0h1M64 1219h1m12 0h4m1 0h1m2 0h2m1 0h7m2 0h1m1 0h1m1 0h2m1 0h2m1 0h1m8 0h2m21 0h1M67 1220h1m9 0h2m4 0h2m1 0h1m1 0h3m2 0h1m3 0h3m1 0h1m2 0h6m2 0h1m1 0h1m1 0h1M50 1221h1m11 0h1m3 0h1m2 0h3m1 0h1m1 0h1m3 0h2m1 0h4m2 0h1m1 0h2m2 0h1m2 0h2m1 0h1m1 0h2m1 0h1m2 0h1m4 0h2m1 0h1m6 0h1m1 0h1m3 0h1m4 0h1M62 1222h1m13 0h3m2 0h3m1 0h1m1 0h2m2 0h1m1 0h1m1 0h1m2 0h2m1 0h2m2 0h1m6 0h4M77 1223h1m4 0h1m1 0h6m2 0h1m8 0h4m1 0h1m1 0h1m1 0h5m1 0h1m2 0h1m2 0h1M64 1224h1m13 0h1m1 0h3m2 0h2m2 0h1m4 0h2m1 0h3m2 0h1m1 0h1m2 0h1m4 0h1m4 0h2m9 0h1M72 1225h1m2 0h1m4 0h1m1 0h2m2 0h5m2 0h3m1 0h3m2 0h2m2 0h2m1 0h1m2 0h1m3 0h1m1 0h2m20 0h1M68 1226h1m4 0h1m1 0h1m12 0h4m4 0h1m1 0h3m2 0h3m2 0h2m1 0h1m3 0h1m3 0h1m7 0h1M59 1227h1m2 0h1m9 0h1m15 0h3m1 0h4m1 0h10m3 0h2m2 0h2m3 0h2m7 0h1m21 0h1M67 1228h1m6 0h1m10 0h2m4 0h3m2 0h2m1 0h2m1 0h1m1 0h2m1 0h2m2 0h1m1 0h1m4 0h1m1 0h1m1 0h1M33 1229h1m26 0h1m22 0h2m1 0h1m2 0h1m2 0h2m3 0h3m2 0h2m1 0h3m3 0h3m1 0h1m1 0h2M51 1230h1m11 0h1m13 0h1m3 0h1m2 0h2m1 0h1m4 0h1m1 0h2m1 0h1m1 0h1m1 0h3m1 0h1m1 0h6m2 0h1m1 0h1m3 0h2m1 0h1M50 1231h1m11 0h1m8 0h1m5 0h1m3 0h1m9 0h2m1 0h4m1 0h5m2 0h3m1 0h2m3 0h1m3 0h1m2 0h1m4 0h1M48 1232h1m34 0h1m5 0h1m2 0h1m2 0h5m1 0h1m3 0h2m3 0h1m2 0h1m2 0h1m7 0h1m3 0h1M42 1233h1m15 0h1m12 0h1m2 0h1m2 0h2m11 0h1m1 0h5m1 0h1m2 0h7m4 0h3m1 0h1m13 0h1M61 1234h1m9 0h1m9 0h2m1 0h1m1 0h1m1 0h1m2 0h4m1 0h6m1 0h3m3 0h1m3 0h2m5 0h1M53 1235h1m10 0h1m8 0h1m2 0h1m9 0h1m3 0h1m1 0h1m1 0h2m1 0h1m1 0h4m1 0h4m2 0h3m2 0h1m2 0h4m4 0h1m1 0h1M78 1236h1m2 0h1m5 0h1m4 0h1m3 0h3m1 0h4m2 0h1m2 0h5m4 0h1m6 0h1M77 1237h1m7 0h1m6 0h1m3 0h2m2 0h1m3 0h4m2 0h1m1 0h1m1 0h1m4 0h1M61 1238h1m14 0h1m3 0h1m2 0h1m2 0h1m3 0h2m2 0h7m1 0h2m1 0h1m1 0h2m1 0h1m3 0h1m1 0h2m7 0h1m4 0h1m2 0h1M47 1239h1m34 0h2m5 0h1m7 0h1m3 0h2m1 0h4m1 0h1m1 0h1m1 0h4m14 0h1m9 0h1M67 1240h1m21 0h1m2 0h1m1 0h1m1 0h3m2 0h5m1 0h2m2 0h3m1 0h1m4 0h1m4 0h1M52 1241h1m15 0h1m7 0h1m7 0h3m5 0h3m2 0h3m3 0h1m1 0h9m3 0h1m3 0h1m6 0h1M79 1242h1m10 0h1m1 0h5m1 0h5m1 0h3m1 0h5m1 0h2m1 0h1m25 0h1M55 1243h1m10 0h1m21 0h1m2 0h4m1 0h2m4 0h4m2 0h4m2 0h1m5 0h1m1 0h1M71 1244h1m2 0h1m8 0h1m5 0h2m1 0h4m1 0h1m1 0h10m1 0h1m1 0h5m5 0h1m18 0h1M78 1245h1m9 0h2m1 0h3m2 0h1m1 0h4m1 0h9m2 0h2m2 0h4M84 1246h1m1 0h2m4 0h2m1 0h1m3 0h1m1 0h5m1 0h1m2 0h1m2 0h3m2 0h3m1 0h3M61 1247h1m24 0h1m4 0h1m1 0h3m1 0h9m2 0h3m3 0h1m1 0h1M39 1248h1m43 0h1m3 0h1m2 0h2m2 0h1m1 0h3m1 0h1m1 0h7m1 0h1m1 0h5m4 0h1M76 1249h1m7 0h1m8 0h2m2 0h3m1 0h4m1 0h8m2 0h2m2 0h2m5 0h1M63 1250h1m13 0h1m5 0h1m1 0h1m1 0h1m1 0h3m2 0h6m2 0h8m1 0h1m3 0h1m1 0h3M80 1251h1m3 0h1m2 0h2m3 0h5m1 0h4m1 0h3m1 0h2m3 0h5m1 0h2m1 0h2M50 1252h1m12 0h1m12 0h1m10 0h1m1 0h3m1 0h1m1 0h2m2 0h9m1 0h1m1 0h4m1 0h1m1 0h1m1 0h2m3 0h1M73 1253h1m2 0h1m2 0h1m2 0h1m1 0h3m3 0h2m1 0h3m3 0h9m1 0h1m1 0h7m2 0h1m2 0h3M84 1254h1m1 0h1m2 0h1m1 0h3m1 0h1m1 0h1m1 0h1m1 0h8m1 0h1m1 0h2m1 0h1m1 0h3m1 0h1m9 0h1m3 0h1M61 1255h1m20 0h2m2 0h2m3 0h11m2 0h8m1 0h2m1 0h2m2 0h2M59 1256h1m22 0h1m2 0h1m4 0h1m2 0h1m1 0h4m1 0h10m1 0h4m1 0h1m1 0h1m1 0h1m1 0h2M73 1257h1m13 0h1m3 0h1m1 0h1m2 0h2m1 0h10m2 0h1m1 0h1m1 0h1m1 0h1m2 0h1m4 0h1M89 1258h2m1 0h1m1 0h1m1 0h1m1 0h2m1 0h1m1 0h7m2 0h2m1 0h2m2 0h1M77 1259h1m6 0h1m2 0h1m5 0h1m2 0h3m1 0h3m1 0h3m2 0h3m5 0h1m6 0h1M79 1260h1m4 0h1m3 0h1m1 0h1m1 0h2m1 0h1m4 0h3m4 0h4m1 0h2m3 0h1m5 0h1M56 1261h1m30 0h2m8 0h2m1 0h2m2 0h4m1 0h1m5 0h2m7 0h1M60 1262h1m15 0h1m13 0h1m3 0h3m4 0h3m3 0h3m1 0h5m12 0h1M53 1263h1m9 0h1m21 0h1m2 0h1m4 0h1m1 0h1m1 0h2m2 0h1m1 0h2m4 0h4m3 0h2m1 0h1m6 0h1M97 1264h2m3 0h2m3 0h1m1 0h1m1 0h1m9 0h1M93 1265h1m3 0h1m1 0h1m4 0h4m1 0h1m4 0h1m4 0h2m3 0h1M62 1266h1m24 0h1m7 0h2m5 0h1m1 0h1m1 0h1m2 0h2m2 0h1m2 0h1m3 0h1m3 0h1m5 0h1M91 1267h4m2 0h1m2 0h1m2 0h1m6 0h1m1 0h1M91 1268h1m15 0h1m4 0h1M93 1269h1m4 0h1m1 0h1m3 0h1M89 1270h1m6 0h1m10 0h1M86 1272h1m9 0h1m2 0h1m9 0h1M96 1273h1"/>
<path class="d" transform="translate(.35,.85)" stroke="#1a1a1a" d="M259 1161h1M224 1163h1M266 1165h1M255 1167h1M256 1169h1M261 1171h1m3 0h1m10 0h1M238 1172h1M242 1174h1m11 0h1m24 0h1m8 0h1M259 1175h1m31 0h1M256 1176h1m9 0h1m1 0h1m8 0h1m12 0h1M217 1177h1m31 0h1m6 0h1m6 0h1m3 0h1m10 0h1m6 0h1M206 1178h1m17 0h1m8 0h1m21 0h1m4 0h1m5 0h1m6 0h2M253 1179h1m2 0h1m4 0h1m5 0h1m8 0h1M251 1180h1m5 0h1m4 0h1m2 0h1M243 1181h1m11 0h1m3 0h1m3 0h1m1 0h1m1 0h2m1 0h1m3 0h1m1 0h1m1 0h1M224 1182h1m4 0h1m14 0h1m4 0h1m2 0h1m2 0h2m2 0h1m2 0h1m11 0h1m2 0h1M238 1183h1m7 0h1m2 0h1m1 0h2m4 0h2m1 0h1m2 0h1m5 0h1m1 0h4m1 0h1m24 0h1M226 1184h1m21 0h1m4 0h1m2 0h3m1 0h1m3 0h1m2 0h1m2 0h1m1 0h1m2 0h2m3 0h1m13 0h1M212 1185h1m14 0h1m19 0h1m2 0h1m4 0h1m1 0h1m2 0h1m3 0h4m1 0h1m3 0h3m1 0h1m3 0h1M213 1186h1m15 0h1m4 0h1m3 0h1m1 0h1m1 0h1m8 0h2m1 0h1m1 0h2m4 0h1m1 0h3m2 0h2m2 0h1m5 0h2M232 1187h1m7 0h1m2 0h2m1 0h2m1 0h2m2 0h9m1 0h1m1 0h3m3 0h2m8 0h1m5 0h1M242 1188h1m4 0h1m2 0h1m3 0h3m1 0h2m1 0h3m1 0h1m1 0h3m1 0h2m1 0h1m5 0h1m4 0h1m3 0h1M237 1189h1m2 0h2m3 0h2m1 0h1m3 0h2m1 0h2m2 0h8m2 0h6m1 0h1m6 0h1M213 1190h1m27 0h2m3 0h2m1 0h13m1 0h7m1 0h1m1 0h1m2 0h1m7 0h1M227 1191h1m5 0h1m5 0h2m3 0h1m1 0h2m2 0h1m1 0h6m1 0h5m1 0h5m1 0h3m1 0h1m1 0h3m1 0h1M244 1192h2m1 0h3m1 0h1m1 0h18m1 0h1m4 0h2m1 0h1m3 0h1m2 0h1M234 1193h2m1 0h1m5 0h1m1 0h1m1 0h8m1 0h12m1 0h6m10 0h1m3 0h1M233 1194h1m10 0h3m2 0h3m1 0h3m1 0h14m3 0h1m1 0h2m2 0h1m2 0h1m1 0h1M218 1195h1m19 0h2m1 0h2m2 0h1m2 0h8m1 0h15m1 0h3m4 0h2m11 0h1m6 0h1m1 0h1M232 1196h1m1 0h1m1 0h1m1 0h2m2 0h1m1 0h4m1 0h24m1 0h4m9 0h1M212 1197h1m11 0h1m15 0h1m1 0h1m1 0h25m2 0h6m1 0h3m4 0h2M227 1198h1m4 0h1m1 0h1m1 0h1m1 0h2m2 0h2m1 0h5m2 0h6m1 0h9m2 0h4m1 0h4m1 0h3M235 1199h2m2 0h1m3 0h4m1 0h29m5 0h2M231 1200h1m2 0h1m1 0h1m1 0h1m1 0h4m1 0h2m1 0h3m1 0h2m1 0h13m2 0h3m1 0h7m5 0h1M233 1201h2m2 0h1m4 0h4m1 0h27m2 0h2m2 0h1m5 0h1m2 0h1M236 1202h1m1 0h1m1 0h2m1 0h2m2 0h22m2 0h5m1 0h1M201 1203h1m21 0h1m8 0h1m1 0h4m2 0h4m1 0h1m1 0h7m1 0h7m1 0h4m2 0h4m1 0h1m4 0h2m2 0h1m3 0h2M236 1204h3m1 0h4m1 0h1m1 0h5m1 0h2m1 0h1m1 0h14m1 0h1m1 0h2m2 0h1m6 0h1M216 1205h1m2 0h1m1 0h1m12 0h3m1 0h34m1 0h1m1 0h1m4 0h1m5 0h1M216 1206h1m10 0h1m1 0h2m1 0h1m4 0h5m1 0h2m1 0h33m2 0h1m12 0h1M225 1207h1m6 0h1m2 0h1m3 0h1m1 0h1m1 0h9m1 0h6m1 0h10m2 0h4m2 0h1m17 0h1M218 1208h1m9 0h1m3 0h1m1 0h1m1 0h1m4 0h2m1 0h8m1 0h7m1 0h8m1 0h3m1 0h1m5 0h2M215 1209h1m9 0h1m2 0h1m2 0h3m1 0h1m2 0h2m2 0h4m1 0h23m2 0h1m3 0h1m16 0h1M224 1210h1m3 0h1m6 0h1m1 0h8m1 0h4m1 0h4m1 0h13m1 0h1m2 0h4m2 0h2m3 0h1m8 0h1M211 1211h1m3 0h1m14 0h2m1 0h1m2 0h2m1 0h1m1 0h2m1 0h2m1 0h18m1 0h2m2 0h1m1 0h6m2 0h1M229 1212h1m8 0h1m1 0h2m1 0h1m1 0h4m1 0h1m1 0h3m1 0h7m1 0h2m1 0h4m3 0h1m1 0h1M192 1213h1m33 0h1m3 0h3m2 0h1m2 0h27m1 0h5m3 0h2m1 0h1m3 0h2M216 1214h1m11 0h1m4 0h3m1 0h1m1 0h2m1 0h4m1 0h4m1 0h7m2 0h10m1 0h1m1 0h1m5 0h1M216 1215h1m4 0h1m9 0h1m3 0h1m1 0h4m3 0h24m3 0h1m1 0h2M215 1216h1m14 0h1m7 0h1m1 0h1m5 0h6m1 0h9m1 0h3m1 0h2m1 0h1m1 0h1m1 0h1m4 0h1m7 0h1M229 1217h1m2 0h1m1 0h2m3 0h1m2 0h5m1 0h11m1 0h6m2 0h1m2 0h2m1 0h1m3 0h1M227 1218h1m4 0h1m3 0h6m1 0h1m1 0h3m1 0h9m1 0h1m1 0h2m1 0h2m2 0h5m11 0h1m12 0h1M226 1219h1m5 0h1m2 0h2m1 0h5m2 0h4m1 0h1m1 0h2m1 0h7m2 0h2m2 0h3m1 0h1m2 0h1m2 0h1m1 0h1m2 0h1M218 1220h1m3 0h1m11 0h1m4 0h2m7 0h8m1 0h11m1 0h2m4 0h1m1 0h1m3 0h2M234 1221h1m2 0h2m1 0h2m4 0h2m3 0h3m2 0h3m1 0h3m1 0h1m1 0h3m3 0h2m7 0h1m11 0h1M226 1222h1m14 0h2m1 0h3m1 0h3m2 0h1m1 0h5m3 0h1m1 0h1m1 0h1m3 0h4m3 0h1m1 0h1m7 0h1M231 1223h3m1 0h1m10 0h7m1 0h4m1 0h2m2 0h1m1 0h3m2 0h1m4 0h1M232 1224h1m1 0h1m6 0h1m1 0h2m1 0h3m2 0h2m1 0h3m1 0h1m1 0h1m3 0h1m2 0h1m10 0h1M221 1225h1m5 0h1m5 0h2m1 0h1m4 0h1m1 0h1m3 0h1m1 0h4m2 0h2m2 0h2m1 0h1m1 0h5m13 0h1m7 0h2M227 1226h1m7 0h3m4 0h1m1 0h3m1 0h1m1 0h4m2 0h7m1 0h4m1 0h1m4 0h1M216 1227h1m2 0h1m10 0h2m6 0h2m3 0h2m1 0h3m1 0h1m2 0h1m1 0h5m1 0h4m3 0h2m1 0h1m1 0h1m9 0h1M202 1228h1m21 0h1m4 0h1m8 0h1m3 0h1m1 0h3m2 0h10m1 0h2m3 0h5m1 0h1m12 0h1M206 1229h1m22 0h1m1 0h1m3 0h4m1 0h1m1 0h1m1 0h1m1 0h2m1 0h1m1 0h5m2 0h11m3 0h1m3 0h1m1 0h1m28 0h1M227 1230h1m12 0h1m6 0h2m1 0h2m1 0h9m1 0h2m2 0h1m3 0h2m1 0h1m4 0h2M237 1231h2m7 0h2m2 0h1m1 0h8m1 0h2m1 0h1m2 0h2m20 0h1M217 1232h1m8 0h2m7 0h1m2 0h1m2 0h1m3 0h2m1 0h3m2 0h1m1 0h7m1 0h1m2 0h4m1 0h1m1 0h2M202 1233h1m32 0h2m5 0h1m2 0h1m3 0h2m1 0h1m1 0h1m1 0h7m1 0h2m1 0h1m1 0h1m1 0h2m1 0h1M195 1234h1m38 0h2m1 0h1m4 0h1m1 0h1m2 0h1m1 0h1m1 0h7m1 0h3m1 0h1m2 0h2m2 0h2m8 0h1M221 1235h1m12 0h1m9 0h3m2 0h2m4 0h5m2 0h3m6 0h1m3 0h2m3 0h1M226 1236h1m12 0h1m2 0h3m1 0h3m2 0h2m1 0h1m4 0h5m1 0h3m4 0h1M231 1237h1m1 0h2m5 0h1m1 0h1m1 0h1m2 0h4m1 0h7m1 0h2m1 0h2m1 0h1m4 0h1m2 0h1m1 0h1M203 1238h1m35 0h1m1 0h1m3 0h1m3 0h18m1 0h1m1 0h1m14 0h1M234 1239h1m2 0h1m3 0h2m1 0h2m1 0h8m1 0h6m1 0h1m1 0h3m1 0h1m1 0h1m4 0h2M224 1240h2m9 0h1m7 0h1m1 0h1m1 0h1m1 0h1m1 0h1m1 0h10m1 0h5m5 0h1m1 0h1m5 0h1M238 1241h1m5 0h1m1 0h1m1 0h6m1 0h3m2 0h5m1 0h4m1 0h1m6 0h1m1 0h1m3 0h1m3 0h1M240 1242h2m4 0h2m1 0h3m2 0h5m1 0h6m2 0h4m2 0h1m1 0h1m3 0h1M241 1243h2m2 0h4m4 0h5m1 0h1m2 0h7m1 0h1m2 0h1m4 0h1m2 0h1M237 1244h1m7 0h3m1 0h2m1 0h1m1 0h1m1 0h7m1 0h2m2 0h2m1 0h2m1 0h1m1 0h1m6 0h1M224 1245h1m16 0h1m2 0h1m1 0h6m2 0h1m1 0h3m1 0h4m2 0h1m1 0h1m9 0h1M218 1246h1m18 0h1m3 0h1m1 0h5m2 0h4m1 0h1m1 0h6m1 0h4m1 0h2m1 0h4m1 0h1m8 0h1M237 1247h1m3 0h1m1 0h2m1 0h1m1 0h1m1 0h1m1 0h10m1 0h3m1 0h4m1 0h1M212 1248h1m24 0h1m1 0h1m1 0h1m5 0h1m1 0h2m1 0h3m1 0h6m3 0h1m1 0h3m1 0h2m3 0h1m3 0h1M240 1249h1m1 0h1m3 0h3m2 0h3m1 0h5m1 0h7m1 0h2m1 0h3m1 0h2m6 0h2M232 1250h1m6 0h1m2 0h2m3 0h9m1 0h14m2 0h1m1 0h2M239 1251h1m4 0h1m1 0h4m1 0h21m2 0h1m3 0h1M218 1252h1m1 0h1m5 0h1m13 0h1m2 0h1m2 0h9m1 0h5m1 0h8m1 0h1m1 0h2M200 1253h1m37 0h1m2 0h1m4 0h1m1 0h2m1 0h1m1 0h1m1 0h7m1 0h7m1 0h1m1 0h1m1 0h1m2 0h1M231 1254h1m4 0h1m4 0h1m1 0h1m2 0h22m2 0h3m1 0h1m15 0h1M237 1255h1m3 0h3m5 0h5m1 0h1m1 0h12m3 0h1m2 0h1m5 0h1m21 0h1M233 1256h1m3 0h1m2 0h1m3 0h1m1 0h1m1 0h1m1 0h1m1 0h10m1 0h3m1 0h1m1 0h1m1 0h1M226 1257h1m15 0h3m2 0h1m1 0h3m1 0h4m1 0h1m1 0h6m2 0h1m2 0h1m9 0h1M238 1258h1m6 0h2m3 0h8m1 0h1m1 0h1m2 0h4m2 0h1m1 0h2m3 0h1m13 0h1M232 1259h1m7 0h1m7 0h1m1 0h1m1 0h2m3 0h3m1 0h5m1 0h2m5 0h1m5 0h2M235 1260h1m3 0h2m5 0h3m2 0h1m1 0h4m1 0h1m2 0h3m2 0h2M240 1261h1m4 0h2m1 0h1m2 0h4m2 0h1m4 0h1m1 0h2m2 0h1m1 0h1m2 0h1m4 0h1m17 0h1M244 1262h1m3 0h2m4 0h4m2 0h4m1 0h1m3 0h1m2 0h1m2 0h1M253 1263h4m1 0h2m5 0h2m1 0h2m6 0h1M247 1264h1m6 0h2m3 0h4m9 0h1m1 0h1M237 1265h1m7 0h2m1 0h1m7 0h1m4 0h1m3 0h2m2 0h1M202 1266h1m5 0h1m39 0h1m12 0h1m4 0h1M247 1267h1m4 0h1m1 0h1m10 0h1m1 0h1m7 0h1M256 1268h1m2 0h2m1 0h1m1 0h1m6 0h1M246 1269h1m13 0h1M231 1270h1m6 0h1m13 0h1m8 0h1m1 0h1M250 1271h1m7 0h1M257 1272h1m16 0h1M255 1274h1m11 0h1"/>
<path class="d" transform="translate(.35,.85)" stroke="#1a1a1a" d="M124 1289h1M141 1291h1M132 1299h1m7 0h1M120 1305h1M138 1308h1M133 1309h1m3 0h1M138 1312h1M132 1313h1m9 0h1M125 1315h1m8 0h1m5 0h1m3 0h1M129 1316h1M126 1317h2m6 0h2m3 0h1M127 1318h1m1 0h1m2 0h1m6 0h1M123 1319h1m8 0h1m2 0h1M124 1320h1m2 0h1M137 1321h3m4 0h1M122 1322h1m2 0h1m5 0h1m5 0h1M118 1323h2m1 0h1m8 0h1m3 0h1m2 0h1m1 0h1m1 0h1m11 0h1M124 1324h1m5 0h1m1 0h2m2 0h2m3 0h1M119 1325h1m1 0h3m8 0h2m3 0h1m1 0h2m6 0h1M120 1326h2m9 0h3m2 0h3M124 1327h2m1 0h2m3 0h2m3 0h1m2 0h2M123 1328h1m2 0h1m6 0h1m1 0h1m2 0h1M123 1329h1m3 0h4m1 0h1m1 0h2m1 0h2m4 0h1m3 0h1M112 1330h2m3 0h2m1 0h1m3 0h1m3 0h1m1 0h2m4 0h4m1 0h3m15 0h1M111 1331h1m12 0h1m4 0h5m1 0h1m1 0h1m1 0h1m5 0h1m9 0h1M120 1332h1m1 0h1m1 0h1m3 0h1m1 0h1m1 0h2m1 0h1m7 0h1m7 0h1M117 1333h1m7 0h1m1 0h1m1 0h4m1 0h1m3 0h1m1 0h1m2 0h1m5 0h3M101 1334h1m18 0h1m5 0h1m1 0h2m1 0h2m1 0h1m1 0h3m2 0h1m2 0h2m5 0h1M110 1335h1m2 0h1m7 0h1m1 0h1m1 0h1m3 0h5m2 0h1m1 0h1m5 0h1M112 1336h1m10 0h1m3 0h3m1 0h6m2 0h1m6 0h1m2 0h1M105 1337h1m14 0h1m1 0h1m2 0h2m1 0h7m1 0h3m1 0h3m1 0h1M110 1338h1m10 0h1m4 0h3m1 0h1m1 0h2m3 0h4m2 0h4m4 0h1m3 0h1M112 1339h1m1 0h1m5 0h1m3 0h1m1 0h2m1 0h1m1 0h1m1 0h3m3 0h5m2 0h2m2 0h1m2 0h1M116 1340h1m1 0h1m1 0h1m2 0h4m2 0h2m1 0h3m2 0h1m1 0h1m5 0h1m2 0h2M113 1341h1m2 0h1m3 0h3m1 0h2m1 0h6m1 0h4m3 0h1m1 0h1m4 0h1M117 1342h2m1 0h4m2 0h6m1 0h3m1 0h3m2 0h5m2 0h1m3 0h1M113 1343h1m6 0h3m1 0h3m2 0h5m1 0h3m1 0h1m1 0h3m2 0h1m7 0h1M118 1344h1m5 0h4m1 0h1m1 0h1m1 0h3m6 0h1m2 0h1M121 1345h1m2 0h2m1 0h1m1 0h2m3 0h2m2 0h2m1 0h1m1 0h1m1 0h1M115 1346h2m1 0h2m1 0h1m1 0h1m1 0h6m1 0h4m1 0h1m1 0h2m1 0h1m1 0h3m3 0h2M115 1347h1m6 0h1m3 0h3m1 0h1m1 0h5m2 0h4m3 0h2m5 0h1M112 1348h1m10 0h2m2 0h3m3 0h1m1 0h2m1 0h3m1 0h2m1 0h1m3 0h1m1 0h1M120 1349h5m3 0h1m1 0h6m3 0h2m2 0h2m4 0h2M109 1350h1m1 0h1m5 0h1m2 0h1m1 0h6m1 0h2m2 0h6m1 0h5m6 0h1M112 1351h1m9 0h2m2 0h1m1 0h1m1 0h1m1 0h1m1 0h4m1 0h1m1 0h2m1 0h3m2 0h1M112 1352h1m11 0h1m1 0h6m1 0h1m1 0h3m1 0h3m3 0h1M115 1353h1m8 0h1m1 0h1m1 0h5m1 0h1m2 0h3m5 0h2M122 1354h1m1 0h12m2 0h2m4 0h1m1 0h2m6 0h1M105 1355h1m7 0h1m1 0h2m5 0h3m2 0h3m1 0h3m1 0h4m2 0h2m2 0h3m1 0h1M107 1356h1m4 0h1m3 0h1m2 0h2m2 0h1m1 0h5m1 0h1m1 0h1m2 0h2m1 0h1m1 0h3m2 0h1m4 0h1M123 1357h1m3 0h2m1 0h6m1 0h1m1 0h2m1 0h3m2 0h1m1 0h1m2 0h3M114 1358h1m1 0h1m1 0h1m3 0h2m2 0h1m1 0h2m1 0h1m3 0h1m1 0h1m1 0h3m2 0h2M116 1359h1m1 0h3m2 0h1m3 0h1m2 0h1m1 0h3m1 0h3m3 0h1m3 0h1m1 0h1m4 0h1M116 1360h2m4 0h1m1 0h1m1 0h2m1 0h1m2 0h2m1 0h1m3 0h3m1 0h1m2 0h2M112 1361h1m11 0h1m2 0h1m1 0h4m1 0h4m2 0h1m1 0h2M114 1362h1m3 0h1m2 0h1m1 0h1m2 0h2m3 0h2m2 0h1m2 0h1m5 0h1m2 0h1m2 0h1M112 1363h1m1 0h1m9 0h2m2 0h2m1 0h3m1 0h1m1 0h2m3 0h1m3 0h1m4 0h1M116 1364h1m10 0h1m1 0h1m1 0h3m1 0h1m1 0h1m1 0h1M123 1365h2m4 0h1m2 0h2m4 0h2m1 0h1m7 0h2M122 1366h1m2 0h1m3 0h2m1 0h2m3 0h2m7 0h2M108 1367h1m21 0h3m1 0h3m2 0h1M113 1368h1m6 0h1m3 0h6m2 0h1m5 0h1m5 0h1m4 0h1M127 1369h1m5 0h1m1 0h1m2 0h1m10 0h1m9 0h1M119 1370h1m2 0h2m2 0h2m6 0h1m1 0h2m6 0h1M109 1371h1m7 0h1m5 0h1m5 0h1m3 0h1m2 0h1m6 0h1m3 0h1M119 1372h1m8 0h2m2 0h4m1 0h1m7 0h1M123 1373h1m1 0h2m3 0h1m2 0h1m2 0h2m2 0h2m2 0h2m2 0h1M124 1374h1m1 0h2m7 0h1m7 0h1m2 0h1M117 1375h2m9 0h1m2 0h2m3 0h1m3 0h1M120 1376h2m2 0h4m3 0h1m1 0h2m2 0h1m8 0h1M117 1377h1m5 0h1m1 0h1m2 0h1m10 0h1m10 0h1M124 1378h1m5 0h1m4 0h1m6 0h1M115 1379h1m9 0h1m7 0h1m3 0h1m2 0h1m4 0h1M125 1380h1m1 0h1m1 0h2m1 0h1m5 0h1m1 0h3m5 0h1M114 1381h1m8 0h2m1 0h2m7 0h1m1 0h1m3 0h1M102 1382h1m1 0h1m12 0h1m9 0h2m1 0h1m1 0h2m4 0h1m1 0h1m1 0h1M124 1383h1m2 0h1m1 0h1m1 0h1m2 0h1m1 0h1m3 0h1m1 0h1M110 1384h1m6 0h1m7 0h1m1 0h4m7 0h1m3 0h1m9 0h1M123 1385h1m1 0h1m2 0h1m1 0h3m1 0h4m1 0h1m3 0h1M124 1386h1m1 0h2m2 0h2m2 0h1m3 0h2m1 0h2m1 0h1m2 0h1M123 1387h1m2 0h5m1 0h5m1 0h2m1 0h3m2 0h1m12 0h1M117 1388h1m1 0h1m2 0h1m1 0h2m2 0h3m1 0h6m3 0h1m1 0h1m1 0h1m2 0h1m2 0h1M121 1389h1m1 0h5m1 0h5m1 0h2m1 0h5m2 0h1m14 0h1M111 1390h1m4 0h1m2 0h3m1 0h4m2 0h12m5 0h1m5 0h1M121 1391h2m1 0h11m1 0h8m3 0h1m2 0h1M115 1392h1m1 0h1m1 0h3m1 0h14m1 0h5m1 0h3m1 0h1M114 1393h2m1 0h2m2 0h19m4 0h4m5 0h1M115 1394h1m3 0h1m2 0h8m1 0h8m1 0h1m1 0h4m2 0h1M118 1395h1m2 0h15m1 0h3m1 0h2m1 0h2m3 0h1M107 1396h1m7 0h2m1 0h2m3 0h20m4 0h2m4 0h1M107 1397h1m2 0h1m1 0h2m4 0h29m4 0h1m1 0h1M108 1398h2m4 0h2m1 0h1m1 0h19m1 0h1m1 0h5m2 0h2m1 0h1m7 0h1M109 1399h1m2 0h1m5 0h28M105 1400h1m8 0h1m1 0h2m1 0h2m1 0h26m1 0h1M116 1401h1m1 0h29m3 0h1M113 1402h2m1 0h4m1 0h20m1 0h4m1 0h1m2 0h1m6 0h1M111 1403h4m1 0h1m1 0h29m5 0h2M106 1404h1m9 0h3m1 0h24m1 0h1m1 0h2M111 1405h1m1 0h1m1 0h26m1 0h3m2 0h1m3 0h2M111 1406h1m1 0h30m1 0h4M110 1407h1m3 0h29m4 0h1M107 1408h1m7 0h3m1 0h23m1 0h2m1 0h1m1 0h1m3 0h1M115 1409h1m1 0h1m1 0h24m1 0h1m2 0h1m1 0h1m1 0h1M117 1410h7m1 0h14m1 0h2m1 0h2M113 1411h1m1 0h28m1 0h1m6 0h1M111 1412h4m1 0h25m1 0h2m1 0h1m2 0h1m5 0h1M110 1413h1m4 0h29m2 0h1m4 0h1M117 1414h24m1 0h1m1 0h2M110 1415h1m4 0h1m2 0h14m1 0h10M112 1416h1m1 0h1m1 0h3m1 0h16m1 0h2m2 0h3M116 1417h19m1 0h2m2 0h2M115 1418h23m1 0h2m1 0h1m1 0h2m2 0h1M111 1419h2m3 0h4m1 0h13m1 0h4m4 0h1m6 0h1M105 1420h1m7 0h1m3 0h2m1 0h5m1 0h4m1 0h1m1 0h8m2 0h1M115 1421h1m1 0h9m1 0h1m1 0h2m1 0h6m5 0h1M113 1422h1m1 0h1m5 0h2m1 0h2m1 0h2m2 0h3m1 0h1m4 0h1m1 0h1M115 1423h2m1 0h4m1 0h2m1 0h1m1 0h4m2 0h1m1 0h2M113 1424h1m2 0h2m6 0h1m2 0h2m1 0h3m1 0h1m2 0h1m4 0h1m5 0h1m5 0h1M120 1425h3m1 0h1m1 0h2m1 0h4m1 0h1m1 0h1m2 0h1m6 0h2M116 1426h2m1 0h2m4 0h1m4 0h2m3 0h1"/>
<path class="d" transform="translate(.35,.85)" stroke="#1a1a1a" d="M293 1305h1M278 1306h1M276 1307h1M281 1308h1M283 1311h1M292 1313h2M277 1315h1M268 1316h1m10 0h1M292 1317h1M272 1318h1m13 0h1m1 0h1M287 1319h1M290 1320h1m3 0h1M275 1321h1m9 0h1m3 0h1m4 0h1M283 1322h1m3 0h1m2 0h1M277 1323h1m18 0h1m1 0h1M275 1324h1m3 0h1m2 0h1m7 0h1m2 0h1m1 0h2M277 1325h2m3 0h2m5 0h2m4 0h3M268 1326h1m5 0h1m1 0h1m1 0h1m7 0h1m1 0h1m4 0h1m1 0h1M281 1327h1m6 0h5m7 0h1M277 1328h2m6 0h1m7 0h2M270 1329h1m1 0h2m2 0h1m2 0h1m1 0h1m2 0h1m4 0h1m2 0h1M257 1330h1m3 0h1m13 0h1m2 0h1m9 0h2m3 0h1M267 1331h1m10 0h2m2 0h1m4 0h1m4 0h1m4 0h1m1 0h1M275 1332h2m1 0h1m2 0h2m2 0h1m1 0h1m1 0h2m10 0h1M260 1333h1m2 0h1m11 0h1m5 0h1m1 0h2m3 0h3M280 1334h5m1 0h1m5 0h1m4 0h1M272 1335h2m3 0h2m2 0h1m2 0h1m4 0h2m1 0h2M273 1336h3m2 0h1m1 0h1m3 0h5m1 0h1m3 0h3M275 1337h1m1 0h1m1 0h1m1 0h1m1 0h1m1 0h3m3 0h1m3 0h1m2 0h1M269 1338h1m3 0h1m6 0h1m2 0h1m1 0h5m2 0h1m5 0h1m3 0h1m1 0h1M271 1339h1m6 0h5m5 0h3m1 0h1m1 0h1M264 1340h1m6 0h1m4 0h2m3 0h1m3 0h1m1 0h2m1 0h3m3 0h1m3 0h1m11 0h1M269 1341h1m2 0h3m2 0h2m1 0h1m2 0h3m4 0h2m1 0h2m2 0h2m2 0h1M269 1342h1m2 0h3m3 0h1m2 0h3m1 0h1m2 0h1m1 0h5m1 0h1m4 0h1m5 0h1M271 1343h1m4 0h2m1 0h1m1 0h2m1 0h1m2 0h1m2 0h1m2 0h1m1 0h2m2 0h1m1 0h1m5 0h1M272 1344h2m2 0h1m3 0h2m2 0h7m4 0h3m7 0h1M257 1345h1m10 0h1m2 0h1m2 0h1m1 0h8m1 0h3m1 0h1m1 0h1m3 0h1m1 0h1m2 0h1m4 0h1M263 1346h1m5 0h1m1 0h1m2 0h1m1 0h2m2 0h10m1 0h1m3 0h2m12 0h1M264 1347h1m1 0h1m8 0h6m1 0h1m2 0h4m2 0h2m2 0h1m1 0h1m1 0h1m1 0h1M270 1348h1m2 0h2m4 0h3m1 0h5m1 0h2m1 0h4M258 1349h1m9 0h1m2 0h1m2 0h1m1 0h1m2 0h6m1 0h1m5 0h2m1 0h2m9 0h1M269 1350h4m3 0h6m4 0h1m2 0h2m1 0h1m2 0h2m4 0h1m2 0h1m2 0h1M264 1351h1m1 0h1m4 0h1m4 0h1m2 0h1m1 0h1m1 0h2m2 0h1m1 0h6m2 0h3M267 1352h1m1 0h2m2 0h1m1 0h1m1 0h2m1 0h2m1 0h3m1 0h1m1 0h2m2 0h2m4 0h1M262 1353h1m10 0h3m1 0h2m3 0h7m3 0h3m1 0h2M269 1354h3m1 0h2m1 0h4m2 0h1m1 0h6m2 0h1m3 0h1m1 0h1M263 1355h1m5 0h1m2 0h1m2 0h1m2 0h2m1 0h9m3 0h2m7 0h1M267 1356h1m1 0h2m2 0h1m5 0h2m2 0h1m1 0h1m2 0h1m2 0h5m5 0h1M271 1357h4m1 0h6m1 0h1m2 0h10M269 1358h2m4 0h1m1 0h1m2 0h1m1 0h3m1 0h1m1 0h2m1 0h1m5 0h1m2 0h2M258 1359h1m3 0h1m3 0h1m8 0h1m1 0h3m3 0h1m1 0h1m3 0h1m2 0h4m1 0h2m2 0h1M265 1360h2m2 0h3m1 0h1m3 0h2m6 0h4m3 0h1m2 0h1m1 0h1M268 1361h1m1 0h1m5 0h2m1 0h2m2 0h4m3 0h1m2 0h1m2 0h1m4 0h1M263 1362h1m5 0h1m2 0h1m2 0h1m2 0h1m1 0h1m1 0h1m1 0h2m1 0h1m1 0h1m1 0h1m3 0h1m10 0h1M269 1363h1m2 0h2m1 0h1m1 0h5m3 0h2m1 0h1m4 0h1m4 0h1m1 0h1m9 0h1M272 1364h2m2 0h3m2 0h5m3 0h5m2 0h1m4 0h2M269 1365h1m1 0h1m1 0h1m3 0h3m1 0h3m2 0h3m1 0h2m3 0h1m5 0h1M271 1366h1m4 0h1m2 0h4m3 0h1m1 0h2m1 0h2m2 0h1m1 0h1M259 1367h1m10 0h1m1 0h1m2 0h3m5 0h2m2 0h3m1 0h2m5 0h2M276 1368h1m2 0h4m6 0h1m1 0h1m6 0h1m7 0h1M274 1369h1m9 0h1m2 0h1M267 1370h1m2 0h1m4 0h1m1 0h2m4 0h1m2 0h1m1 0h1m1 0h2m2 0h3m4 0h1M264 1371h2m7 0h1m7 0h1m2 0h1m4 0h2m11 0h1M276 1372h1m1 0h3m3 0h3m1 0h1m4 0h1m1 0h1m1 0h1m3 0h2M265 1373h1m12 0h1m1 0h1m3 0h4m1 0h2m4 0h1m5 0h1M275 1374h1m1 0h1m1 0h2m1 0h1m2 0h1m2 0h1m7 0h2m6 0h1M268 1375h1m2 0h1m8 0h2m7 0h1m2 0h1m1 0h1m29 0h1M266 1376h1m6 0h1m4 0h2m2 0h1m17 0h2M278 1377h3m1 0h1m1 0h1m2 0h1m5 0h1m2 0h1M267 1378h1m12 0h1m4 0h1m4 0h1m1 0h1m2 0h3M282 1379h1m7 0h1m6 0h1m5 0h2M274 1380h3m4 0h1m3 0h3m1 0h1m6 0h1M269 1381h1m5 0h2m3 0h1m4 0h2m3 0h1m1 0h1M272 1382h1m13 0h2m2 0h1M277 1383h1m1 0h2m3 0h1m2 0h2m4 0h2m2 0h1M268 1384h1m4 0h1m3 0h1m1 0h1m1 0h2m1 0h1m3 0h2m3 0h1m3 0h1m6 0h1M268 1385h1m2 0h1m2 0h2m2 0h3m6 0h2M266 1386h1m5 0h2m2 0h1m4 0h3m3 0h3m1 0h2m7 0h1M274 1387h1m1 0h7m1 0h1m1 0h3m1 0h1m1 0h1m4 0h1M267 1388h1m3 0h2m1 0h3m2 0h6m1 0h2m1 0h1m2 0h1m1 0h3M272 1389h1m2 0h2m1 0h2m2 0h5m2 0h2m2 0h1m2 0h1m7 0h1M269 1390h2m4 0h3m1 0h1m2 0h1m1 0h9m1 0h1m8 0h1m3 0h1M272 1391h1m1 0h1m1 0h2m3 0h3m1 0h5m1 0h1m3 0h1m1 0h1m1 0h1M265 1392h1m5 0h2m1 0h15m1 0h4m2 0h2m2 0h1m3 0h1M265 1393h1m3 0h2m5 0h6m1 0h8m1 0h3m2 0h2M269 1394h5m1 0h14m1 0h2m1 0h2m2 0h1m2 0h2M268 1395h1m1 0h2m1 0h25m6 0h1m4 0h1M265 1396h3m1 0h7m1 0h19m6 0h1M264 1397h1m1 0h2m2 0h1m1 0h27m4 0h1M262 1398h1m1 0h1m3 0h1m1 0h2m1 0h18m1 0h2m1 0h5m1 0h1M269 1399h1m2 0h22m1 0h2m1 0h2M258 1400h2m4 0h1m1 0h4m1 0h22m1 0h1m1 0h3m1 0h1m3 0h1M270 1401h1m1 0h2m2 0h19m1 0h3m2 0h2M270 1402h20m1 0h7m1 0h1m2 0h1m3 0h1M266 1403h4m1 0h2m1 0h21m1 0h1m2 0h1m1 0h2M267 1404h2m1 0h20m1 0h6m2 0h1m3 0h1M257 1405h1m5 0h1m1 0h1m1 0h1m2 0h27m2 0h1m1 0h1M265 1406h1m1 0h31m1 0h1m1 0h1m2 0h1m3 0h1M262 1407h1m4 0h1m4 0h28m1 0h1M264 1408h1m1 0h34m2 0h1M262 1409h1m2 0h29m2 0h1m1 0h2m1 0h1m1 0h1m6 0h1M256 1410h2m8 0h5m1 0h26M261 1411h1m1 0h1m1 0h2m2 0h30m4 0h1m3 0h1M261 1412h1m4 0h29m1 0h1m2 0h2m2 0h1M262 1413h1m2 0h1m1 0h1m1 0h27m1 0h1m7 0h2M260 1414h1m2 0h1m1 0h1m2 0h34m5 0h1M263 1415h1m4 0h22m1 0h5m1 0h2m3 0h3m1 0h1m1 0h1M249 1416h1m17 0h24m1 0h3m2 0h2M263 1417h2m1 0h1m2 0h27m1 0h1m1 0h2M266 1418h16m1 0h10m1 0h1m1 0h1m1 0h1m2 0h2M266 1419h3m1 0h1m1 0h3m1 0h14m1 0h3m2 0h2M267 1420h4m1 0h18m1 0h1m1 0h1m1 0h2M267 1421h2m1 0h1m1 0h11m2 0h4m1 0h1m1 0h2m5 0h1m7 0h1M255 1422h1m8 0h1m5 0h5m1 0h12m1 0h2m2 0h1m8 0h1m1 0h1M266 1423h1m1 0h1m1 0h2m1 0h4m1 0h4m1 0h5m2 0h1m3 0h1M267 1424h1m2 0h8m1 0h2m1 0h7m2 0h1m1 0h1m2 0h1m6 0h1M262 1425h1m7 0h1m1 0h1m1 0h2m1 0h2m3 0h1m2 0h1m1 0h3M262 1426h1m6 0h1m7 0h2m1 0h1m1 0h5m2 0h2"/>
<path class="d" transform="translate(.35,.85)" stroke="#1a1a1a" d="M440 1160h1m1 0h1m5 0h1M446 1163h1M446 1164h1m12 0h1M434 1166h1m26 0h1M446 1167h1M447 1169h1m4 0h1m4 0h1M459 1170h1M444 1171h1m8 0h1M436 1172h1m21 0h2m4 0h1M425 1173h1m1 0h1m27 0h1m23 0h1M428 1174h1m26 0h1m1 0h1M424 1175h2m14 0h2m1 0h1m3 0h1m5 0h1m4 0h1m29 0h1M422 1176h1m9 0h1m11 0h1m10 0h1M420 1177h1m6 0h1m8 0h1m1 0h1m9 0h1m1 0h1M427 1178h1m3 0h1m2 0h1m2 0h2m1 0h1m1 0h1m2 0h1m3 0h1m2 0h1m5 0h1m1 0h3m7 0h1m3 0h1M431 1179h1m3 0h3m2 0h2m1 0h1m6 0h1m3 0h2m4 0h1M423 1180h2m8 0h3m5 0h2m1 0h2m1 0h1m1 0h1m2 0h4m8 0h1m2 0h2m4 0h1M428 1181h1m4 0h1m3 0h2m6 0h1m3 0h2m4 0h1m1 0h2m3 0h1m11 0h1m12 0h1M416 1182h1m15 0h1m5 0h1m1 0h4m1 0h1m1 0h1m1 0h1m1 0h2m2 0h1m3 0h1m2 0h1m4 0h1m2 0h1M427 1183h1m1 0h1m3 0h1m4 0h5m4 0h1m1 0h1m2 0h1m3 0h3m1 0h1m1 0h1m6 0h1m1 0h1m2 0h2M419 1184h1m5 0h1m3 0h2m1 0h5m2 0h2m1 0h1m1 0h1m6 0h1m2 0h6m4 0h1m6 0h1m10 0h1M424 1185h1m5 0h1m1 0h1m1 0h1m1 0h1m1 0h1m1 0h4m1 0h2m2 0h3m1 0h1m6 0h2m1 0h1m1 0h1m2 0h1m1 0h1m3 0h1m5 0h1M428 1186h1m1 0h1m1 0h2m1 0h6m2 0h3m1 0h3m4 0h1m1 0h2m1 0h3m1 0h1m3 0h2m6 0h1m5 0h1m1 0h1m3 0h1m6 0h1M431 1187h8m1 0h2m7 0h2m1 0h1m3 0h3m1 0h1m6 0h1m2 0h3m7 0h1m8 0h1M424 1188h1m2 0h1m1 0h1m1 0h2m1 0h2m1 0h1m2 0h3m2 0h1m1 0h2m2 0h5m1 0h2m1 0h1m1 0h2m5 0h1m2 0h1m5 0h1m2 0h1m4 0h1M430 1189h1m2 0h3m1 0h4m1 0h4m3 0h1m1 0h1m1 0h3m1 0h3m1 0h1m1 0h1m4 0h1m1 0h1m1 0h1m3 0h1m1 0h1m6 0h1M426 1190h1m4 0h11m1 0h4m5 0h1m1 0h1m1 0h1m1 0h1m2 0h1m4 0h3m1 0h1m4 0h1m5 0h2M421 1191h1m5 0h1m4 0h6m1 0h2m1 0h10m1 0h3m1 0h1m1 0h4m4 0h3m1 0h3m4 0h1M425 1192h1m2 0h2m2 0h2m3 0h7m1 0h1m2 0h5m2 0h1m2 0h3m1 0h3m2 0h3m1 0h1m7 0h1M428 1193h2m1 0h1m1 0h1m1 0h12m2 0h2m1 0h5m2 0h6m4 0h1m3 0h1m4 0h2m7 0h1m3 0h1M425 1194h2m2 0h2m1 0h3m3 0h2m1 0h2m1 0h2m1 0h3m1 0h5m3 0h2m1 0h1m4 0h1m2 0h2m8 0h1m1 0h1M428 1195h1m1 0h6m3 0h1m1 0h1m1 0h4m1 0h4m2 0h1m1 0h1m1 0h4m3 0h3m2 0h1m3 0h1m3 0h1m1 0h1M426 1196h1m1 0h1m3 0h1m1 0h2m1 0h1m1 0h1m2 0h3m1 0h7m1 0h1m1 0h2m2 0h5m3 0h2m1 0h1m2 0h2m1 0h1m5 0h1M422 1197h1m1 0h1m4 0h1m2 0h5m2 0h2m1 0h4m1 0h4m1 0h10m2 0h3m2 0h1m2 0h1m1 0h2m6 0h3M433 1198h1m1 0h1m1 0h3m1 0h1m1 0h1m1 0h4m2 0h5m2 0h2m1 0h1m2 0h3m1 0h2m1 0h2m2 0h1m1 0h2m1 0h1M429 1199h3m3 0h3m1 0h3m1 0h2m1 0h1m1 0h2m1 0h3m2 0h2m1 0h2m1 0h1m1 0h2m1 0h2m3 0h2m3 0h3M417 1200h1m13 0h2m3 0h5m2 0h3m1 0h4m1 0h2m2 0h3m1 0h4m1 0h6m2 0h1m2 0h1M424 1201h1m3 0h2m1 0h1m1 0h2m2 0h4m1 0h2m2 0h6m2 0h1m1 0h7m1 0h5m8 0h1m3 0h1M425 1202h1m1 0h2m1 0h1m5 0h1m2 0h1m1 0h2m1 0h9m1 0h1m2 0h3m1 0h3m5 0h2m1 0h1m1 0h1m2 0h1M424 1203h1m8 0h2m1 0h1m2 0h1m1 0h2m1 0h1m1 0h8m1 0h2m4 0h6m1 0h2m2 0h2M416 1204h1m12 0h1m2 0h2m2 0h5m1 0h4m1 0h2m1 0h1m1 0h1m1 0h1m1 0h2m2 0h1m1 0h1m3 0h5m1 0h1M430 1205h3m1 0h1m4 0h1m1 0h3m1 0h2m1 0h2m2 0h2m1 0h2m1 0h2m2 0h1m1 0h1m1 0h1m3 0h1m1 0h4M421 1206h1m6 0h1m2 0h3m5 0h1m2 0h1m2 0h3m1 0h8m1 0h2m1 0h3m1 0h4m1 0h1m6 0h1M423 1207h1m6 0h1m5 0h2m1 0h2m1 0h3m1 0h3m3 0h2m1 0h3m1 0h3m5 0h2m11 0h1m9 0h1M424 1208h1m8 0h3m1 0h1m3 0h2m1 0h4m1 0h4m2 0h1m1 0h1m2 0h1m3 0h3m1 0h1m2 0h1m2 0h1M431 1209h1m2 0h1m1 0h3m1 0h3m2 0h2m2 0h1m3 0h2m1 0h4m2 0h1m1 0h3M419 1210h1m4 0h1m3 0h2m1 0h1m2 0h2m1 0h2m1 0h1m1 0h2m1 0h4m2 0h6m1 0h2m2 0h1m2 0h2m7 0h1m3 0h1m1 0h1m1 0h1m15 0h1M430 1211h1m2 0h1m1 0h2m1 0h3m1 0h1m1 0h2m1 0h1m1 0h4m1 0h1m2 0h4m2 0h1m2 0h1m2 0h1m2 0h1m4 0h1M426 1212h1m5 0h1m1 0h2m3 0h3m2 0h2m1 0h2m1 0h1m1 0h1m1 0h7m2 0h1m1 0h1m7 0h2M427 1213h1m1 0h3m1 0h4m2 0h13m2 0h3m1 0h2m1 0h3m3 0h2m2 0h1m1 0h1m3 0h1M414 1214h1m9 0h1m1 0h1m3 0h2m2 0h4m1 0h4m2 0h1m1 0h3m1 0h2m1 0h1m1 0h3m3 0h1m2 0h1m1 0h1m4 0h1m4 0h1m3 0h1M428 1215h1m1 0h2m2 0h3m2 0h1m1 0h3m1 0h2m1 0h4m1 0h4m1 0h1m2 0h1m1 0h6m6 0h1m2 0h1M424 1216h1m5 0h1m1 0h1m1 0h1m1 0h3m2 0h7m1 0h1m4 0h8m1 0h1m1 0h1m1 0h3m4 0h1m11 0h1M420 1217h1m2 0h1m1 0h1m5 0h4m1 0h3m1 0h13m1 0h2m1 0h3m1 0h1m1 0h1m2 0h2m2 0h2m2 0h2M423 1218h2m1 0h2m2 0h1m6 0h3m1 0h12m1 0h4m2 0h3m8 0h2M420 1219h1m1 0h1m7 0h1m2 0h1m1 0h4m1 0h1m1 0h15m2 0h3m1 0h4m1 0h1m3 0h1m2 0h1M416 1220h1m5 0h1m6 0h4m1 0h1m1 0h3m1 0h19m2 0h1m2 0h4m2 0h2m2 0h1m2 0h1m2 0h1M428 1221h4m1 0h2m1 0h18m1 0h2m2 0h2m1 0h1m1 0h2m2 0h1M419 1222h1m6 0h5m1 0h2m1 0h1m1 0h5m2 0h2m2 0h14m3 0h1m1 0h2m2 0h1M418 1223h1m1 0h3m2 0h2m1 0h1m2 0h1m2 0h2m3 0h2m2 0h17m2 0h2m1 0h3m1 0h1m5 0h1M411 1224h1m9 0h1m5 0h1m2 0h12m1 0h2m1 0h7m1 0h4m1 0h1m2 0h1m1 0h1m1 0h1m2 0h1m2 0h1M430 1225h1m1 0h2m2 0h1m2 0h21m1 0h1m1 0h4m2 0h1m7 0h1M422 1226h2m3 0h2m1 0h1m1 0h5m1 0h20m2 0h1m2 0h4m7 0h1M423 1227h1m2 0h1m1 0h10m1 0h2m1 0h17m3 0h1m1 0h1m1 0h2m3 0h3M422 1228h2m4 0h1m3 0h26m1 0h3m2 0h1m3 0h3M421 1229h2m2 0h1m1 0h3m1 0h1m1 0h13m1 0h3m1 0h4m1 0h7m1 0h1m1 0h6m1 0h2m6 0h1M416 1230h1m5 0h1m1 0h2m2 0h1m1 0h1m1 0h1m2 0h3m1 0h12m1 0h12m3 0h1m1 0h1M418 1231h1m7 0h1m4 0h3m2 0h2m1 0h26m2 0h2m1 0h2m1 0h2m13 0h1M422 1232h7m1 0h8m1 0h16m1 0h4m1 0h7m2 0h2m3 0h1m1 0h1m17 0h1M411 1233h1m9 0h2m1 0h1m3 0h8m1 0h21m1 0h2m1 0h4m3 0h2m2 0h1m4 0h1m5 0h1M422 1234h1m6 0h12m1 0h4m1 0h16m3 0h2m1 0h1m5 0h1m5 0h2M425 1235h2m2 0h1m1 0h3m1 0h21m1 0h7m2 0h4m7 0h1M423 1236h5m4 0h13m1 0h16m1 0h1m2 0h1m1 0h3m4 0h1m2 0h1M404 1237h1m9 0h1m6 0h1m4 0h1m4 0h7m1 0h20m1 0h4m1 0h2m3 0h1m5 0h1M415 1238h1m8 0h2m1 0h1m3 0h4m1 0h10m1 0h16m2 0h2m2 0h1m1 0h1m2 0h1M413 1239h1m7 0h1m1 0h1m1 0h2m1 0h1m1 0h1m1 0h30m1 0h6m10 0h1M419 1240h1m3 0h1m1 0h2m2 0h2m1 0h33m1 0h5m1 0h1m3 0h1M421 1241h2m2 0h2m1 0h1m1 0h1m2 0h1m1 0h2m1 0h7m1 0h14m1 0h7m1 0h1m2 0h1M423 1242h2m5 0h3m1 0h19m1 0h1m2 0h7m2 0h1m3 0h1m1 0h1m2 0h1m5 0h1M423 1243h1m1 0h2m2 0h2m1 0h5m1 0h9m1 0h7m1 0h4m1 0h1m1 0h5M413 1244h1m5 0h1m7 0h6m1 0h15m1 0h12m1 0h3m1 0h1M421 1245h1m6 0h1m1 0h3m1 0h8m1 0h16m1 0h5m1 0h2m2 0h1m8 0h1M412 1246h1m12 0h1m1 0h4m1 0h8m2 0h15m1 0h4m2 0h1m1 0h2m1 0h1m1 0h1m3 0h1M421 1247h1m2 0h1m2 0h1m1 0h1m1 0h4m1 0h1m1 0h22m1 0h1m1 0h4m2 0h1m2 0h2m13 0h1M416 1248h1m8 0h1m2 0h1m1 0h1m1 0h1m2 0h1m1 0h21m1 0h2m4 0h3m1 0h1M414 1249h1m12 0h2m1 0h6m1 0h2m1 0h13m1 0h5m1 0h5m3 0h1m1 0h2M425 1250h1m4 0h1m4 0h10m1 0h18m2 0h1m1 0h3m4 0h1m4 0h1m1 0h1M422 1251h1m6 0h2m1 0h11m1 0h15m1 0h2m1 0h3m2 0h1m2 0h1M423 1252h1m5 0h2m2 0h25m1 0h7m3 0h1m7 0h1M410 1253h1m10 0h1m3 0h1m3 0h4m2 0h1m2 0h4m1 0h4m1 0h16m4 0h1m11 0h1M420 1254h1m4 0h1m4 0h3m2 0h9m1 0h9m1 0h7m1 0h5m2 0h1m1 0h1m3 0h1M414 1255h1m8 0h1m1 0h1m3 0h1m1 0h4m1 0h27m1 0h1m1 0h2m2 0h3m1 0h1M419 1256h1m7 0h1m4 0h4m2 0h4m2 0h7m1 0h11m5 0h1m2 0h1m1 0h2M412 1257h1m1 0h1m6 0h1m2 0h1m2 0h1m2 0h5m1 0h4m1 0h11m1 0h10m1 0h1m5 0h1m2 0h1M422 1258h2m2 0h1m2 0h1m7 0h2m1 0h5m1 0h11m3 0h1m2 0h2m1 0h1M414 1259h1m8 0h2m1 0h1m2 0h1m1 0h1m1 0h6m1 0h10m1 0h2m1 0h1m1 0h2m1 0h1m1 0h1m5 0h1m2 0h2m3 0h1M426 1260h5m3 0h1m2 0h6m1 0h5m1 0h14m1 0h2m5 0h1M426 1261h1m4 0h1m5 0h1m1 0h16m1 0h1m1 0h2m1 0h1m1 0h2m1 0h1m1 0h2M431 1262h2m1 0h1m2 0h1m1 0h5m2 0h1m1 0h11m4 0h2m1 0h1m2 0h1M422 1263h1m6 0h2m4 0h3m1 0h3m1 0h16m1 0h2m1 0h1m8 0h1m3 0h2M424 1264h1m1 0h1m1 0h1m1 0h1m3 0h2m1 0h1m3 0h4m2 0h7m1 0h3m1 0h1m3 0h2m1 0h1m3 0h1M423 1265h1m5 0h2m1 0h5m1 0h6m2 0h1m2 0h10m1 0h2m2 0h1m1 0h1M423 1266h1m7 0h1m3 0h3m1 0h1m2 0h3m1 0h1m2 0h1m1 0h2m1 0h1m1 0h2m1 0h3m2 0h2m4 0h1M428 1267h1m3 0h2m1 0h3m1 0h5m1 0h5m1 0h2m1 0h5m3 0h1m5 0h1m3 0h1M418 1268h1m10 0h1m2 0h1m3 0h3m1 0h3m1 0h3m1 0h4m1 0h1m1 0h5m3 0h2m13 0h1M417 1269h1m3 0h2m7 0h2m5 0h1m2 0h1m2 0h1m1 0h3m2 0h2m1 0h3m1 0h2m1 0h1m2 0h1m8 0h1m4 0h1M431 1270h1m1 0h1m1 0h1m2 0h3m2 0h1m1 0h6m1 0h1m1 0h1m1 0h2m6 0h1M433 1271h1m1 0h1m1 0h1m1 0h1m1 0h2m1 0h1m1 0h6m1 0h5m1 0h1m3 0h1m8 0h1m5 0h1M441 1272h2m5 0h2m1 0h2m3 0h4m1 0h2m2 0h1m2 0h2"/>
<path class="d" transform="translate(.35,.85)" stroke="#1a1a1a" d="M605 1158h1M601 1164h1M615 1168h1M576 1169h1m43 0h1M585 1171h1m27 0h1M585 1172h1m25 0h1M615 1173h1M584 1175h1m17 0h1m16 0h1m20 0h1M582 1176h1m42 0h1M592 1177h2m8 0h1m11 0h1m6 0h2M582 1178h1m5 0h1m8 0h1m13 0h2m3 0h1m10 0h1M586 1179h2m26 0h1M584 1180h1m1 0h1m1 0h1m2 0h2m1 0h1m5 0h1m4 0h1m6 0h2m2 0h1m4 0h1M583 1181h2m2 0h1m1 0h1m1 0h1m2 0h1m7 0h1m1 0h1m5 0h1M578 1182h1m6 0h1m1 0h1m1 0h1m3 0h1m2 0h2m1 0h1m3 0h1m1 0h3m2 0h1m2 0h2m3 0h2M580 1183h1m3 0h1m1 0h1m1 0h1m1 0h1m3 0h1m4 0h1m2 0h1m9 0h1m2 0h1m4 0h1M582 1184h3m1 0h1m2 0h1m1 0h2m1 0h1m1 0h1m12 0h1m4 0h2M582 1185h1m1 0h1m1 0h6m2 0h1m3 0h2m3 0h3m5 0h1m1 0h1m9 0h1M573 1186h1m8 0h1m1 0h3m1 0h2m9 0h1m2 0h1m2 0h1m2 0h1m6 0h1m1 0h1m8 0h1m1 0h1M573 1187h1m5 0h1m2 0h6m1 0h1m1 0h1m2 0h1m4 0h1m2 0h3m1 0h1m3 0h2m1 0h1m5 0h1m16 0h1M577 1188h2m5 0h5m1 0h2m1 0h1m1 0h2m1 0h1m1 0h1m1 0h1m1 0h2m2 0h1m3 0h2m7 0h1m4 0h1m2 0h1M578 1189h1m4 0h4m1 0h6m1 0h1m9 0h1m1 0h1m2 0h1m11 0h1m5 0h1M581 1190h1m2 0h1m2 0h2m1 0h2m2 0h1m1 0h2m2 0h1m1 0h1m1 0h2m4 0h1m5 0h1m6 0h1m2 0h1M575 1191h1m8 0h3m1 0h2m1 0h3m1 0h1m1 0h2m3 0h1m1 0h1m1 0h1m1 0h1m1 0h3m1 0h2m8 0h1m2 0h1M579 1192h2m1 0h1m1 0h3m1 0h1m3 0h3m10 0h3m1 0h2m2 0h1m3 0h3m2 0h2m3 0h1m4 0h1M581 1193h1m1 0h2m4 0h6m1 0h2m4 0h1m1 0h1m1 0h2m1 0h2m1 0h1m1 0h1m6 0h1m1 0h1m10 0h1M581 1194h1m3 0h2m1 0h2m1 0h8m4 0h2m1 0h1m1 0h1m5 0h2m4 0h2m14 0h1M580 1195h1m2 0h2m1 0h6m2 0h3m1 0h1m1 0h2m1 0h1m2 0h1m3 0h4m4 0h1m1 0h1m1 0h1m1 0h2m2 0h1m7 0h1M564 1196h1m18 0h2m1 0h4m2 0h3m1 0h3m6 0h3m1 0h1m1 0h1m9 0h1m7 0h1M578 1197h1m2 0h1m2 0h1m5 0h1m2 0h2m2 0h2m1 0h2m1 0h1m4 0h2m3 0h2m6 0h1m3 0h1m1 0h1m1 0h1m10 0h1M573 1198h1m8 0h4m2 0h3m1 0h1m1 0h4m2 0h1m1 0h1m2 0h2m1 0h1m3 0h1m2 0h1m1 0h1m11 0h1m4 0h1M579 1199h1m3 0h1m2 0h1m1 0h2m3 0h6m1 0h1m4 0h4m4 0h1m4 0h1m3 0h2m1 0h1m5 0h1m3 0h1M570 1200h1m5 0h1m4 0h1m1 0h4m1 0h2m2 0h3m2 0h2m2 0h4m1 0h1m1 0h1m1 0h1m1 0h1m1 0h3m2 0h1m3 0h3m12 0h1m1 0h1M580 1201h1m1 0h1m1 0h1m6 0h8m2 0h1m1 0h1m1 0h2m2 0h1m1 0h1m3 0h1m2 0h1m1 0h1m3 0h1m2 0h2m9 0h1M579 1202h2m5 0h1m2 0h1m2 0h4m1 0h1m2 0h4m1 0h2m2 0h2m3 0h2m3 0h1m1 0h1m3 0h1M583 1203h1m1 0h1m6 0h1m1 0h1m2 0h2m2 0h3m6 0h1m3 0h1m1 0h1m1 0h4m7 0h1M572 1204h1m8 0h1m4 0h1m1 0h1m5 0h1m1 0h1m3 0h1m6 0h1m1 0h2m1 0h2m1 0h1m7 0h2m12 0h1M572 1205h1m4 0h1m4 0h1m13 0h4m6 0h1m1 0h3m1 0h1m1 0h1m2 0h1m3 0h1m1 0h2m6 0h1M571 1206h1m2 0h1m5 0h1m2 0h1m1 0h1m2 0h1m4 0h3m1 0h4m2 0h1m2 0h1m1 0h1m1 0h2m2 0h1m1 0h1m1 0h2m1 0h2m1 0h1m2 0h1M572 1207h1m9 0h2m2 0h1m5 0h3m1 0h1m3 0h6m2 0h2m1 0h2m2 0h2m4 0h1m10 0h1M587 1208h2m2 0h2m1 0h1m1 0h1m2 0h2m1 0h1m4 0h1m2 0h1m4 0h1m4 0h2m3 0h1m8 0h1m1 0h1M584 1209h4m2 0h1m2 0h6m1 0h6m2 0h2m2 0h2m21 0h1M584 1210h1m5 0h1m1 0h1m2 0h1m1 0h3m2 0h3m2 0h1m1 0h3m1 0h1m3 0h1M587 1211h1m5 0h1m1 0h2m4 0h1m3 0h1m1 0h2m2 0h2m1 0h3m2 0h3M585 1212h1m2 0h2m2 0h1m1 0h2m2 0h3m1 0h1m1 0h3m1 0h2m19 0h1M561 1213h1m9 0h1m7 0h1m7 0h2m1 0h1m1 0h1m2 0h1m7 0h1m1 0h5m4 0h3m3 0h1m4 0h1m21 0h1M578 1214h1m6 0h1m2 0h1m1 0h1m1 0h1m4 0h6m1 0h1m1 0h2m1 0h1m2 0h2m8 0h1m1 0h1M583 1215h1m7 0h1m2 0h3m2 0h6m1 0h2m2 0h2m15 0h1M579 1216h1m3 0h1m3 0h1m1 0h3m2 0h2m1 0h1m1 0h9m1 0h2m3 0h1m1 0h4m6 0h2M563 1217h1m12 0h1m6 0h4m3 0h1m2 0h5m4 0h3m1 0h1m2 0h3m14 0h1m10 0h1M581 1218h2m3 0h1m4 0h1m1 0h2m1 0h1m1 0h8m1 0h1m1 0h2m1 0h1m1 0h1m1 0h2m4 0h1m4 0h1m6 0h1M572 1219h1m12 0h3m1 0h2m1 0h4m1 0h1m2 0h2m1 0h8m2 0h1m3 0h1m3 0h1M579 1220h1m9 0h4m2 0h4m1 0h1m1 0h3m1 0h5m2 0h1m3 0h1M557 1221h1m23 0h2m1 0h1m3 0h3m2 0h1m1 0h3m1 0h3m1 0h1m1 0h5m2 0h1m1 0h1m2 0h1M584 1222h1m1 0h1m2 0h1m1 0h1m2 0h4m1 0h2m1 0h1m1 0h2m1 0h1m5 0h4m8 0h3m2 0h1M574 1223h1m6 0h2m1 0h2m2 0h2m1 0h5m2 0h1m1 0h2m1 0h6m1 0h1m1 0h1m3 0h1m1 0h1m1 0h1m1 0h1m1 0h1M579 1224h1m2 0h1m1 0h1m2 0h1m1 0h3m4 0h3m1 0h2m2 0h1m1 0h4m1 0h1m3 0h1m9 0h1m2 0h2m6 0h1M577 1225h1m1 0h1m1 0h1m2 0h1m1 0h1m4 0h4m1 0h2m1 0h1m1 0h2m1 0h2m1 0h2m1 0h1m1 0h1m2 0h1m3 0h2m4 0h1M570 1226h1m11 0h2m2 0h1m5 0h3m1 0h2m1 0h3m1 0h4m1 0h1m1 0h1M579 1227h1m3 0h1m1 0h1m1 0h1m1 0h1m2 0h3m1 0h5m2 0h2m1 0h1m2 0h3m2 0h1m6 0h1m11 0h1M582 1228h1m1 0h1m1 0h1m3 0h1m2 0h1m1 0h2m1 0h2m1 0h6m2 0h3m4 0h4m8 0h1M585 1229h1m2 0h5m1 0h4m3 0h1m1 0h3m1 0h3m1 0h2m1 0h1m1 0h1m8 0h1m2 0h1M576 1230h1m2 0h2m1 0h1m2 0h2m1 0h1m1 0h2m1 0h2m1 0h3m1 0h4m2 0h2m2 0h1m1 0h4m9 0h1M564 1231h1m17 0h1m3 0h2m2 0h1m1 0h3m1 0h4m1 0h1m1 0h1m1 0h1m1 0h3m1 0h2m1 0h2m1 0h1m1 0h1m3 0h1M576 1232h1m7 0h1m2 0h1m1 0h22m1 0h3m2 0h3m1 0h2m4 0h1M564 1233h1m13 0h3m1 0h2m1 0h1m2 0h2m1 0h4m2 0h3m1 0h7m2 0h5m2 0h2m10 0h1M572 1234h1m12 0h3m3 0h2m1 0h4m3 0h6m2 0h5m5 0h2M573 1235h1m2 0h1m12 0h1m3 0h11m2 0h1m2 0h1m1 0h2m2 0h3m1 0h1m2 0h1M583 1236h2m2 0h1m1 0h1m1 0h17m1 0h2m1 0h1m3 0h1m1 0h1m1 0h1M580 1237h1m2 0h1m2 0h2m1 0h2m1 0h3m1 0h16m1 0h2m1 0h2m2 0h1m1 0h2M586 1238h1m1 0h1m1 0h5m1 0h4m1 0h11m2 0h1m2 0h1m5 0h1M581 1239h1m1 0h1m3 0h12m1 0h10m12 0h1M571 1240h1m6 0h1m5 0h1m1 0h2m1 0h2m1 0h8m1 0h5m1 0h3m2 0h2m1 0h1m1 0h2m1 0h1m2 0h1M582 1241h1m2 0h2m2 0h20m1 0h3m3 0h2M572 1242h1m4 0h1m1 0h2m1 0h1m1 0h2m2 0h2m2 0h10m1 0h2m1 0h3m1 0h2m1 0h1m1 0h2m7 0h1M575 1243h1m7 0h1m2 0h2m1 0h1m2 0h1m1 0h13m1 0h1m1 0h3m2 0h2M586 1244h1m1 0h1m1 0h21m1 0h4m1 0h1m21 0h1M574 1245h1m3 0h1m3 0h1m6 0h1m3 0h8m2 0h2m1 0h4m2 0h3M573 1246h1m6 0h1m4 0h2m5 0h1m1 0h7m1 0h6m1 0h4m1 0h2m3 0h2m1 0h1M577 1247h1m2 0h3m1 0h2m4 0h2m1 0h1m1 0h6m1 0h4m1 0h5m1 0h2m1 0h1M547 1248h1m34 0h2m3 0h20m2 0h2m3 0h4M583 1249h1m2 0h1m3 0h2m1 0h5m3 0h2m1 0h4m1 0h2m1 0h1M582 1250h1m5 0h5m1 0h3m1 0h5m1 0h2m2 0h1m3 0h4m5 0h1M587 1251h2m1 0h4m1 0h1m1 0h1m1 0h2m1 0h3m1 0h4m3 0h1m1 0h1m1 0h1m2 0h1m2 0h1M582 1252h1m5 0h14m1 0h4m1 0h2m1 0h2m2 0h1m1 0h1m29 0h1M582 1253h1m4 0h1m1 0h1m1 0h1m1 0h7m1 0h7m1 0h4M577 1254h1m7 0h2m2 0h2m1 0h2m1 0h9m1 0h4m2 0h1m3 0h2M592 1255h2m1 0h2m1 0h2m1 0h1m1 0h1m1 0h5m9 0h1M586 1256h1m3 0h4m1 0h2m2 0h4m2 0h1m3 0h5m1 0h2m8 0h1M576 1257h1m3 0h1m3 0h1m3 0h1m3 0h2m1 0h3m1 0h1m1 0h7m3 0h3m3 0h1M582 1258h1m4 0h1m1 0h1m1 0h11m1 0h2m1 0h2m1 0h1m6 0h1M588 1259h3m1 0h4m2 0h4m1 0h1m1 0h1m1 0h3m1 0h2m2 0h1m4 0h1M581 1260h1m12 0h7m2 0h3m1 0h1m1 0h1m1 0h1m2 0h1m3 0h1M583 1261h1m4 0h2m3 0h2m1 0h1m1 0h3m1 0h1m1 0h3m2 0h1m1 0h1m2 0h1m1 0h2M588 1262h1m3 0h1m2 0h6m1 0h2m1 0h1m2 0h1m1 0h1m1 0h2M584 1263h2m2 0h1m1 0h2m1 0h1m2 0h2m1 0h1m2 0h2m1 0h5m14 0h1M581 1264h1m2 0h1m2 0h1m3 0h1m2 0h1m1 0h1m1 0h3m2 0h1m3 0h1m2 0h1m1 0h1m5 0h1M574 1265h1m10 0h1m2 0h1m4 0h2m3 0h1m1 0h2m3 0h4m3 0h2m1 0h1m8 0h1M588 1266h1m3 0h1m1 0h2m1 0h6m1 0h1m2 0h1m1 0h1m2 0h1m2 0h1M587 1267h2m2 0h1m2 0h1m1 0h7m1 0h1m9 0h1M595 1268h1m1 0h1m2 0h1m2 0h2m3 0h2M577 1269h1m7 0h1m2 0h1m2 0h1m6 0h3m3 0h2m4 0h1m1 0h1m1 0h2m1 0h1M580 1270h1m6 0h1m2 0h1m2 0h2m3 0h2m3 0h1m5 0h4m3 0h1M586 1271h1m1 0h1m2 0h1m6 0h1m1 0h1m3 0h1m2 0h1m1 0h1M600 1272h1m1 0h1m2 0h1m1 0h2m1 0h1m2 0h1m1 0h2"/>
<path class="d" transform="translate(.35,.85)" stroke="#1a1a1a" d="M471 1328h2m6 0h1M475 1329h1M477 1331h1M455 1332h1M475 1333h1M465 1334h1M473 1335h2m1 0h2m4 0h1M431 1336h1M460 1337h1M464 1338h1m16 0h1M449 1339h1m15 0h2M434 1340h1m18 0h1m14 0h1m9 0h1m9 0h1M436 1341h1m13 0h1m6 0h1m6 0h2m10 0h1M435 1342h1m18 0h1m3 0h1m2 0h1m3 0h1m5 0h1M450 1343h1m2 0h1m5 0h1m1 0h1m1 0h2m4 0h1m1 0h1m3 0h1m2 0h1M430 1344h1m2 0h1m18 0h1m2 0h1m3 0h1m2 0h2m1 0h2m4 0h1m9 0h1m4 0h1M432 1345h1m10 0h1m17 0h3m3 0h2m9 0h1M448 1346h1m5 0h2m2 0h2m4 0h1m1 0h3m3 0h1m1 0h1m9 0h1M438 1347h1m4 0h1m8 0h1m4 0h1m1 0h2m1 0h2m1 0h1m1 0h1m1 0h1m1 0h1M448 1348h1m2 0h1m4 0h1m1 0h1m2 0h2m1 0h7m2 0h1m6 0h1M430 1349h1m6 0h1m8 0h1m7 0h2m2 0h3m5 0h2m4 0h1M429 1350h1m11 0h1m2 0h1m8 0h1m1 0h1m3 0h1m3 0h2m1 0h1m1 0h1M443 1351h1m6 0h1m1 0h1m1 0h2m3 0h1m1 0h1m1 0h3m1 0h2m1 0h1M429 1352h1m1 0h4m7 0h2m4 0h1m2 0h1m2 0h1m1 0h3m4 0h3m4 0h1m1 0h1m6 0h1M438 1353h3m9 0h1m1 0h1m1 0h1m1 0h1m3 0h4m1 0h2m7 0h2M432 1354h1m7 0h1m1 0h1m1 0h1m3 0h4m1 0h1m3 0h4m1 0h5m5 0h2m3 0h1M434 1355h2m2 0h2m4 0h1m1 0h6m1 0h1m1 0h2m1 0h3m1 0h2m2 0h1m9 0h1M429 1356h1m2 0h2m2 0h1m2 0h1m2 0h1m1 0h2m1 0h1m4 0h1m1 0h1m1 0h2m1 0h1m1 0h2m2 0h1m14 0h1M430 1357h1m1 0h3m1 0h1m5 0h3m3 0h1m1 0h1m2 0h3m1 0h3m1 0h4m2 0h3m1 0h1M429 1358h1m7 0h5m2 0h2m1 0h1m2 0h7m1 0h6m1 0h2m8 0h1M432 1359h1m4 0h3m1 0h1m1 0h4m2 0h5m4 0h2m1 0h2m1 0h4m6 0h1M430 1360h1m3 0h3m1 0h9m1 0h2m1 0h3m1 0h5m1 0h1m2 0h1m4 0h1m2 0h1M429 1361h1m1 0h3m2 0h5m1 0h4m1 0h2m1 0h10m4 0h2m1 0h1m1 0h1M431 1362h2m1 0h11m1 0h5m1 0h6m2 0h2m2 0h2m2 0h1m6 0h1M427 1363h1m2 0h1m1 0h17m1 0h2m2 0h7m1 0h3m1 0h1m20 0h1M429 1364h1m2 0h1m1 0h21m2 0h1m1 0h1m2 0h1m2 0h1M428 1365h1m1 0h15m1 0h10m1 0h3m5 0h1m2 0h1m10 0h1M429 1366h1m3 0h3m2 0h7m1 0h3m1 0h9m1 0h2m2 0h1m1 0h1m1 0h2m4 0h1M428 1367h3m1 0h20m2 0h4m1 0h4m1 0h1m2 0h1M428 1368h1m1 0h20m1 0h6m2 0h2m1 0h2m2 0h1m1 0h1m1 0h1m1 0h1M427 1369h1m1 0h8m1 0h15m2 0h2m1 0h3m1 0h1m1 0h1m1 0h1m1 0h1m3 0h1m4 0h1M429 1370h25m1 0h1m2 0h2m3 0h1m3 0h1m2 0h1m2 0h1m2 0h1M428 1371h30m1 0h1m3 0h2m8 0h1M427 1372h4m1 0h24m1 0h1m2 0h1m3 0h1m9 0h1m5 0h1M429 1373h19m1 0h6m4 0h1m1 0h1m1 0h1m4 0h1m1 0h1m2 0h1m6 0h1M428 1374h1m1 0h3m1 0h22m1 0h1m1 0h2m4 0h1m2 0h1M427 1375h3m1 0h16m1 0h7m1 0h1m1 0h2m5 0h1m9 0h1m1 0h1M428 1376h30m2 0h2m3 0h2m4 0h1M429 1377h2m1 0h24m2 0h2m4 0h1m2 0h1m3 0h1m5 0h2M428 1378h27m1 0h5m2 0h2m1 0h1m3 0h1M428 1379h28m1 0h4m5 0h1M427 1380h1m1 0h22m1 0h4m3 0h1m6 0h1m6 0h1M428 1381h2m1 0h22m1 0h2m2 0h3m2 0h1m1 0h1m1 0h1m2 0h1M428 1382h22m1 0h5m1 0h1m1 0h4m7 0h1M429 1383h4m1 0h12m1 0h7m1 0h1m2 0h1m5 0h1m5 0h3M429 1384h27m1 0h1m3 0h1m18 0h1M427 1385h26m5 0h1m2 0h1m3 0h2M428 1386h2m1 0h5m1 0h16m5 0h2m3 0h2m1 0h1m6 0h1M427 1387h4m1 0h20m2 0h4m1 0h1m2 0h2m1 0h1m4 0h1M430 1388h10m1 0h11m1 0h3m1 0h2m3 0h1m1 0h1m14 0h1M428 1389h3m2 0h19m1 0h4m1 0h1m6 0h1m4 0h1M427 1390h4m1 0h1m2 0h11m1 0h1m1 0h1m1 0h2m1 0h2m2 0h1m3 0h1m4 0h1m5 0h1M429 1391h1m2 0h4m1 0h11m1 0h1m1 0h1m1 0h1m4 0h1m3 0h2m1 0h1m4 0h1M429 1392h1m1 0h1m1 0h1m1 0h9m1 0h4m1 0h3m2 0h1m4 0h1m1 0h1m7 0h1M431 1393h14m2 0h3m1 0h1m2 0h1m3 0h1m2 0h1m3 0h1m6 0h1M429 1394h1m1 0h4m1 0h1m1 0h5m1 0h1m3 0h3m2 0h1m4 0h1m2 0h1m3 0h1m4 0h1M429 1395h1m1 0h2m1 0h1m2 0h4m1 0h1m3 0h2m1 0h2m1 0h1m6 0h2m4 0h1m1 0h1M431 1396h1m6 0h5m2 0h2m3 0h4m17 0h1M428 1397h3m3 0h2m3 0h5m2 0h1m2 0h1m2 0h1m2 0h1m3 0h1M431 1398h1m1 0h3m1 0h1m3 0h4m3 0h2m2 0h2m6 0h1M428 1399h1m1 0h1m2 0h4m1 0h2m2 0h2m1 0h1m9 0h1m5 0h1m20 0h1M431 1400h1m5 0h2m1 0h1m1 0h1m4 0h1m2 0h3m10 0h1m3 0h1M431 1401h2m2 0h1m2 0h1m1 0h1m1 0h1m1 0h1m1 0h1m1 0h1m5 0h1m1 0h2m1 0h1m1 0h1m3 0h1m7 0h1M428 1402h4m4 0h1m1 0h4m3 0h1m2 0h3m2 0h3m2 0h1m1 0h1m16 0h1M431 1403h1m1 0h3m4 0h5m1 0h2m1 0h3m4 0h1m4 0h1m1 0h1M436 1404h4m1 0h1m2 0h1m3 0h1m3 0h1m4 0h1m5 0h1M428 1405h1m2 0h1m4 0h1m1 0h1m1 0h2m1 0h4m1 0h3m3 0h3M428 1406h1m5 0h1m1 0h8m1 0h2m3 0h3m1 0h1m21 0h1M430 1407h1m1 0h1m3 0h2m1 0h2m1 0h2m1 0h5m1 0h1m6 0h2M430 1408h2m1 0h1m1 0h3m1 0h6m1 0h4m1 0h1m1 0h3m1 0h1m1 0h1m1 0h1M431 1409h2m1 0h3m1 0h3m2 0h1m3 0h1m4 0h2m1 0h2m4 0h1m2 0h1M427 1410h1m4 0h13m1 0h2m1 0h2m1 0h4m3 0h1m2 0h1m6 0h1M429 1411h1m3 0h2m1 0h1m1 0h16m1 0h1m1 0h1m4 0h1M428 1412h1m4 0h3m1 0h10m1 0h2m2 0h3m2 0h1m3 0h1M428 1413h3m1 0h1m1 0h9m1 0h1m1 0h4m2 0h4m1 0h1m6 0h1m2 0h1M427 1414h1m1 0h3m1 0h2m1 0h1m1 0h4m1 0h6m1 0h1m1 0h1m1 0h2m4 0h1m7 0h1M428 1415h1m1 0h2m5 0h1m1 0h4m1 0h8m2 0h1m1 0h1m3 0h1M428 1416h1m2 0h2m3 0h1m1 0h3m1 0h3m1 0h7m1 0h3m1 0h5M428 1417h2m2 0h4m1 0h1m1 0h5m1 0h2m1 0h4m4 0h5m1 0h1m1 0h1m4 0h1M428 1418h1m3 0h1m4 0h4m1 0h4m2 0h6m3 0h1m2 0h1m2 0h1m1 0h1M438 1419h2m1 0h4m1 0h2m3 0h2m2 0h1m1 0h2m1 0h1M431 1420h2m3 0h1m1 0h1m2 0h2m2 0h1m1 0h1m1 0h3m1 0h2m1 0h1m3 0h1m1 0h1m3 0h1M433 1421h1m2 0h1m1 0h2m1 0h1m3 0h2m1 0h1m1 0h2m3 0h1M431 1422h1m2 0h1m1 0h2m4 0h7m2 0h2m1 0h2M439 1423h1m6 0h1m3 0h1m5 0h1M435 1424h2m3 0h4m1 0h1m18 0h1M445 1425h1m3 0h1m2 0h1m2 0h1m1 0h1"/>
<path class="d" transform="translate(.35,.85)" stroke="#1a1a1a" d="M614 1324h1M612 1331h1M608 1332h1M603 1335h1M598 1336h1m11 0h1M589 1339h1m17 0h1M602 1340h1M612 1341h1M622 1346h1M609 1347h1M611 1348h1M609 1350h1M600 1351h1m6 0h1M598 1352h1M607 1354h1M606 1355h1M599 1356h1m13 0h1M588 1357h1M591 1358h1m11 0h1m11 0h1m11 0h1M612 1359h1M589 1360h1m4 0h1M604 1361h1m2 0h1M589 1362h1m14 0h1M593 1363h1m2 0h1m2 0h1m3 0h1m4 0h1m4 0h1m2 0h1M602 1364h1m2 0h1m3 0h1m3 0h1m1 0h1m3 0h1M581 1365h1m11 0h1m3 0h1m1 0h3m2 0h1m1 0h1m1 0h1m13 0h1M587 1366h1m2 0h1m2 0h3m5 0h1m1 0h2M586 1367h1m2 0h2m3 0h1m9 0h1m5 0h1m3 0h1M585 1368h2m6 0h1m2 0h1m1 0h2m2 0h2m3 0h1m1 0h1m3 0h1m7 0h1m14 0h1M584 1369h1m2 0h2m1 0h2m4 0h3m2 0h1m2 0h1m2 0h1m3 0h2m5 0h1M589 1370h1m2 0h1m2 0h2m1 0h1m8 0h3m1 0h2m1 0h1M580 1371h1m2 0h2m2 0h1m1 0h1m4 0h11m4 0h3m4 0h2m7 0h1M584 1372h2m4 0h4m1 0h5m1 0h1m2 0h3m2 0h2m1 0h1m3 0h1m13 0h1M582 1373h1m4 0h1m2 0h2m2 0h3m1 0h2m1 0h2m1 0h1m1 0h2m1 0h1m4 0h2m6 0h1m14 0h1M580 1374h1m5 0h1m2 0h1m1 0h6m1 0h1m2 0h6m2 0h2m3 0h1m1 0h2m4 0h1m1 0h1M581 1375h1m1 0h2m1 0h3m1 0h14m2 0h4m1 0h1m4 0h1m1 0h1m4 0h1m3 0h1M584 1376h1m1 0h11m2 0h10m2 0h1m2 0h1m13 0h1M586 1377h1m2 0h6m1 0h13m3 0h3m2 0h1m1 0h1m3 0h1m4 0h1M584 1378h1m1 0h7m1 0h4m1 0h9m5 0h1m6 0h1m1 0h1m6 0h1M586 1379h9m1 0h5m1 0h3m1 0h2m1 0h2m1 0h1m1 0h2m5 0h2M585 1380h2m2 0h3m2 0h3m1 0h2m1 0h3m1 0h3m3 0h1m1 0h3m1 0h1m4 0h1m2 0h1m3 0h1m2 0h1M582 1381h1m1 0h5m1 0h5m2 0h8m1 0h1m1 0h1m1 0h1m2 0h1m2 0h2m1 0h1m7 0h1m6 0h2M584 1382h2m2 0h2m1 0h14m1 0h1m2 0h2m1 0h1m5 0h1m2 0h1m4 0h1m4 0h1M581 1383h1m2 0h1m1 0h1m1 0h1m2 0h3m1 0h9m4 0h3m1 0h2m4 0h1m1 0h2m7 0h1M581 1384h1m1 0h1m1 0h1m3 0h1m2 0h1m1 0h5m1 0h10m3 0h1m2 0h3M581 1385h1m6 0h1m1 0h16m1 0h2m2 0h1m2 0h1M585 1386h1m2 0h4m1 0h7m1 0h3m1 0h2m4 0h4m2 0h1m1 0h1m1 0h1m4 0h1m1 0h1M584 1387h2m1 0h2m1 0h2m1 0h9m1 0h2m1 0h1m3 0h2m3 0h2m6 0h1m7 0h1m1 0h1M584 1388h2m2 0h3m1 0h4m2 0h9m1 0h2m2 0h1m3 0h1m5 0h1m3 0h1m10 0h1M582 1389h2m2 0h5m1 0h4m1 0h3m1 0h3m2 0h3m2 0h2m6 0h1m1 0h2m10 0h1M583 1390h2m1 0h1m1 0h7m1 0h2m1 0h2m3 0h1m3 0h2m12 0h1m6 0h1m2 0h1M589 1391h1m1 0h5m3 0h4m2 0h1m1 0h1m2 0h1m5 0h2m4 0h1m11 0h1M589 1392h1m2 0h1m1 0h1m2 0h2m1 0h1m3 0h1m7 0h1M584 1393h1m1 0h1m1 0h1m5 0h1m5 0h1m6 0h1m1 0h2m6 0h1m6 0h1m9 0h1M586 1394h1m3 0h1m1 0h1m1 0h1m1 0h1m3 0h1m1 0h2m1 0h1m3 0h1m12 0h1M586 1395h1m4 0h1m6 0h1m5 0h1m4 0h2m6 0h1m2 0h1M585 1396h1m3 0h1m4 0h3m4 0h1m2 0h1m4 0h1m13 0h2M581 1397h1m3 0h1m4 0h1m2 0h1m1 0h1m9 0h1m3 0h3m3 0h1m8 0h1M588 1398h1m5 0h3m3 0h3m2 0h1m2 0h1m4 0h1M597 1399h1m3 0h2m7 0h2m1 0h1m12 0h1M586 1400h1m3 0h1m2 0h1m3 0h1m2 0h1m1 0h7m2 0h1m10 0h1M592 1401h3m2 0h2m2 0h1m5 0h1m10 0h1M596 1402h2m2 0h1m2 0h1m1 0h2m2 0h1m2 0h1m2 0h1m4 0h2M587 1403h2m11 0h1m3 0h2m3 0h1m1 0h1m2 0h1m5 0h1m3 0h1M589 1404h1m3 0h5m1 0h1m4 0h1m1 0h5m2 0h1m10 0h1M580 1405h1m5 0h1m1 0h1m4 0h4m1 0h1m1 0h9m1 0h1m11 0h1M591 1406h1m3 0h1m1 0h1m3 0h3m6 0h1m3 0h2m1 0h1m7 0h1M593 1407h2m1 0h2m1 0h1m1 0h1m1 0h10m5 0h1m1 0h1M586 1408h1m1 0h1m4 0h2m1 0h1m1 0h4m1 0h2m1 0h4m1 0h1m9 0h1M585 1409h1m3 0h4m1 0h5m1 0h1m1 0h3m2 0h1m1 0h3m1 0h1m1 0h1m1 0h2m4 0h1M583 1410h1m2 0h1m1 0h1m2 0h1m1 0h1m1 0h5m2 0h5m1 0h4m2 0h1m1 0h1m5 0h1m3 0h1m2 0h1M583 1411h1m2 0h2m2 0h14m1 0h2m2 0h2m2 0h3m28 0h1M581 1412h1m1 0h1m1 0h1m1 0h1m1 0h1m2 0h2m1 0h1m1 0h11m3 0h1m1 0h3m3 0h3M587 1413h1m1 0h1m2 0h2m2 0h2m2 0h6m1 0h3m1 0h7m6 0h1M584 1414h1m1 0h1m1 0h1m1 0h5m2 0h5m1 0h5m1 0h8m4 0h1M583 1415h1m8 0h2m2 0h1m1 0h4m2 0h3m1 0h3m1 0h2m1 0h1m2 0h1m2 0h1M581 1416h3m3 0h1m3 0h1m1 0h1m1 0h4m2 0h2m1 0h2m1 0h2m1 0h4m1 0h1m6 0h1M584 1417h3m6 0h6m1 0h2m2 0h1m1 0h2m3 0h1m1 0h2m1 0h1m1 0h1m1 0h1m12 0h1M584 1418h4m1 0h3m1 0h1m4 0h3m1 0h2m1 0h4m2 0h5m1 0h1m18 0h1M582 1419h1m4 0h2m1 0h2m1 0h1m1 0h1m2 0h4m1 0h1m1 0h3m2 0h1m2 0h2m9 0h1M586 1420h1m1 0h1m2 0h2m1 0h1m2 0h3m4 0h4m4 0h2m1 0h2m12 0h1M589 1421h2m5 0h1m4 0h5m1 0h1m1 0h1m1 0h1m1 0h1m6 0h1M594 1422h1m2 0h1m1 0h2m3 0h1m1 0h5m1 0h2m10 0h1M588 1423h1m1 0h4m5 0h3m1 0h2m1 0h2m1 0h1m3 0h2m4 0h1M588 1424h1m5 0h1m5 0h2m1 0h1m4 0h1m1 0h1m6 0h1M595 1425h1m7 0h2m3 0h1"/>
<rect x="32" y="1131.7" width="144.7" height="144.1" fill="none" stroke="#111" stroke-width="1.4"/>
<path d="M29.2 1275.8h2.8M30.6 1267.9h1.4M30.6 1263.3h1.4M30.6 1260.1h1.4M30.6 1257.6h1.4M30.6 1255.5h1.4M30.6 1253.7h1.4M30.6 1252.2h1.4M30.6 1250.9h1.4M29.2 1249.7h2.8M30.6 1241.8h1.4M30.6 1237.2h1.4M30.6 1234h1.4M30.6 1231.5h1.4M30.6 1229.4h1.4M30.6 1227.6h1.4M30.6 1226.1h1.4M30.6 1224.8h1.4M29.2 1223.6h2.8M30.6 1215.7h1.4M30.6 1211.1h1.4M30.6 1207.9h1.4M30.6 1205.4h1.4M30.6 1203.3h1.4M30.6 1201.5h1.4M30.6 1200h1.4M30.6 1198.7h1.4M29.2 1197.5h2.8M30.6 1189.6h1.4M30.6 1185h1.4M30.6 1181.8h1.4M30.6 1179.3h1.4M30.6 1177.2h1.4M30.6 1175.4h1.4M30.6 1173.9h1.4M30.6 1172.6h1.4M29.2 1171.4h2.8M30.6 1163.5h1.4M30.6 1158.9h1.4M30.6 1155.7h1.4M30.6 1153.2h1.4M30.6 1151.1h1.4M30.6 1149.3h1.4M30.6 1147.8h1.4M30.6 1146.5h1.4M29.2 1145.3h2.8M30.6 1137.4h1.4M30.6 1132.8h1.4M32 1275.8v2.8M40.1 1275.8v1.4M44.8 1275.8v1.4M48.1 1275.8v1.4M50.7 1275.8v1.4M52.9 1275.8v1.4M54.6 1275.8v1.4M56.2 1275.8v1.4M57.6 1275.8v1.4M58.8 1275.8v2.8M66.9 1275.8v1.4M71.6 1275.8v1.4M74.9 1275.8v1.4M77.5 1275.8v1.4M79.7 1275.8v1.4M81.4 1275.8v1.4M83 1275.8v1.4M84.4 1275.8v1.4M85.6 1275.8v2.8M93.7 1275.8v1.4M98.4 1275.8v1.4M101.7 1275.8v1.4M104.3 1275.8v1.4M106.5 1275.8v1.4M108.2 1275.8v1.4M109.8 1275.8v1.4M111.2 1275.8v1.4M112.4 1275.8v2.8M120.5 1275.8v1.4M125.2 1275.8v1.4M128.5 1275.8v1.4M131.1 1275.8v1.4M133.3 1275.8v1.4M135 1275.8v1.4M136.6 1275.8v1.4M138 1275.8v1.4M139.2 1275.8v2.8M147.3 1275.8v1.4M152 1275.8v1.4M155.3 1275.8v1.4M157.9 1275.8v1.4M160.1 1275.8v1.4M161.8 1275.8v1.4M163.4 1275.8v1.4M164.8 1275.8v1.4M166 1275.8v2.8M174.1 1275.8v1.4" stroke="#222" stroke-width="1.0" fill="none"/>
<rect x="185" y="1131.7" width="145.1" height="144.1" fill="none" stroke="#111" stroke-width="1.4"/>
<path d="M182.2 1275.8h2.8M183.6 1267.9h1.4M183.6 1263.3h1.4M183.6 1260.1h1.4M183.6 1257.6h1.4M183.6 1255.5h1.4M183.6 1253.7h1.4M183.6 1252.2h1.4M183.6 1250.9h1.4M182.2 1249.7h2.8M183.6 1241.8h1.4M183.6 1237.2h1.4M183.6 1234h1.4M183.6 1231.5h1.4M183.6 1229.4h1.4M183.6 1227.6h1.4M183.6 1226.1h1.4M183.6 1224.8h1.4M182.2 1223.6h2.8M183.6 1215.7h1.4M183.6 1211.1h1.4M183.6 1207.9h1.4M183.6 1205.4h1.4M183.6 1203.3h1.4M183.6 1201.5h1.4M183.6 1200h1.4M183.6 1198.7h1.4M182.2 1197.5h2.8M183.6 1189.6h1.4M183.6 1185h1.4M183.6 1181.8h1.4M183.6 1179.3h1.4M183.6 1177.2h1.4M183.6 1175.4h1.4M183.6 1173.9h1.4M183.6 1172.6h1.4M182.2 1171.4h2.8M183.6 1163.5h1.4M183.6 1158.9h1.4M183.6 1155.7h1.4M183.6 1153.2h1.4M183.6 1151.1h1.4M183.6 1149.3h1.4M183.6 1147.8h1.4M183.6 1146.5h1.4M182.2 1145.3h2.8M183.6 1137.4h1.4M183.6 1132.8h1.4M185 1275.8v2.8M193.1 1275.8v1.4M197.8 1275.8v1.4M201.1 1275.8v1.4M203.7 1275.8v1.4M205.9 1275.8v1.4M207.6 1275.8v1.4M209.2 1275.8v1.4M210.6 1275.8v1.4M211.8 1275.8v2.8M219.9 1275.8v1.4M224.6 1275.8v1.4M227.9 1275.8v1.4M230.5 1275.8v1.4M232.7 1275.8v1.4M234.4 1275.8v1.4M236 1275.8v1.4M237.4 1275.8v1.4M238.6 1275.8v2.8M246.7 1275.8v1.4M251.4 1275.8v1.4M254.7 1275.8v1.4M257.3 1275.8v1.4M259.5 1275.8v1.4M261.2 1275.8v1.4M262.8 1275.8v1.4M264.2 1275.8v1.4M265.4 1275.8v2.8M273.5 1275.8v1.4M278.2 1275.8v1.4M281.5 1275.8v1.4M284.1 1275.8v1.4M286.3 1275.8v1.4M288 1275.8v1.4M289.6 1275.8v1.4M291 1275.8v1.4M292.2 1275.8v2.8M300.3 1275.8v1.4M305 1275.8v1.4M308.3 1275.8v1.4M310.9 1275.8v1.4M313.1 1275.8v1.4M314.8 1275.8v1.4M316.4 1275.8v1.4M317.8 1275.8v1.4M319 1275.8v2.8M327.1 1275.8v1.4" stroke="#222" stroke-width="1.0" fill="none"/>
<rect x="32" y="1282.9" width="144.7" height="145" fill="none" stroke="#111" stroke-width="1.4"/>
<path d="M29.2 1427.9h2.8M30.6 1418.1h1.4M30.6 1412.4h1.4M30.6 1408.3h1.4M30.6 1405.2h1.4M30.6 1402.6h1.4M30.6 1400.4h1.4M30.6 1398.5h1.4M30.6 1396.9h1.4M29.2 1395.4h2.8M30.6 1385.6h1.4M30.6 1379.9h1.4M30.6 1375.8h1.4M30.6 1372.7h1.4M30.6 1370.1h1.4M30.6 1367.9h1.4M30.6 1366h1.4M30.6 1364.4h1.4M29.2 1362.9h2.8M30.6 1353.1h1.4M30.6 1347.4h1.4M30.6 1343.3h1.4M30.6 1340.2h1.4M30.6 1337.6h1.4M30.6 1335.4h1.4M30.6 1333.5h1.4M30.6 1331.9h1.4M29.2 1330.4h2.8M30.6 1320.6h1.4M30.6 1314.9h1.4M30.6 1310.8h1.4M30.6 1307.7h1.4M30.6 1305.1h1.4M30.6 1302.9h1.4M30.6 1301h1.4M30.6 1299.4h1.4M29.2 1297.9h2.8M30.6 1288.1h1.4M32 1427.9v2.8M40.1 1427.9v1.4M44.8 1427.9v1.4M48.1 1427.9v1.4M50.7 1427.9v1.4M52.9 1427.9v1.4M54.6 1427.9v1.4M56.2 1427.9v1.4M57.6 1427.9v1.4M58.8 1427.9v2.8M66.9 1427.9v1.4M71.6 1427.9v1.4M74.9 1427.9v1.4M77.5 1427.9v1.4M79.7 1427.9v1.4M81.4 1427.9v1.4M83 1427.9v1.4M84.4 1427.9v1.4M85.6 1427.9v2.8M93.7 1427.9v1.4M98.4 1427.9v1.4M101.7 1427.9v1.4M104.3 1427.9v1.4M106.5 1427.9v1.4M108.2 1427.9v1.4M109.8 1427.9v1.4M111.2 1427.9v1.4M112.4 1427.9v2.8M120.5 1427.9v1.4M125.2 1427.9v1.4M128.5 1427.9v1.4M131.1 1427.9v1.4M133.3 1427.9v1.4M135 1427.9v1.4M136.6 1427.9v1.4M138 1427.9v1.4M139.2 1427.9v2.8M147.3 1427.9v1.4M152 1427.9v1.4M155.3 1427.9v1.4M157.9 1427.9v1.4M160.1 1427.9v1.4M161.8 1427.9v1.4M163.4 1427.9v1.4M164.8 1427.9v1.4M166 1427.9v2.8M174.1 1427.9v1.4" stroke="#222" stroke-width="1.0" fill="none"/>
<rect x="185" y="1282.9" width="145.1" height="145" fill="none" stroke="#111" stroke-width="1.4"/>
<path d="M182.2 1427.9h2.8M183.6 1418.1h1.4M183.6 1412.4h1.4M183.6 1408.3h1.4M183.6 1405.2h1.4M183.6 1402.6h1.4M183.6 1400.4h1.4M183.6 1398.5h1.4M183.6 1396.9h1.4M182.2 1395.4h2.8M183.6 1385.6h1.4M183.6 1379.9h1.4M183.6 1375.8h1.4M183.6 1372.7h1.4M183.6 1370.1h1.4M183.6 1367.9h1.4M183.6 1366h1.4M183.6 1364.4h1.4M182.2 1362.9h2.8M183.6 1353.1h1.4M183.6 1347.4h1.4M183.6 1343.3h1.4M183.6 1340.2h1.4M183.6 1337.6h1.4M183.6 1335.4h1.4M183.6 1333.5h1.4M183.6 1331.9h1.4M182.2 1330.4h2.8M183.6 1320.6h1.4M183.6 1314.9h1.4M183.6 1310.8h1.4M183.6 1307.7h1.4M183.6 1305.1h1.4M183.6 1302.9h1.4M183.6 1301h1.4M183.6 1299.4h1.4M182.2 1297.9h2.8M183.6 1288.1h1.4M185 1427.9v2.8M193.1 1427.9v1.4M197.8 1427.9v1.4M201.1 1427.9v1.4M203.7 1427.9v1.4M205.9 1427.9v1.4M207.6 1427.9v1.4M209.2 1427.9v1.4M210.6 1427.9v1.4M211.8 1427.9v2.8M219.9 1427.9v1.4M224.6 1427.9v1.4M227.9 1427.9v1.4M230.5 1427.9v1.4M232.7 1427.9v1.4M234.4 1427.9v1.4M236 1427.9v1.4M237.4 1427.9v1.4M238.6 1427.9v2.8M246.7 1427.9v1.4M251.4 1427.9v1.4M254.7 1427.9v1.4M257.3 1427.9v1.4M259.5 1427.9v1.4M261.2 1427.9v1.4M262.8 1427.9v1.4M264.2 1427.9v1.4M265.4 1427.9v2.8M273.5 1427.9v1.4M278.2 1427.9v1.4M281.5 1427.9v1.4M284.1 1427.9v1.4M286.3 1427.9v1.4M288 1427.9v1.4M289.6 1427.9v1.4M291 1427.9v1.4M292.2 1427.9v2.8M300.3 1427.9v1.4M305 1427.9v1.4M308.3 1427.9v1.4M310.9 1427.9v1.4M313.1 1427.9v1.4M314.8 1427.9v1.4M316.4 1427.9v1.4M317.8 1427.9v1.4M319 1427.9v2.8M327.1 1427.9v1.4" stroke="#222" stroke-width="1.0" fill="none"/>
<rect x="373.2" y="1129.8" width="144.8" height="144.2" fill="none" stroke="#111" stroke-width="1.4"/>
<path d="M370.4 1274h2.8M371.8 1263.2h1.4M371.8 1256.8h1.4M371.8 1252.3h1.4M371.8 1248.8h1.4M371.8 1246h1.4M371.8 1243.6h1.4M371.8 1241.5h1.4M371.8 1239.6h1.4M370.4 1238h2.8M371.8 1227.2h1.4M371.8 1220.8h1.4M371.8 1216.3h1.4M371.8 1212.8h1.4M371.8 1210h1.4M371.8 1207.6h1.4M371.8 1205.5h1.4M371.8 1203.6h1.4M370.4 1202h2.8M371.8 1191.2h1.4M371.8 1184.8h1.4M371.8 1180.3h1.4M371.8 1176.8h1.4M371.8 1174h1.4M371.8 1171.6h1.4M371.8 1169.5h1.4M371.8 1167.6h1.4M370.4 1166h2.8M371.8 1155.2h1.4M371.8 1148.8h1.4M371.8 1144.3h1.4M371.8 1140.8h1.4M371.8 1138h1.4M371.8 1135.6h1.4M371.8 1133.5h1.4M371.8 1131.6h1.4M370.4 1130h2.8M373.2 1274v2.8M384.1 1274v1.4M390.5 1274v1.4M395 1274v1.4M398.5 1274v1.4M401.4 1274v1.4M403.8 1274v1.4M405.9 1274v1.4M407.7 1274v1.4M409.4 1274v2.8M420.3 1274v1.4M426.7 1274v1.4M431.2 1274v1.4M434.7 1274v1.4M437.6 1274v1.4M440 1274v1.4M442.1 1274v1.4M443.9 1274v1.4M445.6 1274v2.8M456.5 1274v1.4M462.9 1274v1.4M467.4 1274v1.4M470.9 1274v1.4M473.8 1274v1.4M476.2 1274v1.4M478.3 1274v1.4M480.1 1274v1.4M481.8 1274v2.8M492.7 1274v1.4M499.1 1274v1.4M503.6 1274v1.4M507.1 1274v1.4M510 1274v1.4M512.4 1274v1.4M514.5 1274v1.4M516.3 1274v1.4M518 1274v2.8" stroke="#222" stroke-width="1.0" fill="none"/>
<rect x="526.3" y="1129.8" width="145.1" height="144.2" fill="none" stroke="#111" stroke-width="1.4"/>
<path d="M523.5 1274h2.8M524.9 1263.2h1.4M524.9 1256.8h1.4M524.9 1252.3h1.4M524.9 1248.8h1.4M524.9 1246h1.4M524.9 1243.6h1.4M524.9 1241.5h1.4M524.9 1239.6h1.4M523.5 1238h2.8M524.9 1227.2h1.4M524.9 1220.8h1.4M524.9 1216.3h1.4M524.9 1212.8h1.4M524.9 1210h1.4M524.9 1207.6h1.4M524.9 1205.5h1.4M524.9 1203.6h1.4M523.5 1202h2.8M524.9 1191.2h1.4M524.9 1184.8h1.4M524.9 1180.3h1.4M524.9 1176.8h1.4M524.9 1174h1.4M524.9 1171.6h1.4M524.9 1169.5h1.4M524.9 1167.6h1.4M523.5 1166h2.8M524.9 1155.2h1.4M524.9 1148.8h1.4M524.9 1144.3h1.4M524.9 1140.8h1.4M524.9 1138h1.4M524.9 1135.6h1.4M524.9 1133.5h1.4M524.9 1131.6h1.4M523.5 1130h2.8M526.3 1274v2.8M537.2 1274v1.4M543.6 1274v1.4M548.1 1274v1.4M551.6 1274v1.4M554.5 1274v1.4M556.9 1274v1.4M559 1274v1.4M560.8 1274v1.4M562.5 1274v2.8M573.4 1274v1.4M579.8 1274v1.4M584.3 1274v1.4M587.8 1274v1.4M590.7 1274v1.4M593.1 1274v1.4M595.2 1274v1.4M597 1274v1.4M598.7 1274v2.8M609.6 1274v1.4M616 1274v1.4M620.5 1274v1.4M624 1274v1.4M626.9 1274v1.4M629.3 1274v1.4M631.4 1274v1.4M633.2 1274v1.4M634.9 1274v2.8M645.8 1274v1.4M652.2 1274v1.4M656.7 1274v1.4M660.2 1274v1.4M663.1 1274v1.4M665.5 1274v1.4M667.6 1274v1.4M669.4 1274v1.4M671.1 1274v2.8" stroke="#222" stroke-width="1.0" fill="none"/>
<rect x="373.2" y="1282.6" width="144.8" height="144.3" fill="none" stroke="#111" stroke-width="1.4"/>
<path d="M370.4 1426.9h2.8M371.8 1416.1h1.4M371.8 1409.7h1.4M371.8 1405.2h1.4M371.8 1401.7h1.4M371.8 1398.9h1.4M371.8 1396.5h1.4M371.8 1394.4h1.4M371.8 1392.5h1.4M370.4 1390.9h2.8M371.8 1380.1h1.4M371.8 1373.7h1.4M371.8 1369.2h1.4M371.8 1365.7h1.4M371.8 1362.9h1.4M371.8 1360.5h1.4M371.8 1358.4h1.4M371.8 1356.5h1.4M370.4 1354.9h2.8M371.8 1344.1h1.4M371.8 1337.7h1.4M371.8 1333.2h1.4M371.8 1329.7h1.4M371.8 1326.9h1.4M371.8 1324.5h1.4M371.8 1322.4h1.4M371.8 1320.5h1.4M370.4 1318.9h2.8M371.8 1308.1h1.4M371.8 1301.7h1.4M371.8 1297.2h1.4M371.8 1293.7h1.4M371.8 1290.9h1.4M371.8 1288.5h1.4M371.8 1286.4h1.4M371.8 1284.5h1.4M370.4 1282.9h2.8M373.2 1426.9v2.8M384.1 1426.9v1.4M390.5 1426.9v1.4M395 1426.9v1.4M398.5 1426.9v1.4M401.4 1426.9v1.4M403.8 1426.9v1.4M405.9 1426.9v1.4M407.7 1426.9v1.4M409.4 1426.9v2.8M420.3 1426.9v1.4M426.7 1426.9v1.4M431.2 1426.9v1.4M434.7 1426.9v1.4M437.6 1426.9v1.4M440 1426.9v1.4M442.1 1426.9v1.4M443.9 1426.9v1.4M445.6 1426.9v2.8M456.5 1426.9v1.4M462.9 1426.9v1.4M467.4 1426.9v1.4M470.9 1426.9v1.4M473.8 1426.9v1.4M476.2 1426.9v1.4M478.3 1426.9v1.4M480.1 1426.9v1.4M481.8 1426.9v2.8M492.7 1426.9v1.4M499.1 1426.9v1.4M503.6 1426.9v1.4M507.1 1426.9v1.4M510 1426.9v1.4M512.4 1426.9v1.4M514.5 1426.9v1.4M516.3 1426.9v1.4M518 1426.9v2.8" stroke="#222" stroke-width="1.0" fill="none"/>
<rect x="526.3" y="1282.6" width="145.1" height="144.3" fill="none" stroke="#111" stroke-width="1.4"/>
<path d="M523.5 1426.9h2.8M524.9 1416.1h1.4M524.9 1409.7h1.4M524.9 1405.2h1.4M524.9 1401.7h1.4M524.9 1398.9h1.4M524.9 1396.5h1.4M524.9 1394.4h1.4M524.9 1392.5h1.4M523.5 1390.9h2.8M524.9 1380.1h1.4M524.9 1373.7h1.4M524.9 1369.2h1.4M524.9 1365.7h1.4M524.9 1362.9h1.4M524.9 1360.5h1.4M524.9 1358.4h1.4M524.9 1356.5h1.4M523.5 1354.9h2.8M524.9 1344.1h1.4M524.9 1337.7h1.4M524.9 1333.2h1.4M524.9 1329.7h1.4M524.9 1326.9h1.4M524.9 1324.5h1.4M524.9 1322.4h1.4M524.9 1320.5h1.4M523.5 1318.9h2.8M524.9 1308.1h1.4M524.9 1301.7h1.4M524.9 1297.2h1.4M524.9 1293.7h1.4M524.9 1290.9h1.4M524.9 1288.5h1.4M524.9 1286.4h1.4M524.9 1284.5h1.4M523.5 1282.9h2.8M526.3 1426.9v2.8M537.2 1426.9v1.4M543.6 1426.9v1.4M548.1 1426.9v1.4M551.6 1426.9v1.4M554.5 1426.9v1.4M556.9 1426.9v1.4M559 1426.9v1.4M560.8 1426.9v1.4M562.5 1426.9v2.8M573.4 1426.9v1.4M579.8 1426.9v1.4M584.3 1426.9v1.4M587.8 1426.9v1.4M590.7 1426.9v1.4M593.1 1426.9v1.4M595.2 1426.9v1.4M597 1426.9v1.4M598.7 1426.9v2.8M609.6 1426.9v1.4M616 1426.9v1.4M620.5 1426.9v1.4M624 1426.9v1.4M626.9 1426.9v1.4M629.3 1426.9v1.4M631.4 1426.9v1.4M633.2 1426.9v1.4M634.9 1426.9v2.8M645.8 1426.9v1.4M652.2 1426.9v1.4M656.7 1426.9v1.4M660.2 1426.9v1.4M663.1 1426.9v1.4M665.5 1426.9v1.4M667.6 1426.9v1.4M669.4 1426.9v1.4M671.1 1426.9v2.8" stroke="#222" stroke-width="1.0" fill="none"/>
<rect x="70.5" y="1157.4" width="70.1" height="78.9" fill="none" stroke="#333" stroke-width="1.2"/>
<rect x="223.5" y="1157.4" width="70.5" height="78.9" fill="none" stroke="#333" stroke-width="1.2"/>
<rect x="107.7" y="1299.5" width="46.8" height="79.9" fill="none" stroke="#333" stroke-width="1.2"/>
<rect x="261.5" y="1299.5" width="45.1" height="79.9" fill="none" stroke="#333" stroke-width="1.2"/>
<rect x="410.5" y="1133.9" width="74" height="79.5" fill="none" stroke="#333" stroke-width="1.2"/>
<rect x="563.5" y="1133.9" width="74.1" height="79.5" fill="none" stroke="#333" stroke-width="1.2"/>
<rect x="415.5" y="1291.4" width="69" height="108.1" fill="none" stroke="#333" stroke-width="1.2"/>
<rect x="568.6" y="1291.4" width="69.2" height="108.1" fill="none" stroke="#333" stroke-width="1.2"/>
<text class="rb" x="93.2" y="1125.1" font-size="21.8" textLength="31.4" lengthAdjust="spacingAndGlyphs" style="stroke-width:1.0px;">WT</text>
<text class="rb" x="243.7" y="1125.1" font-size="21.8" textLength="31.8" lengthAdjust="spacingAndGlyphs" style="stroke-width:1.0px;">KO</text>
<text class="rb" x="434.1" y="1122.8" font-size="21.8" textLength="31.4" lengthAdjust="spacingAndGlyphs" style="stroke-width:1.0px;">WT</text>
<text class="rb" x="574.3" y="1122.8" font-size="21.8" textLength="31.2" lengthAdjust="spacingAndGlyphs" style="stroke-width:1.0px;">KO</text>
<text class="rb" x="81.5" y="1180.9" font-size="22.4" textLength="55.3" lengthAdjust="spacingAndGlyphs" style="stroke-width:1.0px;">66.2%</text>
<text class="rb" x="228.6" y="1180.9" font-size="22.4" textLength="55.4" lengthAdjust="spacingAndGlyphs" style="stroke-width:1.0px;">62.4%</text>
<text class="rb" x="83.9" y="1307" font-size="22.4" textLength="53.5" lengthAdjust="spacingAndGlyphs" style="stroke-width:1.0px;">15.4%</text>
<text class="rb" x="234.2" y="1307.9" font-size="22.4" textLength="53.8" lengthAdjust="spacingAndGlyphs" style="stroke-width:1.0px;">10.5%</text>
<text class="rb" x="420.7" y="1170.6" font-size="22.4" textLength="55.5" lengthAdjust="spacingAndGlyphs" style="stroke-width:1.0px;">23.2%</text>
<text class="rb" x="570.6" y="1169.6" font-size="22.4" textLength="55.3" lengthAdjust="spacingAndGlyphs" style="stroke-width:1.0px;">21.9%</text>
<text class="rb" x="421" y="1326.7" font-size="22.4" textLength="55.5" lengthAdjust="spacingAndGlyphs" style="stroke-width:1.0px;">77.8%</text>
<text class="rb" x="568.4" y="1320.5" font-size="22.4" textLength="54.6" lengthAdjust="spacingAndGlyphs" style="stroke-width:1.0px;">53.6%</text>
<rect x="16.7" y="1127.6" width="3" height="91.8" fill="#000"/>
<polygon points="18.2,1116 11.4,1128.6 25,1128.6"/>
<rect x="16.7" y="1287.6" width="3" height="76.2" fill="#000"/>
<polygon points="18.2,1276 11.4,1288.6 25,1288.6"/>
<rect x="359.5" y="1133.9" width="3" height="94.9" fill="#000"/>
<polygon points="361,1122.3 354.2,1134.9 367.8,1134.9"/>
<rect x="359.5" y="1298.9" width="3" height="79.9" fill="#000"/>
<polygon points="361,1287.3 354.2,1299.9 367.8,1299.9"/>
<rect x="71.2" y="1440.5" width="263.9" height="3.5" fill="#000"/>
<polygon points="346.1,1442.2 334.1,1435.8 334.1,1448.6"/>
<rect x="433.8" y="1433.1" width="237.3" height="3.8" fill="#000"/>
<polygon points="682.7,1435 670.1,1428.6 670.1,1441.4"/>
<g transform="translate(20.4,1272.8) rotate(-90) scale(1,1.07)"><text class="rb" x="-0.6" y="0" font-size="19.3" textLength="41.7" lengthAdjust="spacingAndGlyphs">IFNγ</text></g>
<g transform="translate(20.6,1417.9) rotate(-90) scale(1,1.03)"><text class="rb" x="-0.6" y="0" font-size="19.3" textLength="45.8" lengthAdjust="spacingAndGlyphs">IL-17</text></g>
<g transform="translate(362.7,1274) rotate(-90) scale(1,1.07)"><text class="rb" x="-0.6" y="0" font-size="19.3" textLength="36.7" lengthAdjust="spacingAndGlyphs">IL-4</text></g>
<g transform="translate(363.2,1434.8) rotate(-90) scale(1,1.07)"><text class="rb" x="-0.3" y="0" font-size="19.3" textLength="50.7" lengthAdjust="spacingAndGlyphs">Foxp3</text></g>
<text class="rb" x="21.6" y="1450.6" font-size="20.4" textLength="38.4" lengthAdjust="spacingAndGlyphs">CD4</text>
<text class="rb" x="383" y="1450.4" font-size="20.4" textLength="38.5" lengthAdjust="spacingAndGlyphs">CD4</text>
<g style="mix-blend-mode:multiply"><circle cx="877.3" cy="45.6" r="13.7" fill="none" stroke="#9c9c9c" stroke-width="1.9"/><text class="rn" x="866.8" y="55.8" font-size="28.5" textLength="20" lengthAdjust="spacingAndGlyphs" style="fill:#9c9c9c;stroke:#9c9c9c;stroke-width:1.3px;">C</text><text class="rn" x="904.8" y="58" font-size="37" textLength="38.9" lengthAdjust="spacingAndGlyphs" style="fill:#9c9c9c;stroke:#9c9c9c;stroke-width:0.3px;">W</text><text class="rn" x="945.8" y="58" font-size="30.2" textLength="85.9" lengthAdjust="spacingAndGlyphs" style="fill:#9c9c9c;stroke:#9c9c9c;stroke-width:0.3px;">ILEY</text></g>
</g></svg></body></html>
